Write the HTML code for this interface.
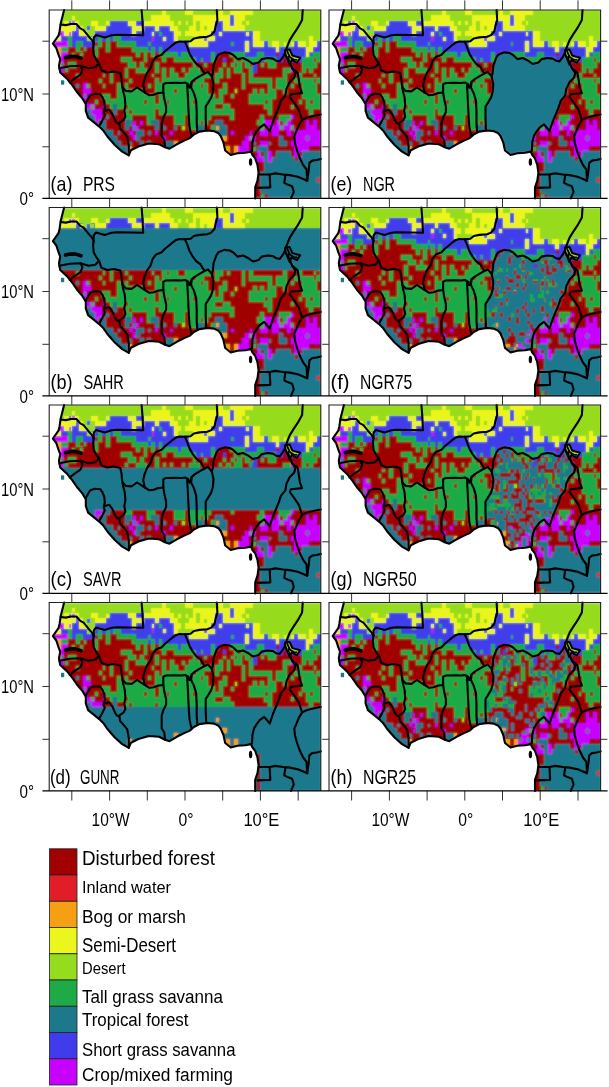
<!DOCTYPE html>
<html><head><meta charset="utf-8"><title>Land cover experiments</title>
<style>html,body{margin:0;padding:0;background:#fff}svg{display:block}text{font-family:"Liberation Sans",sans-serif;fill:#000}</style></head><body>
<svg width="609" height="1087" viewBox="0 0 609 1087">
<rect width="609" height="1087" fill="#fff"/>
<filter id="soft" x="0" y="0" width="100%" height="100%" filterUnits="objectBoundingBox"><feGaussianBlur stdDeviation="0.8" result="b"/><feComposite in="SourceGraphic" in2="b" operator="arithmetic" k1="0" k2="0.5" k3="0.5" k4="0"/></filter>
<g transform="translate(49.2 10)">
<g filter="url(#soft)"><rect width="271.6" height="188.4" fill="#fff"/><g shape-rendering="crispEdges">
<path fill="#96dc1e" d="M7.5 0H113.2V5.2H7.5zM116.9 0H135.8V5.2H116.9zM143.3 0H169.8V5.2H143.3zM173.5 0H181.1V5.2H173.5zM203.7 0H271.6V5.2H203.7zM3.8 5.2H101.9V10.5H3.8zM120.7 5.2H143.3V10.5H120.7zM196.2 5.2H271.6V10.5H196.2zM3.8 10.5H15.1V15.7H3.8zM30.2 10.5H41.5V15.7H30.2zM49 10.5H60.4V15.7H49zM124.5 10.5H143.3V15.7H124.5zM147.1 10.5H150.9V15.7H147.1zM196.2 10.5H271.6V15.7H196.2zM34 15.7H45.3V20.9H34zM128.3 15.7H139.6V20.9H128.3zM147.1 15.7H150.9V20.9H147.1zM196.2 15.7H271.6V20.9H196.2zM37.7 20.9H45.3V26.2H37.7zM132 20.9H135.8V26.2H132zM211.2 20.9H271.6V26.2H211.2zM37.7 26.2H41.5V31.4H37.7zM128.3 26.2H143.3V31.4H128.3zM211.2 26.2H260.3V31.4H211.2zM264.1 26.2H271.6V31.4H264.1zM218.8 31.4H222.6V36.6H218.8zM230.1 31.4H245.2V36.6H230.1zM256.5 31.4H260.3V36.6H256.5z"/>
<path fill="#ebf51e" d="M113.2 0H116.9V5.2H113.2zM135.8 0H143.3V5.2H135.8zM169.8 0H173.5V5.2H169.8zM181.1 0H203.7V5.2H181.1zM101.9 5.2H120.7V10.5H101.9zM143.3 5.2H181.1V10.5H143.3zM184.8 5.2H196.2V10.5H184.8zM15.1 10.5H30.2V15.7H15.1zM41.5 10.5H49V15.7H41.5zM79.2 10.5H86.8V15.7H79.2zM94.3 10.5H124.5V15.7H94.3zM143.3 10.5H147.1V15.7H143.3zM150.9 10.5H166V15.7H150.9zM173.5 10.5H181.1V15.7H173.5zM184.8 10.5H196.2V15.7H184.8zM3.8 15.7H26.4V20.9H3.8zM30.2 15.7H34V20.9H30.2zM45.3 15.7H56.6V20.9H45.3zM83 15.7H94.3V20.9H83zM105.6 15.7H109.4V20.9H105.6zM120.7 15.7H128.3V20.9H120.7zM139.6 15.7H147.1V20.9H139.6zM150.9 15.7H166V20.9H150.9zM173.5 15.7H196.2V20.9H173.5zM15.1 20.9H22.6V26.2H15.1zM30.2 20.9H37.7V26.2H30.2zM83 20.9H86.8V26.2H83zM124.5 20.9H132V26.2H124.5zM135.8 20.9H162.2V26.2H135.8zM203.7 20.9H211.2V26.2H203.7zM0 26.2H11.3V31.4H0zM124.5 26.2H128.3V31.4H124.5zM143.3 26.2H166V31.4H143.3zM203.7 26.2H211.2V31.4H203.7zM260.3 26.2H264.1V31.4H260.3zM139.6 31.4H158.4V36.6H139.6zM196.2 31.4H199.9V36.6H196.2zM203.7 31.4H215V36.6H203.7zM222.6 31.4H230.1V36.6H222.6zM249 31.4H256.5V36.6H249zM260.3 31.4H267.8V36.6H260.3zM196.2 36.6H199.9V41.9H196.2zM226.3 36.6H230.1V41.9H226.3zM256.5 36.6H264.1V41.9H256.5zM256.5 41.9H260.3V47.1H256.5z"/>
<path fill="#413ceb" d="M181.1 5.2H184.8V10.5H181.1zM60.4 10.5H79.2V15.7H60.4zM86.8 10.5H94.3V15.7H86.8zM166 10.5H173.5V15.7H166zM181.1 10.5H184.8V15.7H181.1zM26.4 15.7H30.2V20.9H26.4zM56.6 15.7H83V20.9H56.6zM94.3 15.7H105.6V20.9H94.3zM109.4 15.7H120.7V20.9H109.4zM166 15.7H173.5V20.9H166zM22.6 20.9H30.2V26.2H22.6zM45.3 20.9H83V26.2H45.3zM86.8 20.9H124.5V26.2H86.8zM162.2 20.9H203.7V26.2H162.2zM11.3 26.2H18.9V31.4H11.3zM22.6 26.2H37.7V31.4H22.6zM41.5 26.2H49V31.4H41.5zM52.8 26.2H56.6V31.4H52.8zM60.4 26.2H64.1V31.4H60.4zM71.7 26.2H124.5V31.4H71.7zM166 26.2H203.7V31.4H166zM22.6 31.4H26.4V36.6H22.6zM34 31.4H45.3V36.6H34zM86.8 31.4H139.6V36.6H86.8zM158.4 31.4H196.2V36.6H158.4zM199.9 31.4H203.7V36.6H199.9zM215 31.4H218.8V36.6H215zM245.2 31.4H249V36.6H245.2zM267.8 31.4H271.6V36.6H267.8zM105.6 36.6H109.4V41.9H105.6zM113.2 36.6H196.2V41.9H113.2zM199.9 36.6H226.3V41.9H199.9zM230.1 36.6H256.5V41.9H230.1zM264.1 36.6H271.6V41.9H264.1zM128.3 41.9H132V47.1H128.3zM139.6 41.9H162.2V47.1H139.6zM166 41.9H169.8V47.1H166zM196.2 41.9H207.5V47.1H196.2zM215 41.9H256.5V47.1H215zM147.1 47.1H162.2V52.3H147.1zM226.3 47.1H233.9V52.3H226.3zM237.7 47.1H252.7V52.3H237.7zM203.7 52.3H207.5V57.6H203.7zM203.7 57.6H207.5V62.8H203.7z"/>
<path fill="#c800ff" d="M3.8 20.9H15.1V26.2H3.8zM0 31.4H18.9V36.6H0zM11.3 41.9H18.9V47.1H11.3zM3.8 47.1H15.1V52.3H3.8zM11.3 52.3H15.1V57.6H11.3zM3.8 57.6H15.1V62.8H3.8zM34 73.3H37.7V78.5H34zM34 78.5H41.5V83.7H34zM34 83.7H37.7V89H34zM26.4 89H37.7V94.2H26.4zM30.2 94.2H45.3V99.4H30.2zM41.5 99.4H52.8V104.7H41.5zM45.3 104.7H52.8V109.9H45.3zM45.3 109.9H49V115.1H45.3zM215 109.9H222.6V115.1H215zM226.3 109.9H230.1V115.1H226.3zM237.7 109.9H241.4V115.1H237.7zM256.5 109.9H260.3V115.1H256.5zM264.1 109.9H267.8V115.1H264.1zM83 115.1H86.8V120.4H83zM215 115.1H245.2V120.4H215zM256.5 115.1H267.8V120.4H256.5zM83 120.4H86.8V125.6H83zM211.2 120.4H218.8V125.6H211.2zM222.6 120.4H230.1V125.6H222.6zM237.7 120.4H241.4V125.6H237.7zM245.2 120.4H271.6V125.6H245.2zM196.2 125.6H203.7V130.8H196.2zM245.2 125.6H271.6V130.8H245.2zM192.4 130.8H199.9V136.1H192.4zM211.2 130.8H218.8V136.1H211.2zM241.4 130.8H271.6V136.1H241.4zM188.6 136.1H199.9V141.3H188.6zM245.2 136.1H260.3V141.3H245.2zM188.6 141.3H199.9V146.5H188.6zM207.5 141.3H211.2V146.5H207.5zM218.8 141.3H222.6V146.5H218.8zM245.2 141.3H252.7V146.5H245.2zM188.6 146.5H215V151.8H188.6zM218.8 146.5H222.6V151.8H218.8z"/>
<path fill="#1eaa46" d="M18.9 26.2H22.6V31.4H18.9zM49 26.2H52.8V31.4H49zM56.6 26.2H60.4V31.4H56.6zM64.1 26.2H71.7V31.4H64.1zM18.9 31.4H22.6V36.6H18.9zM26.4 31.4H34V36.6H26.4zM45.3 31.4H52.8V36.6H45.3zM56.6 31.4H60.4V36.6H56.6zM67.9 31.4H86.8V36.6H67.9zM11.3 36.6H18.9V41.9H11.3zM26.4 36.6H34V41.9H26.4zM45.3 36.6H49V41.9H45.3zM56.6 36.6H60.4V41.9H56.6zM83 36.6H105.6V41.9H83zM109.4 36.6H113.2V41.9H109.4zM45.3 41.9H49V47.1H45.3zM86.8 41.9H90.5V47.1H86.8zM94.3 41.9H98.1V47.1H94.3zM101.9 41.9H105.6V47.1H101.9zM109.4 41.9H128.3V47.1H109.4zM132 41.9H139.6V47.1H132zM162.2 41.9H166V47.1H162.2zM181.1 41.9H196.2V47.1H181.1zM207.5 41.9H215V47.1H207.5zM260.3 41.9H271.6V47.1H260.3zM71.7 47.1H83V52.3H71.7zM94.3 47.1H98.1V52.3H94.3zM113.2 47.1H116.9V52.3H113.2zM124.5 47.1H147.1V52.3H124.5zM162.2 47.1H166V52.3H162.2zM184.8 47.1H226.3V52.3H184.8zM252.7 47.1H271.6V52.3H252.7zM18.9 52.3H26.4V57.6H18.9zM79.2 52.3H86.8V57.6H79.2zM90.5 52.3H94.3V57.6H90.5zM105.6 52.3H109.4V57.6H105.6zM143.3 52.3H147.1V57.6H143.3zM184.8 52.3H192.4V57.6H184.8zM196.2 52.3H203.7V57.6H196.2zM218.8 52.3H226.3V57.6H218.8zM252.7 52.3H267.8V57.6H252.7zM75.4 57.6H79.2V62.8H75.4zM86.8 57.6H98.1V62.8H86.8zM105.6 57.6H109.4V62.8H105.6zM113.2 57.6H116.9V62.8H113.2zM120.7 57.6H124.5V62.8H120.7zM139.6 57.6H150.9V62.8H139.6zM169.8 57.6H173.5V62.8H169.8zM177.3 57.6H181.1V62.8H177.3zM184.8 57.6H192.4V62.8H184.8zM199.9 57.6H203.7V62.8H199.9zM233.9 57.6H241.4V62.8H233.9zM252.7 57.6H256.5V62.8H252.7zM260.3 57.6H264.1V62.8H260.3zM60.4 62.8H64.1V68H60.4zM75.4 62.8H79.2V68H75.4zM113.2 62.8H116.9V68H113.2zM120.7 62.8H128.3V68H120.7zM135.8 62.8H162.2V68H135.8zM166 62.8H173.5V68H166zM177.3 62.8H181.1V68H177.3zM192.4 62.8H196.2V68H192.4zM199.9 62.8H203.7V68H199.9zM233.9 62.8H237.7V68H233.9zM249 62.8H252.7V68H249zM60.4 68H64.1V73.3H60.4zM105.6 68H109.4V73.3H105.6zM113.2 68H154.7V73.3H113.2zM166 68H169.8V73.3H166zM192.4 68H196.2V73.3H192.4zM199.9 68H222.6V73.3H199.9zM226.3 68H237.7V73.3H226.3zM245.2 68H271.6V73.3H245.2zM67.9 73.3H71.7V78.5H67.9zM75.4 73.3H79.2V78.5H75.4zM105.6 73.3H158.4V78.5H105.6zM173.5 73.3H177.3V78.5H173.5zM192.4 73.3H196.2V78.5H192.4zM218.8 73.3H222.6V78.5H218.8zM226.3 73.3H237.7V78.5H226.3zM252.7 73.3H267.8V78.5H252.7zM67.9 78.5H94.3V83.7H67.9zM105.6 78.5H158.4V83.7H105.6zM169.8 78.5H177.3V83.7H169.8zM203.7 78.5H207.5V83.7H203.7zM211.2 78.5H215V83.7H211.2zM218.8 78.5H226.3V83.7H218.8zM233.9 78.5H237.7V83.7H233.9zM252.7 78.5H267.8V83.7H252.7zM52.8 83.7H60.4V89H52.8zM67.9 83.7H105.6V89H67.9zM109.4 83.7H166V89H109.4zM169.8 83.7H173.5V89H169.8zM199.9 83.7H226.3V89H199.9zM252.7 83.7H271.6V89H252.7zM56.6 89H105.6V94.2H56.6zM109.4 89H173.5V94.2H109.4zM199.9 89H222.6V94.2H199.9zM256.5 89H271.6V94.2H256.5zM60.4 94.2H64.1V99.4H60.4zM67.9 94.2H166V99.4H67.9zM173.5 94.2H181.1V99.4H173.5zM215 94.2H222.6V99.4H215zM256.5 94.2H271.6V99.4H256.5zM75.4 99.4H105.6V104.7H75.4zM109.4 99.4H184.8V104.7H109.4zM218.8 99.4H222.6V104.7H218.8zM260.3 99.4H264.1V104.7H260.3zM75.4 104.7H83V109.9H75.4zM98.1 104.7H105.6V109.9H98.1zM124.5 104.7H135.8V109.9H124.5zM139.6 104.7H162.2V109.9H139.6zM181.1 104.7H184.8V109.9H181.1zM211.2 104.7H215V109.9H211.2zM230.1 104.7H241.4V109.9H230.1zM98.1 109.9H101.9V115.1H98.1zM124.5 109.9H135.8V115.1H124.5zM139.6 109.9H158.4V115.1H139.6zM207.5 109.9H215V115.1H207.5zM230.1 109.9H237.7V115.1H230.1zM139.6 115.1H147.1V120.4H139.6zM162.2 115.1H166V120.4H162.2zM211.2 115.1H215V120.4H211.2zM162.2 120.4H166V125.6H162.2zM162.2 125.6H166V130.8H162.2z"/>
<path fill="#a00000" d="M52.8 31.4H56.6V36.6H52.8zM60.4 31.4H67.9V36.6H60.4zM18.9 36.6H26.4V41.9H18.9zM34 36.6H45.3V41.9H34zM49 36.6H56.6V41.9H49zM60.4 36.6H83V41.9H60.4zM18.9 41.9H45.3V47.1H18.9zM49 41.9H86.8V47.1H49zM90.5 41.9H94.3V47.1H90.5zM98.1 41.9H101.9V47.1H98.1zM105.6 41.9H109.4V47.1H105.6zM169.8 41.9H181.1V47.1H169.8zM15.1 47.1H71.7V52.3H15.1zM83 47.1H94.3V52.3H83zM98.1 47.1H113.2V52.3H98.1zM116.9 47.1H124.5V52.3H116.9zM166 47.1H184.8V52.3H166zM233.9 47.1H237.7V52.3H233.9zM15.1 52.3H18.9V57.6H15.1zM26.4 52.3H79.2V57.6H26.4zM86.8 52.3H90.5V57.6H86.8zM94.3 52.3H105.6V57.6H94.3zM109.4 52.3H143.3V57.6H109.4zM147.1 52.3H184.8V57.6H147.1zM192.4 52.3H196.2V57.6H192.4zM207.5 52.3H218.8V57.6H207.5zM226.3 52.3H252.7V57.6H226.3zM267.8 52.3H271.6V57.6H267.8zM15.1 57.6H75.4V62.8H15.1zM79.2 57.6H86.8V62.8H79.2zM98.1 57.6H105.6V62.8H98.1zM109.4 57.6H113.2V62.8H109.4zM116.9 57.6H120.7V62.8H116.9zM124.5 57.6H139.6V62.8H124.5zM150.9 57.6H169.8V62.8H150.9zM173.5 57.6H177.3V62.8H173.5zM181.1 57.6H184.8V62.8H181.1zM192.4 57.6H199.9V62.8H192.4zM207.5 57.6H233.9V62.8H207.5zM241.4 57.6H252.7V62.8H241.4zM256.5 57.6H260.3V62.8H256.5zM264.1 57.6H271.6V62.8H264.1zM7.5 62.8H60.4V68H7.5zM64.1 62.8H75.4V68H64.1zM79.2 62.8H113.2V68H79.2zM116.9 62.8H120.7V68H116.9zM128.3 62.8H135.8V68H128.3zM162.2 62.8H166V68H162.2zM173.5 62.8H177.3V68H173.5zM181.1 62.8H192.4V68H181.1zM196.2 62.8H199.9V68H196.2zM203.7 62.8H233.9V68H203.7zM237.7 62.8H249V68H237.7zM252.7 62.8H271.6V68H252.7zM11.3 68H60.4V73.3H11.3zM64.1 68H105.6V73.3H64.1zM109.4 68H113.2V73.3H109.4zM154.7 68H166V73.3H154.7zM169.8 68H192.4V73.3H169.8zM196.2 68H199.9V73.3H196.2zM222.6 68H226.3V73.3H222.6zM237.7 68H245.2V73.3H237.7zM15.1 73.3H34V78.5H15.1zM37.7 73.3H67.9V78.5H37.7zM71.7 73.3H75.4V78.5H71.7zM79.2 73.3H105.6V78.5H79.2zM158.4 73.3H173.5V78.5H158.4zM177.3 73.3H192.4V78.5H177.3zM196.2 73.3H218.8V78.5H196.2zM222.6 73.3H226.3V78.5H222.6zM237.7 73.3H252.7V78.5H237.7zM267.8 73.3H271.6V78.5H267.8zM18.9 78.5H34V83.7H18.9zM41.5 78.5H67.9V83.7H41.5zM94.3 78.5H105.6V83.7H94.3zM158.4 78.5H169.8V83.7H158.4zM177.3 78.5H203.7V83.7H177.3zM207.5 78.5H211.2V83.7H207.5zM215 78.5H218.8V83.7H215zM226.3 78.5H233.9V83.7H226.3zM237.7 78.5H252.7V83.7H237.7zM267.8 78.5H271.6V83.7H267.8zM22.6 83.7H34V89H22.6zM37.7 83.7H52.8V89H37.7zM60.4 83.7H67.9V89H60.4zM105.6 83.7H109.4V89H105.6zM166 83.7H169.8V89H166zM173.5 83.7H199.9V89H173.5zM226.3 83.7H252.7V89H226.3zM37.7 89H56.6V94.2H37.7zM105.6 89H109.4V94.2H105.6zM173.5 89H199.9V94.2H173.5zM222.6 89H256.5V94.2H222.6zM45.3 94.2H60.4V99.4H45.3zM166 94.2H173.5V99.4H166zM181.1 94.2H215V99.4H181.1zM222.6 94.2H256.5V99.4H222.6zM52.8 99.4H64.1V104.7H52.8zM67.9 99.4H75.4V104.7H67.9zM105.6 99.4H109.4V104.7H105.6zM184.8 99.4H218.8V104.7H184.8zM222.6 99.4H260.3V104.7H222.6zM264.1 99.4H271.6V104.7H264.1zM52.8 104.7H75.4V109.9H52.8zM83 104.7H98.1V109.9H83zM105.6 104.7H124.5V109.9H105.6zM135.8 104.7H139.6V109.9H135.8zM162.2 104.7H181.1V109.9H162.2zM184.8 104.7H211.2V109.9H184.8zM215 104.7H230.1V109.9H215zM241.4 104.7H271.6V109.9H241.4zM56.6 109.9H75.4V115.1H56.6zM83 109.9H98.1V115.1H83zM109.4 109.9H124.5V115.1H109.4zM135.8 109.9H139.6V115.1H135.8zM158.4 109.9H166V115.1H158.4zM173.5 109.9H207.5V115.1H173.5zM222.6 109.9H226.3V115.1H222.6zM241.4 109.9H256.5V115.1H241.4zM260.3 109.9H264.1V115.1H260.3zM267.8 109.9H271.6V115.1H267.8zM56.6 115.1H75.4V120.4H56.6zM86.8 115.1H105.6V120.4H86.8zM109.4 115.1H139.6V120.4H109.4zM154.7 115.1H162.2V120.4H154.7zM177.3 115.1H211.2V120.4H177.3zM245.2 115.1H256.5V120.4H245.2zM267.8 115.1H271.6V120.4H267.8zM64.1 120.4H83V125.6H64.1zM94.3 120.4H147.1V125.6H94.3zM154.7 120.4H162.2V125.6H154.7zM177.3 120.4H211.2V125.6H177.3zM218.8 120.4H222.6V125.6H218.8zM230.1 120.4H237.7V125.6H230.1zM241.4 120.4H245.2V125.6H241.4zM67.9 125.6H86.8V130.8H67.9zM90.5 125.6H147.1V130.8H90.5zM154.7 125.6H162.2V130.8H154.7zM177.3 125.6H196.2V130.8H177.3zM203.7 125.6H230.1V130.8H203.7zM233.9 125.6H245.2V130.8H233.9zM71.7 130.8H90.5V136.1H71.7zM94.3 130.8H98.1V136.1H94.3zM101.9 130.8H116.9V136.1H101.9zM128.3 130.8H147.1V136.1H128.3zM166 130.8H192.4V136.1H166zM199.9 130.8H211.2V136.1H199.9zM218.8 130.8H230.1V136.1H218.8zM237.7 130.8H241.4V136.1H237.7zM83 136.1H90.5V141.3H83zM94.3 136.1H98.1V141.3H94.3zM101.9 136.1H113.2V141.3H101.9zM128.3 136.1H139.6V141.3H128.3zM181.1 136.1H184.8V141.3H181.1zM199.9 136.1H207.5V141.3H199.9zM218.8 136.1H245.2V141.3H218.8zM260.3 136.1H271.6V141.3H260.3zM83 141.3H90.5V146.5H83zM94.3 141.3H98.1V146.5H94.3zM101.9 141.3H113.2V146.5H101.9zM181.1 141.3H184.8V146.5H181.1zM199.9 141.3H207.5V146.5H199.9zM222.6 141.3H226.3V146.5H222.6zM241.4 141.3H245.2V146.5H241.4zM181.1 146.5H184.8V151.8H181.1zM199.9 151.8H215V157H199.9zM199.9 157H215V162.2H199.9zM199.9 162.2H211.2V167.5H199.9zM199.9 167.5H211.2V172.7H199.9zM199.9 172.7H211.2V177.9H199.9zM199.9 177.9H211.2V183.2H199.9zM199.9 183.2H215V188.4H199.9z"/>
<path fill="#f5a014" d="M0 36.6H11.3V41.9H0zM0 41.9H11.3V47.1H0zM0 52.3H11.3V57.6H0zM166 125.6H177.3V130.8H166zM124.5 130.8H128.3V136.1H124.5zM79.2 136.1H83V141.3H79.2zM124.5 136.1H128.3V141.3H124.5zM169.8 136.1H181.1V141.3H169.8zM184.8 136.1H188.6V141.3H184.8zM79.2 141.3H83V146.5H79.2zM124.5 141.3H128.3V146.5H124.5zM173.5 141.3H181.1V146.5H173.5zM184.8 141.3H188.6V146.5H184.8zM79.2 146.5H83V151.8H79.2zM177.3 146.5H181.1V151.8H177.3zM184.8 146.5H188.6V151.8H184.8z"/>
<path fill="#1e788c" d="M64.1 94.2H67.9V99.4H64.1zM30.2 99.4H41.5V104.7H30.2zM64.1 99.4H67.9V104.7H64.1zM30.2 104.7H45.3V109.9H30.2zM34 109.9H45.3V115.1H34zM49 109.9H56.6V115.1H49zM75.4 109.9H83V115.1H75.4zM101.9 109.9H109.4V115.1H101.9zM166 109.9H173.5V115.1H166zM37.7 115.1H56.6V120.4H37.7zM75.4 115.1H83V120.4H75.4zM105.6 115.1H109.4V120.4H105.6zM147.1 115.1H154.7V120.4H147.1zM166 115.1H177.3V120.4H166zM41.5 120.4H64.1V125.6H41.5zM86.8 120.4H94.3V125.6H86.8zM147.1 120.4H154.7V125.6H147.1zM166 120.4H177.3V125.6H166zM49 125.6H67.9V130.8H49zM86.8 125.6H90.5V130.8H86.8zM147.1 125.6H154.7V130.8H147.1zM230.1 125.6H233.9V130.8H230.1zM56.6 130.8H71.7V136.1H56.6zM90.5 130.8H94.3V136.1H90.5zM98.1 130.8H101.9V136.1H98.1zM116.9 130.8H124.5V136.1H116.9zM230.1 130.8H237.7V136.1H230.1zM60.4 136.1H79.2V141.3H60.4zM90.5 136.1H94.3V141.3H90.5zM98.1 136.1H101.9V141.3H98.1zM113.2 136.1H124.5V141.3H113.2zM207.5 136.1H218.8V141.3H207.5zM67.9 141.3H79.2V146.5H67.9zM90.5 141.3H94.3V146.5H90.5zM98.1 141.3H101.9V146.5H98.1zM113.2 141.3H124.5V146.5H113.2zM211.2 141.3H218.8V146.5H211.2zM226.3 141.3H241.4V146.5H226.3zM252.7 141.3H271.6V146.5H252.7zM71.7 146.5H79.2V151.8H71.7zM116.9 146.5H120.7V151.8H116.9zM215 146.5H218.8V151.8H215zM222.6 146.5H271.6V151.8H222.6zM75.4 151.8H79.2V157H75.4zM215 151.8H271.6V157H215zM215 157H271.6V162.2H215zM211.2 162.2H271.6V167.5H211.2zM211.2 167.5H271.6V172.7H211.2zM211.2 172.7H271.6V177.9H211.2zM211.2 177.9H271.6V183.2H211.2zM215 183.2H271.6V188.4H215z"/>
<path fill="#ebf51e" d="M23.1 5.9h2.8v3.9h-2.8zM26.9 11.1h2.8v3.9h-2.8zM57.1 11.1h2.8v3.9h-2.8zM128.7 11.1h2.8v3.9h-2.8zM136.3 11.1h2.8v3.9h-2.8zM196.6 11.1h2.8v3.9h-2.8zM102.3 21.6h2.8v3.9h-2.8zM170.2 21.6h2.8v3.9h-2.8zM196.6 21.6h2.8v3.9h-2.8zM42 26.8h2.8v3.9h-2.8zM113.7 26.8h2.8v3.9h-2.8zM234.4 32.1h2.8v3.9h-2.8zM241.9 32.1h2.8v3.9h-2.8z"/>
<path fill="#413ceb" d="M19.3 11.1h2.8v3.9h-2.8zM38.2 16.4h2.8v3.9h-2.8zM155.1 26.8h2.8v3.9h-2.8zM98.6 37.3h2.8v3.9h-2.8zM260.8 42.5h2.8v3.9h-2.8zM174 47.8h2.8v3.9h-2.8zM211.7 47.8h2.8v3.9h-2.8z"/>
<path fill="#c800ff" d="M23.1 11.1h2.8v3.9h-2.8zM19.3 21.6h2.8v3.9h-2.8zM102.3 26.8h2.8v3.9h-2.8zM241.9 58.2h2.8v3.9h-2.8zM53.3 94.9h2.8v3.9h-2.8zM241.9 105.3h2.8v3.9h-2.8zM83.5 110.6h2.8v3.9h-2.8zM91 110.6h2.8v3.9h-2.8zM87.2 115.8h2.8v3.9h-2.8zM79.7 121h2.8v3.9h-2.8zM106.1 121h2.8v3.9h-2.8zM121.2 121h2.8v3.9h-2.8zM181.6 121h2.8v3.9h-2.8zM200.4 121h2.8v3.9h-2.8zM83.5 126.3h2.8v3.9h-2.8zM113.7 126.3h2.8v3.9h-2.8zM204.2 126.3h2.8v3.9h-2.8z"/>
<path fill="#96dc1e" d="M192.9 11.1h2.8v3.9h-2.8zM155.1 16.4h2.8v3.9h-2.8zM185.3 79.2h2.8v3.9h-2.8zM132.5 115.8h2.8v3.9h-2.8z"/>
<path fill="#1eaa46" d="M109.9 21.6h2.8v3.9h-2.8zM98.6 32.1h2.8v3.9h-2.8zM181.6 32.1h2.8v3.9h-2.8zM34.4 37.3h2.8v3.9h-2.8zM23.1 42.5h2.8v3.9h-2.8zM30.7 42.5h2.8v3.9h-2.8zM151.4 47.8h2.8v3.9h-2.8zM155.1 53h2.8v3.9h-2.8zM174 53h2.8v3.9h-2.8zM181.6 53h2.8v3.9h-2.8zM211.7 53h2.8v3.9h-2.8zM15.6 58.2h2.8v3.9h-2.8zM132.5 58.2h2.8v3.9h-2.8zM26.9 63.5h2.8v3.9h-2.8zM53.3 63.5h2.8v3.9h-2.8zM102.3 63.5h2.8v3.9h-2.8zM264.5 63.5h2.8v3.9h-2.8zM49.5 68.7h2.8v3.9h-2.8zM79.7 68.7h2.8v3.9h-2.8zM38.2 73.9h2.8v3.9h-2.8zM53.3 73.9h2.8v3.9h-2.8zM98.6 73.9h2.8v3.9h-2.8zM241.9 73.9h2.8v3.9h-2.8zM181.6 84.4h2.8v3.9h-2.8zM45.8 89.6h2.8v3.9h-2.8zM249.5 89.6h2.8v3.9h-2.8zM42 94.9h2.8v3.9h-2.8zM241.9 94.9h2.8v3.9h-2.8zM230.6 115.8h2.8v3.9h-2.8zM241.9 115.8h2.8v3.9h-2.8zM200.4 126.3h2.8v3.9h-2.8zM204.2 136.7h2.8v3.9h-2.8zM211.7 183.8h2.8v3.9h-2.8z"/>
<path fill="#a00000" d="M45.8 32.1h2.8v3.9h-2.8zM30.7 37.3h2.8v3.9h-2.8zM226.8 42.5h2.8v3.9h-2.8zM189.1 47.8h2.8v3.9h-2.8zM264.5 47.8h2.8v3.9h-2.8zM185.3 53h2.8v3.9h-2.8zM200.4 53h2.8v3.9h-2.8zM143.8 68.7h2.8v3.9h-2.8zM264.5 68.7h2.8v3.9h-2.8zM151.4 73.9h2.8v3.9h-2.8zM125 79.2h2.8v3.9h-2.8zM94.8 89.6h2.8v3.9h-2.8zM117.4 89.6h2.8v3.9h-2.8zM143.8 89.6h2.8v3.9h-2.8zM215.5 89.6h2.8v3.9h-2.8zM260.8 89.6h2.8v3.9h-2.8zM75.9 94.9h2.8v3.9h-2.8zM79.7 100.1h2.8v3.9h-2.8zM49.5 110.6h2.8v3.9h-2.8zM151.4 110.6h2.8v3.9h-2.8zM230.6 110.6h2.8v3.9h-2.8zM79.7 115.8h2.8v3.9h-2.8zM215.5 115.8h2.8v3.9h-2.8zM83.5 121h2.8v3.9h-2.8zM211.7 142h2.8v3.9h-2.8zM249.5 142h2.8v3.9h-2.8zM245.7 147.2h2.8v3.9h-2.8zM215.5 183.8h2.8v3.9h-2.8z"/>
<path fill="#1e788c" d="M11.8 53h2.8v3.9h-2.8zM26.9 73.9h2.8v3.9h-2.8zM34.4 84.4h2.8v3.9h-2.8zM57.1 105.3h2.8v3.9h-2.8zM83.5 115.8h2.8v3.9h-2.8zM113.7 115.8h2.8v3.9h-2.8zM125 115.8h2.8v3.9h-2.8zM68.4 121h2.8v3.9h-2.8zM98.6 121h2.8v3.9h-2.8zM257 126.3h2.8v3.9h-2.8zM79.7 131.5h2.8v3.9h-2.8zM204.2 131.5h2.8v3.9h-2.8zM219.3 131.5h2.8v3.9h-2.8z"/>
<path fill="#f5a014" d="M166.5 115.8h2.8v3.9h-2.8z"/>
<path fill="#e11e28" d="M268.3 168.1h2.8v3.9h-2.8z"/>
</g></g>
<polygon fill="#fff" points="0,0 14.9,0 13.2,6.7 11.5,13.4 10.4,21.2 9.3,25.7 3.7,33.5 7.1,38 9.3,44.7 11,49.1 9.8,55.8 11,62.5 12.1,63.5 17.7,68.6 23.2,75.3 27.7,82 33.3,88.7 36.6,94.3 36.6,101 38.9,107.7 44.5,112.1 50,116.6 54.5,121.1 58.2,126.5 65.6,135 73,141.6 79.6,145.3 81.8,140.2 89.2,136.5 99.6,133.5 109.9,134.3 115.8,137.2 120.3,138.7 127.6,134.3 135,130.6 140.3,128.4 144.7,124.5 150.3,121.6 158.1,120.5 164.8,121.1 169.3,123.3 171.5,126 174.3,132.7 176,140.5 181.6,145 188.3,143.3 196.1,142.7 201.7,141.6 203.3,145 206,148.3 208.3,155 209.4,162.8 208.3,170.7 206,177.4 206,188.4 0,188.4"/>
<rect x="11.8" y="70.3" width="3.2" height="4.4" fill="#1e788c"/>
<g fill="none" stroke="#000" stroke-width="2.1" stroke-linejoin="round" stroke-linecap="round">
<polyline points="14.9,0 13.2,6.7 11.5,13.4 10.4,21.2 9.3,25.7 3.7,33.5 7.1,38 9.3,44.7 11,49.1 9.8,55.8 11,62.5 12.1,63.5 17.7,68.6 23.2,75.3 27.7,82 33.3,88.7 36.6,94.3 36.6,101 38.9,107.7 44.5,112.1 50,116.6 54.5,121.1 58.2,126.5 65.6,135 73,141.6 79.6,145.3 81.8,140.2 89.2,136.5 99.6,133.5 109.9,134.3 115.8,137.2 120.3,138.7 127.6,134.3 135,130.6 140.3,128.4 144.7,124.5 150.3,121.6 158.1,120.5 164.8,121.1 169.3,123.3 171.5,126 174.3,132.7 176,140.5 181.6,145 188.3,143.3 196.1,142.7 201.7,141.6 203.3,145 206,148.3 208.3,155 209.4,162.8 208.3,170.7 206,177.4 206,188.4"/>
<polyline points="11.5,14.5 16.5,15.1 22.1,14 27.2,14 31.1,18.4 34.4,20.1 38.9,25.7 42.8,30.1 44.5,33.5"/>
<polyline points="44.5,33.5 44.5,27.9 46.7,25.1 51.2,26.2 55.6,27.4 62.3,25.3 67.8,24.7 94,25.2 93.3,11.2 92.4,0"/>
<polyline points="44.5,33.5 43.9,38 44.5,44.7 46.7,49.1 50,53.6"/>
<polyline points="10.2,58.2 20.5,56.3 31.3,55.8 39.2,58.2 46.1,57.2 49.6,53.6"/>
<polyline points="31.3,55.8 33.3,59.7 31.3,64.6 25.4,68.6 20.5,72.5"/>
<polyline points="50,53.6 52.3,60.3 57.9,62.5 64.8,61.5 71.1,63 72.3,68.6 72.8,74.2 73.9,80.9 75.6,87.6 76.2,95.4 75.1,101 76.2,106.5 74.5,109.9 70,113.2 71.1,118.8 74.4,122.4 78.1,126.9 79.6,135.7 79.6,145.3"/>
<polyline points="36.6,93.1 38.9,88.7 41.1,85.3 45.6,83.7 51.2,84.2 53.4,87.6 55.1,92 55.6,97.6 54.5,102.1 55.6,105.4 52.3,112.1 50,116"/>
<polyline points="55.6,101 60.1,99.8 63.4,104.3 65.7,109.9 67.8,113.2 70,113.2"/>
<polyline points="73.4,77.5 76.7,80.9 82.3,81.4 87.9,77.5 91.2,79.7 95.7,82.5 100.2,85.3 104.6,84.8 109.1,83.1 114.1,82.5"/>
<polyline points="135.8,31.8 130.3,31.5 127,32.4 122.5,35.7 119.2,38.5 115.8,41.3 112.5,44.7 106.9,46.9 103.5,51.4 101.3,58.1 97.9,62.9 95.2,69.7 94,75.3 95.7,82.5"/>
<polyline points="114.1,82.5 115.3,89.8 116.9,96.5 116.9,102.1 114.1,107.7 112.5,113.2 112.5,125.9 115.1,130 115.8,137.2"/>
<polyline points="114.1,82.5 114.1,74.2 116.9,73 125.9,72.8 132.6,73 135.8,72.5 139.1,74.2 140.3,77.5"/>
<polyline points="138,75.3 138.6,85.3 139.1,96.5 139.7,107.7 140.3,116.6 141.4,122.2 142.5,125.9"/>
<polyline points="155.3,63.5 150.3,66.3 145.8,69.1 142.5,71.9 141.4,75.3 140.3,77.5"/>
<polyline points="142.5,72.5 141.9,77.5 144.7,83.1 147,90.9 147.5,102.1 147.5,113.2 148.1,121.6"/>
<polyline points="162.6,66.3 164.3,74.2 163.7,82 162,87.6 158.7,93.1 156.5,96.5 156.5,107.7 157,120.8"/>
<polyline points="135.8,31.8 138,36.8 140.3,43.5 143.6,49.1 147,53.6 151.4,56.9 153.7,60.9 155.3,63.5 158.8,62 162.6,66.3"/>
<polyline points="162.6,66.3 163.7,62.9 164.3,55.8 167.1,48 169.3,44.7 174.9,42.4 180.5,43 183.8,44.7 188.3,49.1 193.9,48 198.3,50.2 203.8,54 209.4,52.5 212.7,49.1 218.3,48 223.9,48.6 227.2,50.8 230.6,51.4 233.9,46.9 236.2,42.4"/>
<polyline points="167.6,0 168.2,10 166.5,15.6 165.4,21.2 162,25.1 158.1,26.8 150.3,27.4 144.7,28.5 141.4,31.3 135.8,31.8"/>
<polyline points="253.5,0 252.9,10 248.5,17.9 244,24.6 240.6,30.1 238.4,35.7 236.2,41.3"/>
<polyline points="236.2,41.3 237.3,46.9 240.6,52.5 242.9,58.1 246.2,63 245.1,67.5 240.6,71.9 237.3,78.6 236.2,85.3 231.7,90.9 229.5,97.6 226.7,104.3 223.9,111 220.5,121.1 217.8,117.7 215,114.4 210.5,117.7 207.1,122.2 204.9,125.9 203.3,132 202.8,141"/>
<polyline points="242.9,58.1 248.5,62.9 249.6,69.7 250.7,77.5 252.9,83.1 241.8,84.2 240.6,87 245.1,93.1 249.6,99.8 251.8,106.5 252.9,109.9 249.6,115.5 247.3,121.1 245.1,126 245.7,132.7 247.9,140.5 250.7,148.3 254,155 257.4,159.5 258,170.7"/>
<polyline points="252.9,109.9 257.4,107.7 261.9,106.5 267.4,105.2 271.6,104.5"/>
<polyline points="258,170.7 259.6,159.5 260.2,152.8 263,150.6 267.4,150 271.6,148.9"/>
<polyline points="209.4,164.5 220.5,164.5 226.1,163.4 233.9,164.5 240.6,165.1 248.5,166.8 254,169 258,170.7"/>
<polyline points="220.5,164.5 221.1,177.4 208.3,177.9"/>
<polyline points="236.2,165 235.1,172.9 238.4,174.6 242.9,176.2 244.6,181.8 241.8,188.4"/>
<polygon fill="#a5d632" stroke-width="2" points="236,40.2 240.4,39.4 243.2,45.6 251,47.7 247.8,52.6 245.3,51.5 242.4,49.9 240.4,54.6 238.5,49.7 236.1,43.5"/>
<polyline stroke-width="1.8" points="238.1,41.5 240.8,47.2 244.6,49.6 247.3,49.8"/>
<polyline stroke-width="1.6" points="239.1,46.5 240.1,51.5"/>
<polyline stroke-width="3.6" points="16.3,47.6 20.8,46.6 25.8,46.4 31.8,48.3"/>
</g>
<ellipse cx="201.4" cy="152" rx="1.7" ry="3.8" fill="#000"/>
<path fill="none" stroke="#222" stroke-width="1.1" d="M0 188.4V0H271.6V188.4"/>
<path fill="none" stroke="#333" stroke-width="1" d="M22.6 0v-9.6M60.4 0v-9.6M98.1 0v-9.6M135.8 0v-9.6M173.5 0v-9.6M211.2 0v-9.6M249 0v-9.6M0 31.2h-6.8M0 84h-6.8M0 136.8h-6.8"/>
<text y="181.2" font-size="20.4"><tspan x="1.4" textLength="21.7" lengthAdjust="spacingAndGlyphs">(a)</tspan> <tspan x="33.7" textLength="32" lengthAdjust="spacingAndGlyphs">PRS</tspan></text>
</g>
<g transform="translate(49.2 207.5)">
<g filter="url(#soft)"><rect width="271.6" height="188.4" fill="#fff"/><g shape-rendering="crispEdges">
<path fill="#96dc1e" d="M7.5 0H113.2V5.2H7.5zM116.9 0H135.8V5.2H116.9zM143.3 0H169.8V5.2H143.3zM173.5 0H181.1V5.2H173.5zM203.7 0H271.6V5.2H203.7zM3.8 5.2H101.9V10.5H3.8zM120.7 5.2H143.3V10.5H120.7zM196.2 5.2H271.6V10.5H196.2zM3.8 10.5H15.1V15.7H3.8zM30.2 10.5H41.5V15.7H30.2zM49 10.5H60.4V15.7H49zM124.5 10.5H143.3V15.7H124.5zM147.1 10.5H150.9V15.7H147.1zM196.2 10.5H271.6V15.7H196.2zM34 15.7H41.5V20.9H34zM128.3 15.7H139.6V20.9H128.3zM147.1 15.7H150.9V20.9H147.1zM196.2 15.7H271.6V20.9H196.2z"/>
<path fill="#ebf51e" d="M113.2 0H116.9V5.2H113.2zM135.8 0H143.3V5.2H135.8zM169.8 0H173.5V5.2H169.8zM181.1 0H203.7V5.2H181.1zM101.9 5.2H120.7V10.5H101.9zM143.3 5.2H181.1V10.5H143.3zM184.8 5.2H196.2V10.5H184.8zM15.1 10.5H30.2V15.7H15.1zM41.5 10.5H49V15.7H41.5zM79.2 10.5H86.8V15.7H79.2zM94.3 10.5H124.5V15.7H94.3zM143.3 10.5H147.1V15.7H143.3zM150.9 10.5H166V15.7H150.9zM173.5 10.5H181.1V15.7H173.5zM184.8 10.5H196.2V15.7H184.8zM3.8 15.7H30.2V20.9H3.8zM45.3 15.7H56.6V20.9H45.3zM83 15.7H94.3V20.9H83zM105.6 15.7H109.4V20.9H105.6zM120.7 15.7H128.3V20.9H120.7zM139.6 15.7H147.1V20.9H139.6zM150.9 15.7H166V20.9H150.9zM173.5 15.7H196.2V20.9H173.5z"/>
<path fill="#413ceb" d="M181.1 5.2H184.8V10.5H181.1zM60.4 10.5H79.2V15.7H60.4zM86.8 10.5H94.3V15.7H86.8zM166 10.5H173.5V15.7H166zM181.1 10.5H184.8V15.7H181.1zM56.6 15.7H83V20.9H56.6zM94.3 15.7H105.6V20.9H94.3zM109.4 15.7H120.7V20.9H109.4zM166 15.7H173.5V20.9H166z"/>
<path fill="#1e788c" d="M30.2 15.7H34V20.9H30.2zM41.5 15.7H45.3V20.9H41.5zM3.8 20.9H271.6V26.2H3.8zM0 26.2H271.6V31.4H0zM0 31.4H271.6V36.6H0zM0 36.6H271.6V41.9H0zM0 41.9H271.6V47.1H0zM3.8 47.1H271.6V52.3H3.8zM0 52.3H271.6V57.6H0zM3.8 57.6H271.6V62.8H3.8zM64.1 94.2H67.9V99.4H64.1zM30.2 99.4H41.5V104.7H30.2zM64.1 99.4H67.9V104.7H64.1zM30.2 104.7H45.3V109.9H30.2zM34 109.9H45.3V115.1H34zM49 109.9H56.6V115.1H49zM75.4 109.9H83V115.1H75.4zM101.9 109.9H109.4V115.1H101.9zM166 109.9H173.5V115.1H166zM37.7 115.1H56.6V120.4H37.7zM75.4 115.1H83V120.4H75.4zM105.6 115.1H109.4V120.4H105.6zM147.1 115.1H154.7V120.4H147.1zM166 115.1H177.3V120.4H166zM41.5 120.4H64.1V125.6H41.5zM86.8 120.4H94.3V125.6H86.8zM147.1 120.4H154.7V125.6H147.1zM166 120.4H177.3V125.6H166zM49 125.6H67.9V130.8H49zM86.8 125.6H90.5V130.8H86.8zM147.1 125.6H154.7V130.8H147.1zM230.1 125.6H233.9V130.8H230.1zM56.6 130.8H71.7V136.1H56.6zM90.5 130.8H94.3V136.1H90.5zM98.1 130.8H101.9V136.1H98.1zM116.9 130.8H124.5V136.1H116.9zM230.1 130.8H237.7V136.1H230.1zM60.4 136.1H79.2V141.3H60.4zM90.5 136.1H94.3V141.3H90.5zM98.1 136.1H101.9V141.3H98.1zM113.2 136.1H124.5V141.3H113.2zM207.5 136.1H218.8V141.3H207.5zM67.9 141.3H79.2V146.5H67.9zM90.5 141.3H94.3V146.5H90.5zM98.1 141.3H101.9V146.5H98.1zM113.2 141.3H124.5V146.5H113.2zM211.2 141.3H218.8V146.5H211.2zM226.3 141.3H241.4V146.5H226.3zM252.7 141.3H271.6V146.5H252.7zM71.7 146.5H79.2V151.8H71.7zM116.9 146.5H120.7V151.8H116.9zM215 146.5H218.8V151.8H215zM222.6 146.5H271.6V151.8H222.6zM75.4 151.8H79.2V157H75.4zM215 151.8H271.6V157H215zM215 157H271.6V162.2H215zM211.2 162.2H271.6V167.5H211.2zM211.2 167.5H271.6V172.7H211.2zM211.2 172.7H271.6V177.9H211.2zM211.2 177.9H271.6V183.2H211.2zM215 183.2H271.6V188.4H215z"/>
<path fill="#a00000" d="M7.5 62.8H60.4V68H7.5zM64.1 62.8H113.2V68H64.1zM128.3 62.8H135.8V68H128.3zM162.2 62.8H166V68H162.2zM173.5 62.8H192.4V68H173.5zM196.2 62.8H199.9V68H196.2zM203.7 62.8H233.9V68H203.7zM237.7 62.8H249V68H237.7zM252.7 62.8H267.8V68H252.7zM11.3 68H60.4V73.3H11.3zM64.1 68H105.6V73.3H64.1zM109.4 68H113.2V73.3H109.4zM154.7 68H166V73.3H154.7zM169.8 68H192.4V73.3H169.8zM196.2 68H199.9V73.3H196.2zM222.6 68H226.3V73.3H222.6zM237.7 68H245.2V73.3H237.7zM15.1 73.3H34V78.5H15.1zM37.7 73.3H67.9V78.5H37.7zM71.7 73.3H75.4V78.5H71.7zM79.2 73.3H105.6V78.5H79.2zM158.4 73.3H173.5V78.5H158.4zM177.3 73.3H192.4V78.5H177.3zM196.2 73.3H218.8V78.5H196.2zM222.6 73.3H226.3V78.5H222.6zM237.7 73.3H252.7V78.5H237.7zM267.8 73.3H271.6V78.5H267.8zM18.9 78.5H34V83.7H18.9zM41.5 78.5H67.9V83.7H41.5zM94.3 78.5H105.6V83.7H94.3zM158.4 78.5H169.8V83.7H158.4zM177.3 78.5H203.7V83.7H177.3zM207.5 78.5H211.2V83.7H207.5zM215 78.5H218.8V83.7H215zM226.3 78.5H233.9V83.7H226.3zM237.7 78.5H252.7V83.7H237.7zM267.8 78.5H271.6V83.7H267.8zM22.6 83.7H34V89H22.6zM37.7 83.7H52.8V89H37.7zM60.4 83.7H67.9V89H60.4zM105.6 83.7H109.4V89H105.6zM166 83.7H169.8V89H166zM173.5 83.7H199.9V89H173.5zM226.3 83.7H252.7V89H226.3zM37.7 89H56.6V94.2H37.7zM105.6 89H109.4V94.2H105.6zM173.5 89H199.9V94.2H173.5zM222.6 89H256.5V94.2H222.6zM45.3 94.2H60.4V99.4H45.3zM166 94.2H173.5V99.4H166zM181.1 94.2H215V99.4H181.1zM222.6 94.2H256.5V99.4H222.6zM52.8 99.4H64.1V104.7H52.8zM67.9 99.4H75.4V104.7H67.9zM105.6 99.4H109.4V104.7H105.6zM184.8 99.4H218.8V104.7H184.8zM222.6 99.4H260.3V104.7H222.6zM264.1 99.4H271.6V104.7H264.1zM52.8 104.7H75.4V109.9H52.8zM83 104.7H98.1V109.9H83zM105.6 104.7H124.5V109.9H105.6zM135.8 104.7H139.6V109.9H135.8zM162.2 104.7H181.1V109.9H162.2zM184.8 104.7H211.2V109.9H184.8zM215 104.7H230.1V109.9H215zM241.4 104.7H271.6V109.9H241.4zM56.6 109.9H75.4V115.1H56.6zM83 109.9H98.1V115.1H83zM109.4 109.9H124.5V115.1H109.4zM135.8 109.9H139.6V115.1H135.8zM158.4 109.9H166V115.1H158.4zM173.5 109.9H207.5V115.1H173.5zM222.6 109.9H226.3V115.1H222.6zM241.4 109.9H256.5V115.1H241.4zM260.3 109.9H264.1V115.1H260.3zM267.8 109.9H271.6V115.1H267.8zM56.6 115.1H75.4V120.4H56.6zM86.8 115.1H105.6V120.4H86.8zM109.4 115.1H139.6V120.4H109.4zM154.7 115.1H162.2V120.4H154.7zM177.3 115.1H211.2V120.4H177.3zM245.2 115.1H256.5V120.4H245.2zM267.8 115.1H271.6V120.4H267.8zM64.1 120.4H83V125.6H64.1zM94.3 120.4H147.1V125.6H94.3zM154.7 120.4H162.2V125.6H154.7zM177.3 120.4H211.2V125.6H177.3zM218.8 120.4H222.6V125.6H218.8zM230.1 120.4H237.7V125.6H230.1zM241.4 120.4H245.2V125.6H241.4zM67.9 125.6H86.8V130.8H67.9zM90.5 125.6H147.1V130.8H90.5zM154.7 125.6H162.2V130.8H154.7zM177.3 125.6H196.2V130.8H177.3zM203.7 125.6H230.1V130.8H203.7zM233.9 125.6H245.2V130.8H233.9zM71.7 130.8H90.5V136.1H71.7zM94.3 130.8H98.1V136.1H94.3zM101.9 130.8H116.9V136.1H101.9zM128.3 130.8H147.1V136.1H128.3zM166 130.8H192.4V136.1H166zM199.9 130.8H211.2V136.1H199.9zM218.8 130.8H230.1V136.1H218.8zM237.7 130.8H241.4V136.1H237.7zM83 136.1H90.5V141.3H83zM94.3 136.1H98.1V141.3H94.3zM101.9 136.1H113.2V141.3H101.9zM128.3 136.1H139.6V141.3H128.3zM181.1 136.1H184.8V141.3H181.1zM199.9 136.1H207.5V141.3H199.9zM218.8 136.1H245.2V141.3H218.8zM260.3 136.1H271.6V141.3H260.3zM83 141.3H90.5V146.5H83zM94.3 141.3H98.1V146.5H94.3zM101.9 141.3H113.2V146.5H101.9zM181.1 141.3H184.8V146.5H181.1zM199.9 141.3H207.5V146.5H199.9zM222.6 141.3H226.3V146.5H222.6zM241.4 141.3H245.2V146.5H241.4zM181.1 146.5H184.8V151.8H181.1zM199.9 151.8H215V157H199.9zM199.9 157H215V162.2H199.9zM199.9 162.2H211.2V167.5H199.9zM199.9 167.5H211.2V172.7H199.9zM199.9 172.7H211.2V177.9H199.9zM199.9 177.9H211.2V183.2H199.9zM199.9 183.2H215V188.4H199.9z"/>
<path fill="#1eaa46" d="M60.4 62.8H64.1V68H60.4zM113.2 62.8H128.3V68H113.2zM135.8 62.8H162.2V68H135.8zM166 62.8H173.5V68H166zM192.4 62.8H196.2V68H192.4zM199.9 62.8H203.7V68H199.9zM233.9 62.8H237.7V68H233.9zM249 62.8H252.7V68H249zM267.8 62.8H271.6V68H267.8zM60.4 68H64.1V73.3H60.4zM105.6 68H109.4V73.3H105.6zM113.2 68H154.7V73.3H113.2zM166 68H169.8V73.3H166zM192.4 68H196.2V73.3H192.4zM199.9 68H222.6V73.3H199.9zM226.3 68H237.7V73.3H226.3zM245.2 68H271.6V73.3H245.2zM67.9 73.3H71.7V78.5H67.9zM75.4 73.3H79.2V78.5H75.4zM105.6 73.3H158.4V78.5H105.6zM173.5 73.3H177.3V78.5H173.5zM192.4 73.3H196.2V78.5H192.4zM218.8 73.3H222.6V78.5H218.8zM226.3 73.3H237.7V78.5H226.3zM252.7 73.3H267.8V78.5H252.7zM67.9 78.5H94.3V83.7H67.9zM105.6 78.5H158.4V83.7H105.6zM169.8 78.5H177.3V83.7H169.8zM203.7 78.5H207.5V83.7H203.7zM211.2 78.5H215V83.7H211.2zM218.8 78.5H226.3V83.7H218.8zM233.9 78.5H237.7V83.7H233.9zM252.7 78.5H267.8V83.7H252.7zM52.8 83.7H60.4V89H52.8zM67.9 83.7H105.6V89H67.9zM109.4 83.7H166V89H109.4zM169.8 83.7H173.5V89H169.8zM199.9 83.7H226.3V89H199.9zM252.7 83.7H271.6V89H252.7zM56.6 89H105.6V94.2H56.6zM109.4 89H173.5V94.2H109.4zM199.9 89H222.6V94.2H199.9zM256.5 89H271.6V94.2H256.5zM60.4 94.2H64.1V99.4H60.4zM67.9 94.2H166V99.4H67.9zM173.5 94.2H181.1V99.4H173.5zM215 94.2H222.6V99.4H215zM256.5 94.2H271.6V99.4H256.5zM75.4 99.4H105.6V104.7H75.4zM109.4 99.4H184.8V104.7H109.4zM218.8 99.4H222.6V104.7H218.8zM260.3 99.4H264.1V104.7H260.3zM75.4 104.7H83V109.9H75.4zM98.1 104.7H105.6V109.9H98.1zM124.5 104.7H135.8V109.9H124.5zM139.6 104.7H162.2V109.9H139.6zM181.1 104.7H184.8V109.9H181.1zM211.2 104.7H215V109.9H211.2zM230.1 104.7H241.4V109.9H230.1zM98.1 109.9H101.9V115.1H98.1zM124.5 109.9H135.8V115.1H124.5zM139.6 109.9H158.4V115.1H139.6zM207.5 109.9H215V115.1H207.5zM230.1 109.9H237.7V115.1H230.1zM139.6 115.1H147.1V120.4H139.6zM162.2 115.1H166V120.4H162.2zM211.2 115.1H215V120.4H211.2zM162.2 120.4H166V125.6H162.2zM162.2 125.6H166V130.8H162.2z"/>
<path fill="#c800ff" d="M34 73.3H37.7V78.5H34zM34 78.5H41.5V83.7H34zM34 83.7H37.7V89H34zM26.4 89H37.7V94.2H26.4zM30.2 94.2H45.3V99.4H30.2zM41.5 99.4H52.8V104.7H41.5zM45.3 104.7H52.8V109.9H45.3zM45.3 109.9H49V115.1H45.3zM215 109.9H222.6V115.1H215zM226.3 109.9H230.1V115.1H226.3zM237.7 109.9H241.4V115.1H237.7zM256.5 109.9H260.3V115.1H256.5zM264.1 109.9H267.8V115.1H264.1zM83 115.1H86.8V120.4H83zM215 115.1H245.2V120.4H215zM256.5 115.1H267.8V120.4H256.5zM83 120.4H86.8V125.6H83zM211.2 120.4H218.8V125.6H211.2zM222.6 120.4H230.1V125.6H222.6zM237.7 120.4H241.4V125.6H237.7zM245.2 120.4H271.6V125.6H245.2zM196.2 125.6H203.7V130.8H196.2zM245.2 125.6H271.6V130.8H245.2zM192.4 130.8H199.9V136.1H192.4zM211.2 130.8H218.8V136.1H211.2zM241.4 130.8H271.6V136.1H241.4zM188.6 136.1H199.9V141.3H188.6zM245.2 136.1H260.3V141.3H245.2zM188.6 141.3H199.9V146.5H188.6zM207.5 141.3H211.2V146.5H207.5zM218.8 141.3H222.6V146.5H218.8zM245.2 141.3H252.7V146.5H245.2zM188.6 146.5H215V151.8H188.6zM218.8 146.5H222.6V151.8H218.8z"/>
<path fill="#f5a014" d="M166 125.6H177.3V130.8H166zM124.5 130.8H128.3V136.1H124.5zM79.2 136.1H83V141.3H79.2zM124.5 136.1H128.3V141.3H124.5zM169.8 136.1H181.1V141.3H169.8zM184.8 136.1H188.6V141.3H184.8zM79.2 141.3H83V146.5H79.2zM124.5 141.3H128.3V146.5H124.5zM173.5 141.3H181.1V146.5H173.5zM184.8 141.3H188.6V146.5H184.8zM79.2 146.5H83V151.8H79.2zM177.3 146.5H181.1V151.8H177.3zM184.8 146.5H188.6V151.8H184.8z"/>
<path fill="#ebf51e" d="M23.1 5.9h2.8v3.9h-2.8zM26.9 11.1h2.8v3.9h-2.8zM57.1 11.1h2.8v3.9h-2.8zM128.7 11.1h2.8v3.9h-2.8zM136.3 11.1h2.8v3.9h-2.8zM196.6 11.1h2.8v3.9h-2.8zM30.7 16.4h2.8v3.9h-2.8z"/>
<path fill="#413ceb" d="M19.3 11.1h2.8v3.9h-2.8zM26.9 16.4h2.8v3.9h-2.8zM38.2 16.4h2.8v3.9h-2.8z"/>
<path fill="#c800ff" d="M23.1 11.1h2.8v3.9h-2.8zM53.3 94.9h2.8v3.9h-2.8zM241.9 105.3h2.8v3.9h-2.8zM83.5 110.6h2.8v3.9h-2.8zM91 110.6h2.8v3.9h-2.8zM87.2 115.8h2.8v3.9h-2.8zM79.7 121h2.8v3.9h-2.8zM106.1 121h2.8v3.9h-2.8zM121.2 121h2.8v3.9h-2.8zM181.6 121h2.8v3.9h-2.8zM200.4 121h2.8v3.9h-2.8zM83.5 126.3h2.8v3.9h-2.8zM113.7 126.3h2.8v3.9h-2.8zM204.2 126.3h2.8v3.9h-2.8z"/>
<path fill="#96dc1e" d="M192.9 11.1h2.8v3.9h-2.8zM42 16.4h2.8v3.9h-2.8zM155.1 16.4h2.8v3.9h-2.8zM185.3 79.2h2.8v3.9h-2.8zM132.5 115.8h2.8v3.9h-2.8z"/>
<path fill="#1eaa46" d="M26.9 63.5h2.8v3.9h-2.8zM53.3 63.5h2.8v3.9h-2.8zM75.9 63.5h2.8v3.9h-2.8zM102.3 63.5h2.8v3.9h-2.8zM177.8 63.5h2.8v3.9h-2.8zM264.5 63.5h2.8v3.9h-2.8zM49.5 68.7h2.8v3.9h-2.8zM79.7 68.7h2.8v3.9h-2.8zM38.2 73.9h2.8v3.9h-2.8zM53.3 73.9h2.8v3.9h-2.8zM98.6 73.9h2.8v3.9h-2.8zM241.9 73.9h2.8v3.9h-2.8zM181.6 84.4h2.8v3.9h-2.8zM45.8 89.6h2.8v3.9h-2.8zM249.5 89.6h2.8v3.9h-2.8zM42 94.9h2.8v3.9h-2.8zM241.9 94.9h2.8v3.9h-2.8zM230.6 115.8h2.8v3.9h-2.8zM241.9 115.8h2.8v3.9h-2.8zM200.4 126.3h2.8v3.9h-2.8zM204.2 136.7h2.8v3.9h-2.8zM211.7 183.8h2.8v3.9h-2.8z"/>
<path fill="#a00000" d="M117.4 63.5h2.8v3.9h-2.8zM268.3 63.5h2.8v3.9h-2.8zM143.8 68.7h2.8v3.9h-2.8zM264.5 68.7h2.8v3.9h-2.8zM151.4 73.9h2.8v3.9h-2.8zM125 79.2h2.8v3.9h-2.8zM94.8 89.6h2.8v3.9h-2.8zM117.4 89.6h2.8v3.9h-2.8zM143.8 89.6h2.8v3.9h-2.8zM215.5 89.6h2.8v3.9h-2.8zM260.8 89.6h2.8v3.9h-2.8zM75.9 94.9h2.8v3.9h-2.8zM79.7 100.1h2.8v3.9h-2.8zM49.5 110.6h2.8v3.9h-2.8zM151.4 110.6h2.8v3.9h-2.8zM230.6 110.6h2.8v3.9h-2.8zM79.7 115.8h2.8v3.9h-2.8zM215.5 115.8h2.8v3.9h-2.8zM83.5 121h2.8v3.9h-2.8zM211.7 142h2.8v3.9h-2.8zM249.5 142h2.8v3.9h-2.8zM245.7 147.2h2.8v3.9h-2.8zM215.5 183.8h2.8v3.9h-2.8z"/>
<path fill="#1e788c" d="M26.9 73.9h2.8v3.9h-2.8zM34.4 84.4h2.8v3.9h-2.8zM57.1 105.3h2.8v3.9h-2.8zM83.5 115.8h2.8v3.9h-2.8zM113.7 115.8h2.8v3.9h-2.8zM125 115.8h2.8v3.9h-2.8zM68.4 121h2.8v3.9h-2.8zM98.6 121h2.8v3.9h-2.8zM257 126.3h2.8v3.9h-2.8zM79.7 131.5h2.8v3.9h-2.8zM204.2 131.5h2.8v3.9h-2.8zM219.3 131.5h2.8v3.9h-2.8z"/>
<path fill="#f5a014" d="M166.5 115.8h2.8v3.9h-2.8z"/>
<path fill="#e11e28" d="M268.3 168.1h2.8v3.9h-2.8z"/>
</g></g>
<polygon fill="#fff" points="0,0 14.9,0 13.2,6.7 11.5,13.4 10.4,21.2 9.3,25.7 3.7,33.5 7.1,38 9.3,44.7 11,49.1 9.8,55.8 11,62.5 12.1,63.5 17.7,68.6 23.2,75.3 27.7,82 33.3,88.7 36.6,94.3 36.6,101 38.9,107.7 44.5,112.1 50,116.6 54.5,121.1 58.2,126.5 65.6,135 73,141.6 79.6,145.3 81.8,140.2 89.2,136.5 99.6,133.5 109.9,134.3 115.8,137.2 120.3,138.7 127.6,134.3 135,130.6 140.3,128.4 144.7,124.5 150.3,121.6 158.1,120.5 164.8,121.1 169.3,123.3 171.5,126 174.3,132.7 176,140.5 181.6,145 188.3,143.3 196.1,142.7 201.7,141.6 203.3,145 206,148.3 208.3,155 209.4,162.8 208.3,170.7 206,177.4 206,188.4 0,188.4"/>
<rect x="11.8" y="70.3" width="3.2" height="4.4" fill="#1e788c"/>
<g fill="none" stroke="#000" stroke-width="2.1" stroke-linejoin="round" stroke-linecap="round">
<polyline points="14.9,0 13.2,6.7 11.5,13.4 10.4,21.2 9.3,25.7 3.7,33.5 7.1,38 9.3,44.7 11,49.1 9.8,55.8 11,62.5 12.1,63.5 17.7,68.6 23.2,75.3 27.7,82 33.3,88.7 36.6,94.3 36.6,101 38.9,107.7 44.5,112.1 50,116.6 54.5,121.1 58.2,126.5 65.6,135 73,141.6 79.6,145.3 81.8,140.2 89.2,136.5 99.6,133.5 109.9,134.3 115.8,137.2 120.3,138.7 127.6,134.3 135,130.6 140.3,128.4 144.7,124.5 150.3,121.6 158.1,120.5 164.8,121.1 169.3,123.3 171.5,126 174.3,132.7 176,140.5 181.6,145 188.3,143.3 196.1,142.7 201.7,141.6 203.3,145 206,148.3 208.3,155 209.4,162.8 208.3,170.7 206,177.4 206,188.4"/>
<polyline points="11.5,14.5 16.5,15.1 22.1,14 27.2,14 31.1,18.4 34.4,20.1 38.9,25.7 42.8,30.1 44.5,33.5"/>
<polyline points="44.5,33.5 44.5,27.9 46.7,25.1 51.2,26.2 55.6,27.4 62.3,25.3 67.8,24.7 94,25.2 93.3,11.2 92.4,0"/>
<polyline points="44.5,33.5 43.9,38 44.5,44.7 46.7,49.1 50,53.6"/>
<polyline points="10.2,58.2 20.5,56.3 31.3,55.8 39.2,58.2 46.1,57.2 49.6,53.6"/>
<polyline points="31.3,55.8 33.3,59.7 31.3,64.6 25.4,68.6 20.5,72.5"/>
<polyline points="50,53.6 52.3,60.3 57.9,62.5 64.8,61.5 71.1,63 72.3,68.6 72.8,74.2 73.9,80.9 75.6,87.6 76.2,95.4 75.1,101 76.2,106.5 74.5,109.9 70,113.2 71.1,118.8 74.4,122.4 78.1,126.9 79.6,135.7 79.6,145.3"/>
<polyline points="36.6,93.1 38.9,88.7 41.1,85.3 45.6,83.7 51.2,84.2 53.4,87.6 55.1,92 55.6,97.6 54.5,102.1 55.6,105.4 52.3,112.1 50,116"/>
<polyline points="55.6,101 60.1,99.8 63.4,104.3 65.7,109.9 67.8,113.2 70,113.2"/>
<polyline points="73.4,77.5 76.7,80.9 82.3,81.4 87.9,77.5 91.2,79.7 95.7,82.5 100.2,85.3 104.6,84.8 109.1,83.1 114.1,82.5"/>
<polyline points="135.8,31.8 130.3,31.5 127,32.4 122.5,35.7 119.2,38.5 115.8,41.3 112.5,44.7 106.9,46.9 103.5,51.4 101.3,58.1 97.9,62.9 95.2,69.7 94,75.3 95.7,82.5"/>
<polyline points="114.1,82.5 115.3,89.8 116.9,96.5 116.9,102.1 114.1,107.7 112.5,113.2 112.5,125.9 115.1,130 115.8,137.2"/>
<polyline points="114.1,82.5 114.1,74.2 116.9,73 125.9,72.8 132.6,73 135.8,72.5 139.1,74.2 140.3,77.5"/>
<polyline points="138,75.3 138.6,85.3 139.1,96.5 139.7,107.7 140.3,116.6 141.4,122.2 142.5,125.9"/>
<polyline points="155.3,63.5 150.3,66.3 145.8,69.1 142.5,71.9 141.4,75.3 140.3,77.5"/>
<polyline points="142.5,72.5 141.9,77.5 144.7,83.1 147,90.9 147.5,102.1 147.5,113.2 148.1,121.6"/>
<polyline points="162.6,66.3 164.3,74.2 163.7,82 162,87.6 158.7,93.1 156.5,96.5 156.5,107.7 157,120.8"/>
<polyline points="135.8,31.8 138,36.8 140.3,43.5 143.6,49.1 147,53.6 151.4,56.9 153.7,60.9 155.3,63.5 158.8,62 162.6,66.3"/>
<polyline points="162.6,66.3 163.7,62.9 164.3,55.8 167.1,48 169.3,44.7 174.9,42.4 180.5,43 183.8,44.7 188.3,49.1 193.9,48 198.3,50.2 203.8,54 209.4,52.5 212.7,49.1 218.3,48 223.9,48.6 227.2,50.8 230.6,51.4 233.9,46.9 236.2,42.4"/>
<polyline points="167.6,0 168.2,10 166.5,15.6 165.4,21.2 162,25.1 158.1,26.8 150.3,27.4 144.7,28.5 141.4,31.3 135.8,31.8"/>
<polyline points="253.5,0 252.9,10 248.5,17.9 244,24.6 240.6,30.1 238.4,35.7 236.2,41.3"/>
<polyline points="236.2,41.3 237.3,46.9 240.6,52.5 242.9,58.1 246.2,63 245.1,67.5 240.6,71.9 237.3,78.6 236.2,85.3 231.7,90.9 229.5,97.6 226.7,104.3 223.9,111 220.5,121.1 217.8,117.7 215,114.4 210.5,117.7 207.1,122.2 204.9,125.9 203.3,132 202.8,141"/>
<polyline points="242.9,58.1 248.5,62.9 249.6,69.7 250.7,77.5 252.9,83.1 241.8,84.2 240.6,87 245.1,93.1 249.6,99.8 251.8,106.5 252.9,109.9 249.6,115.5 247.3,121.1 245.1,126 245.7,132.7 247.9,140.5 250.7,148.3 254,155 257.4,159.5 258,170.7"/>
<polyline points="252.9,109.9 257.4,107.7 261.9,106.5 267.4,105.2 271.6,104.5"/>
<polyline points="258,170.7 259.6,159.5 260.2,152.8 263,150.6 267.4,150 271.6,148.9"/>
<polyline points="209.4,164.5 220.5,164.5 226.1,163.4 233.9,164.5 240.6,165.1 248.5,166.8 254,169 258,170.7"/>
<polyline points="220.5,164.5 221.1,177.4 208.3,177.9"/>
<polyline points="236.2,165 235.1,172.9 238.4,174.6 242.9,176.2 244.6,181.8 241.8,188.4"/>
<polygon fill="#1e788c" stroke-width="2" points="236,40.2 240.4,39.4 243.2,45.6 251,47.7 247.8,52.6 245.3,51.5 242.4,49.9 240.4,54.6 238.5,49.7 236.1,43.5"/>
<polyline stroke-width="1.8" points="238.1,41.5 240.8,47.2 244.6,49.6 247.3,49.8"/>
<polyline stroke-width="1.6" points="239.1,46.5 240.1,51.5"/>
<polyline stroke-width="3.6" points="16.3,47.6 20.8,46.6 25.8,46.4 31.8,48.3"/>
</g>
<ellipse cx="201.4" cy="152" rx="1.7" ry="3.8" fill="#000"/>
<path fill="none" stroke="#222" stroke-width="1.1" d="M0 188.4V0H271.6V188.4"/>
<path fill="none" stroke="#333" stroke-width="1" d="M22.6 0v-9.6M60.4 0v-9.6M98.1 0v-9.6M135.8 0v-9.6M173.5 0v-9.6M211.2 0v-9.6M249 0v-9.6M0 31.2h-6.8M0 84h-6.8M0 136.8h-6.8"/>
<text y="181.2" font-size="20.4"><tspan x="1.3" textLength="22.1" lengthAdjust="spacingAndGlyphs">(b)</tspan> <tspan x="34.2" textLength="40.4" lengthAdjust="spacingAndGlyphs">SAHR</tspan></text>
</g>
<g transform="translate(49.2 405)">
<g filter="url(#soft)"><rect width="271.6" height="188.4" fill="#fff"/><g shape-rendering="crispEdges">
<path fill="#96dc1e" d="M7.5 0H113.2V5.2H7.5zM116.9 0H135.8V5.2H116.9zM143.3 0H169.8V5.2H143.3zM173.5 0H181.1V5.2H173.5zM203.7 0H271.6V5.2H203.7zM3.8 5.2H101.9V10.5H3.8zM120.7 5.2H143.3V10.5H120.7zM196.2 5.2H271.6V10.5H196.2zM3.8 10.5H15.1V15.7H3.8zM30.2 10.5H41.5V15.7H30.2zM49 10.5H60.4V15.7H49zM124.5 10.5H143.3V15.7H124.5zM147.1 10.5H150.9V15.7H147.1zM196.2 10.5H271.6V15.7H196.2zM34 15.7H45.3V20.9H34zM128.3 15.7H139.6V20.9H128.3zM147.1 15.7H150.9V20.9H147.1zM196.2 15.7H271.6V20.9H196.2zM37.7 20.9H45.3V26.2H37.7zM132 20.9H135.8V26.2H132zM211.2 20.9H271.6V26.2H211.2zM37.7 26.2H41.5V31.4H37.7zM128.3 26.2H143.3V31.4H128.3zM211.2 26.2H260.3V31.4H211.2zM264.1 26.2H271.6V31.4H264.1zM218.8 31.4H222.6V36.6H218.8zM230.1 31.4H245.2V36.6H230.1zM256.5 31.4H260.3V36.6H256.5z"/>
<path fill="#ebf51e" d="M113.2 0H116.9V5.2H113.2zM135.8 0H143.3V5.2H135.8zM169.8 0H173.5V5.2H169.8zM181.1 0H203.7V5.2H181.1zM101.9 5.2H120.7V10.5H101.9zM143.3 5.2H181.1V10.5H143.3zM184.8 5.2H196.2V10.5H184.8zM15.1 10.5H30.2V15.7H15.1zM41.5 10.5H49V15.7H41.5zM79.2 10.5H86.8V15.7H79.2zM94.3 10.5H124.5V15.7H94.3zM143.3 10.5H147.1V15.7H143.3zM150.9 10.5H166V15.7H150.9zM173.5 10.5H181.1V15.7H173.5zM184.8 10.5H196.2V15.7H184.8zM3.8 15.7H26.4V20.9H3.8zM30.2 15.7H34V20.9H30.2zM45.3 15.7H56.6V20.9H45.3zM83 15.7H94.3V20.9H83zM105.6 15.7H109.4V20.9H105.6zM120.7 15.7H128.3V20.9H120.7zM139.6 15.7H147.1V20.9H139.6zM150.9 15.7H166V20.9H150.9zM173.5 15.7H196.2V20.9H173.5zM15.1 20.9H22.6V26.2H15.1zM30.2 20.9H37.7V26.2H30.2zM83 20.9H86.8V26.2H83zM124.5 20.9H132V26.2H124.5zM135.8 20.9H162.2V26.2H135.8zM203.7 20.9H211.2V26.2H203.7zM0 26.2H11.3V31.4H0zM124.5 26.2H128.3V31.4H124.5zM143.3 26.2H166V31.4H143.3zM203.7 26.2H211.2V31.4H203.7zM260.3 26.2H264.1V31.4H260.3zM139.6 31.4H158.4V36.6H139.6zM196.2 31.4H199.9V36.6H196.2zM203.7 31.4H215V36.6H203.7zM222.6 31.4H230.1V36.6H222.6zM249 31.4H256.5V36.6H249zM260.3 31.4H267.8V36.6H260.3zM196.2 36.6H199.9V41.9H196.2zM226.3 36.6H230.1V41.9H226.3zM256.5 36.6H264.1V41.9H256.5zM256.5 41.9H260.3V47.1H256.5z"/>
<path fill="#413ceb" d="M181.1 5.2H184.8V10.5H181.1zM60.4 10.5H79.2V15.7H60.4zM86.8 10.5H94.3V15.7H86.8zM166 10.5H173.5V15.7H166zM181.1 10.5H184.8V15.7H181.1zM26.4 15.7H30.2V20.9H26.4zM56.6 15.7H83V20.9H56.6zM94.3 15.7H105.6V20.9H94.3zM109.4 15.7H120.7V20.9H109.4zM166 15.7H173.5V20.9H166zM22.6 20.9H30.2V26.2H22.6zM45.3 20.9H83V26.2H45.3zM86.8 20.9H124.5V26.2H86.8zM162.2 20.9H203.7V26.2H162.2zM11.3 26.2H18.9V31.4H11.3zM22.6 26.2H37.7V31.4H22.6zM41.5 26.2H49V31.4H41.5zM52.8 26.2H56.6V31.4H52.8zM60.4 26.2H64.1V31.4H60.4zM71.7 26.2H124.5V31.4H71.7zM166 26.2H203.7V31.4H166zM22.6 31.4H26.4V36.6H22.6zM34 31.4H45.3V36.6H34zM86.8 31.4H139.6V36.6H86.8zM158.4 31.4H196.2V36.6H158.4zM199.9 31.4H203.7V36.6H199.9zM215 31.4H218.8V36.6H215zM245.2 31.4H249V36.6H245.2zM267.8 31.4H271.6V36.6H267.8zM105.6 36.6H109.4V41.9H105.6zM113.2 36.6H196.2V41.9H113.2zM199.9 36.6H226.3V41.9H199.9zM230.1 36.6H256.5V41.9H230.1zM264.1 36.6H271.6V41.9H264.1zM128.3 41.9H132V47.1H128.3zM139.6 41.9H162.2V47.1H139.6zM166 41.9H169.8V47.1H166zM196.2 41.9H207.5V47.1H196.2zM215 41.9H256.5V47.1H215zM147.1 47.1H162.2V52.3H147.1zM226.3 47.1H233.9V52.3H226.3zM237.7 47.1H252.7V52.3H237.7zM203.7 52.3H207.5V57.6H203.7zM203.7 57.6H207.5V62.8H203.7z"/>
<path fill="#c800ff" d="M3.8 20.9H15.1V26.2H3.8zM0 31.4H18.9V36.6H0zM11.3 41.9H18.9V47.1H11.3zM3.8 47.1H15.1V52.3H3.8zM11.3 52.3H15.1V57.6H11.3zM3.8 57.6H15.1V62.8H3.8zM45.3 104.7H52.8V109.9H45.3zM45.3 109.9H49V115.1H45.3zM215 109.9H222.6V115.1H215zM226.3 109.9H230.1V115.1H226.3zM237.7 109.9H241.4V115.1H237.7zM256.5 109.9H260.3V115.1H256.5zM264.1 109.9H267.8V115.1H264.1zM83 115.1H86.8V120.4H83zM215 115.1H245.2V120.4H215zM256.5 115.1H267.8V120.4H256.5zM83 120.4H86.8V125.6H83zM211.2 120.4H218.8V125.6H211.2zM222.6 120.4H230.1V125.6H222.6zM237.7 120.4H241.4V125.6H237.7zM245.2 120.4H271.6V125.6H245.2zM196.2 125.6H203.7V130.8H196.2zM245.2 125.6H271.6V130.8H245.2zM192.4 130.8H199.9V136.1H192.4zM211.2 130.8H218.8V136.1H211.2zM241.4 130.8H271.6V136.1H241.4zM188.6 136.1H199.9V141.3H188.6zM245.2 136.1H260.3V141.3H245.2zM188.6 141.3H199.9V146.5H188.6zM207.5 141.3H211.2V146.5H207.5zM218.8 141.3H222.6V146.5H218.8zM245.2 141.3H252.7V146.5H245.2zM188.6 146.5H215V151.8H188.6zM218.8 146.5H222.6V151.8H218.8z"/>
<path fill="#1eaa46" d="M18.9 26.2H22.6V31.4H18.9zM49 26.2H52.8V31.4H49zM56.6 26.2H60.4V31.4H56.6zM64.1 26.2H71.7V31.4H64.1zM18.9 31.4H22.6V36.6H18.9zM26.4 31.4H34V36.6H26.4zM45.3 31.4H52.8V36.6H45.3zM56.6 31.4H60.4V36.6H56.6zM67.9 31.4H86.8V36.6H67.9zM11.3 36.6H18.9V41.9H11.3zM26.4 36.6H34V41.9H26.4zM45.3 36.6H49V41.9H45.3zM56.6 36.6H60.4V41.9H56.6zM83 36.6H105.6V41.9H83zM109.4 36.6H113.2V41.9H109.4zM45.3 41.9H49V47.1H45.3zM86.8 41.9H90.5V47.1H86.8zM94.3 41.9H98.1V47.1H94.3zM101.9 41.9H105.6V47.1H101.9zM109.4 41.9H128.3V47.1H109.4zM132 41.9H139.6V47.1H132zM162.2 41.9H166V47.1H162.2zM181.1 41.9H196.2V47.1H181.1zM207.5 41.9H215V47.1H207.5zM260.3 41.9H271.6V47.1H260.3zM71.7 47.1H83V52.3H71.7zM94.3 47.1H98.1V52.3H94.3zM113.2 47.1H116.9V52.3H113.2zM124.5 47.1H147.1V52.3H124.5zM162.2 47.1H166V52.3H162.2zM184.8 47.1H226.3V52.3H184.8zM252.7 47.1H271.6V52.3H252.7zM18.9 52.3H26.4V57.6H18.9zM79.2 52.3H86.8V57.6H79.2zM90.5 52.3H94.3V57.6H90.5zM105.6 52.3H109.4V57.6H105.6zM143.3 52.3H147.1V57.6H143.3zM184.8 52.3H192.4V57.6H184.8zM196.2 52.3H203.7V57.6H196.2zM218.8 52.3H226.3V57.6H218.8zM252.7 52.3H267.8V57.6H252.7zM86.8 57.6H98.1V62.8H86.8zM105.6 57.6H109.4V62.8H105.6zM139.6 57.6H150.9V62.8H139.6zM173.5 57.6H177.3V62.8H173.5zM181.1 57.6H192.4V62.8H181.1zM233.9 57.6H241.4V62.8H233.9zM252.7 57.6H264.1V62.8H252.7zM75.4 104.7H83V109.9H75.4zM98.1 104.7H105.6V109.9H98.1zM124.5 104.7H135.8V109.9H124.5zM139.6 104.7H162.2V109.9H139.6zM211.2 104.7H215V109.9H211.2zM230.1 104.7H241.4V109.9H230.1zM98.1 109.9H101.9V115.1H98.1zM124.5 109.9H135.8V115.1H124.5zM139.6 109.9H158.4V115.1H139.6zM207.5 109.9H215V115.1H207.5zM230.1 109.9H237.7V115.1H230.1zM139.6 115.1H147.1V120.4H139.6zM162.2 115.1H166V120.4H162.2zM211.2 115.1H215V120.4H211.2zM162.2 120.4H166V125.6H162.2zM162.2 125.6H166V130.8H162.2z"/>
<path fill="#a00000" d="M52.8 31.4H56.6V36.6H52.8zM60.4 31.4H67.9V36.6H60.4zM18.9 36.6H26.4V41.9H18.9zM34 36.6H45.3V41.9H34zM49 36.6H56.6V41.9H49zM60.4 36.6H83V41.9H60.4zM18.9 41.9H45.3V47.1H18.9zM49 41.9H86.8V47.1H49zM90.5 41.9H94.3V47.1H90.5zM98.1 41.9H101.9V47.1H98.1zM105.6 41.9H109.4V47.1H105.6zM169.8 41.9H181.1V47.1H169.8zM15.1 47.1H71.7V52.3H15.1zM83 47.1H94.3V52.3H83zM98.1 47.1H113.2V52.3H98.1zM116.9 47.1H124.5V52.3H116.9zM166 47.1H184.8V52.3H166zM233.9 47.1H237.7V52.3H233.9zM15.1 52.3H18.9V57.6H15.1zM26.4 52.3H79.2V57.6H26.4zM86.8 52.3H90.5V57.6H86.8zM94.3 52.3H105.6V57.6H94.3zM109.4 52.3H143.3V57.6H109.4zM147.1 52.3H184.8V57.6H147.1zM192.4 52.3H196.2V57.6H192.4zM207.5 52.3H218.8V57.6H207.5zM226.3 52.3H252.7V57.6H226.3zM267.8 52.3H271.6V57.6H267.8zM18.9 57.6H86.8V62.8H18.9zM98.1 57.6H105.6V62.8H98.1zM109.4 57.6H139.6V62.8H109.4zM150.9 57.6H173.5V62.8H150.9zM177.3 57.6H181.1V62.8H177.3zM192.4 57.6H199.9V62.8H192.4zM207.5 57.6H233.9V62.8H207.5zM241.4 57.6H252.7V62.8H241.4zM264.1 57.6H271.6V62.8H264.1zM60.4 104.7H75.4V109.9H60.4zM83 104.7H98.1V109.9H83zM105.6 104.7H124.5V109.9H105.6zM135.8 104.7H139.6V109.9H135.8zM162.2 104.7H211.2V109.9H162.2zM215 104.7H230.1V109.9H215zM241.4 104.7H271.6V109.9H241.4zM56.6 109.9H75.4V115.1H56.6zM83 109.9H98.1V115.1H83zM109.4 109.9H124.5V115.1H109.4zM135.8 109.9H139.6V115.1H135.8zM158.4 109.9H166V115.1H158.4zM173.5 109.9H207.5V115.1H173.5zM222.6 109.9H226.3V115.1H222.6zM241.4 109.9H256.5V115.1H241.4zM260.3 109.9H264.1V115.1H260.3zM267.8 109.9H271.6V115.1H267.8zM56.6 115.1H75.4V120.4H56.6zM86.8 115.1H105.6V120.4H86.8zM109.4 115.1H139.6V120.4H109.4zM154.7 115.1H162.2V120.4H154.7zM177.3 115.1H211.2V120.4H177.3zM245.2 115.1H256.5V120.4H245.2zM267.8 115.1H271.6V120.4H267.8zM64.1 120.4H83V125.6H64.1zM94.3 120.4H147.1V125.6H94.3zM154.7 120.4H162.2V125.6H154.7zM177.3 120.4H211.2V125.6H177.3zM218.8 120.4H222.6V125.6H218.8zM230.1 120.4H237.7V125.6H230.1zM241.4 120.4H245.2V125.6H241.4zM67.9 125.6H86.8V130.8H67.9zM90.5 125.6H147.1V130.8H90.5zM154.7 125.6H162.2V130.8H154.7zM177.3 125.6H196.2V130.8H177.3zM203.7 125.6H230.1V130.8H203.7zM233.9 125.6H245.2V130.8H233.9zM71.7 130.8H90.5V136.1H71.7zM94.3 130.8H98.1V136.1H94.3zM101.9 130.8H116.9V136.1H101.9zM128.3 130.8H147.1V136.1H128.3zM166 130.8H192.4V136.1H166zM199.9 130.8H211.2V136.1H199.9zM218.8 130.8H230.1V136.1H218.8zM237.7 130.8H241.4V136.1H237.7zM83 136.1H90.5V141.3H83zM94.3 136.1H98.1V141.3H94.3zM101.9 136.1H113.2V141.3H101.9zM128.3 136.1H139.6V141.3H128.3zM181.1 136.1H184.8V141.3H181.1zM199.9 136.1H207.5V141.3H199.9zM218.8 136.1H245.2V141.3H218.8zM260.3 136.1H271.6V141.3H260.3zM83 141.3H90.5V146.5H83zM94.3 141.3H98.1V146.5H94.3zM101.9 141.3H113.2V146.5H101.9zM181.1 141.3H184.8V146.5H181.1zM199.9 141.3H207.5V146.5H199.9zM222.6 141.3H226.3V146.5H222.6zM241.4 141.3H245.2V146.5H241.4zM181.1 146.5H184.8V151.8H181.1zM199.9 151.8H215V157H199.9zM199.9 157H215V162.2H199.9zM199.9 162.2H211.2V167.5H199.9zM199.9 167.5H211.2V172.7H199.9zM199.9 172.7H211.2V177.9H199.9zM199.9 177.9H211.2V183.2H199.9zM199.9 183.2H215V188.4H199.9z"/>
<path fill="#f5a014" d="M0 36.6H11.3V41.9H0zM0 41.9H11.3V47.1H0zM0 52.3H11.3V57.6H0zM166 125.6H177.3V130.8H166zM124.5 130.8H128.3V136.1H124.5zM79.2 136.1H83V141.3H79.2zM124.5 136.1H128.3V141.3H124.5zM169.8 136.1H181.1V141.3H169.8zM184.8 136.1H188.6V141.3H184.8zM79.2 141.3H83V146.5H79.2zM124.5 141.3H128.3V146.5H124.5zM173.5 141.3H181.1V146.5H173.5zM184.8 141.3H188.6V146.5H184.8zM79.2 146.5H83V151.8H79.2zM177.3 146.5H181.1V151.8H177.3zM184.8 146.5H188.6V151.8H184.8z"/>
<path fill="#1e788c" d="M15.1 57.6H18.9V62.8H15.1zM199.9 57.6H203.7V62.8H199.9zM7.5 62.8H271.6V68H7.5zM11.3 68H271.6V73.3H11.3zM15.1 73.3H271.6V78.5H15.1zM18.9 78.5H271.6V83.7H18.9zM22.6 83.7H271.6V89H22.6zM26.4 89H271.6V94.2H26.4zM30.2 94.2H271.6V99.4H30.2zM30.2 99.4H271.6V104.7H30.2zM30.2 104.7H45.3V109.9H30.2zM52.8 104.7H60.4V109.9H52.8zM34 109.9H45.3V115.1H34zM49 109.9H56.6V115.1H49zM75.4 109.9H83V115.1H75.4zM101.9 109.9H109.4V115.1H101.9zM166 109.9H173.5V115.1H166zM37.7 115.1H56.6V120.4H37.7zM75.4 115.1H83V120.4H75.4zM105.6 115.1H109.4V120.4H105.6zM147.1 115.1H154.7V120.4H147.1zM166 115.1H177.3V120.4H166zM41.5 120.4H64.1V125.6H41.5zM86.8 120.4H94.3V125.6H86.8zM147.1 120.4H154.7V125.6H147.1zM166 120.4H177.3V125.6H166zM49 125.6H67.9V130.8H49zM86.8 125.6H90.5V130.8H86.8zM147.1 125.6H154.7V130.8H147.1zM230.1 125.6H233.9V130.8H230.1zM56.6 130.8H71.7V136.1H56.6zM90.5 130.8H94.3V136.1H90.5zM98.1 130.8H101.9V136.1H98.1zM116.9 130.8H124.5V136.1H116.9zM230.1 130.8H237.7V136.1H230.1zM60.4 136.1H79.2V141.3H60.4zM90.5 136.1H94.3V141.3H90.5zM98.1 136.1H101.9V141.3H98.1zM113.2 136.1H124.5V141.3H113.2zM207.5 136.1H218.8V141.3H207.5zM67.9 141.3H79.2V146.5H67.9zM90.5 141.3H94.3V146.5H90.5zM98.1 141.3H101.9V146.5H98.1zM113.2 141.3H124.5V146.5H113.2zM211.2 141.3H218.8V146.5H211.2zM226.3 141.3H241.4V146.5H226.3zM252.7 141.3H271.6V146.5H252.7zM71.7 146.5H79.2V151.8H71.7zM116.9 146.5H120.7V151.8H116.9zM215 146.5H218.8V151.8H215zM222.6 146.5H271.6V151.8H222.6zM75.4 151.8H79.2V157H75.4zM215 151.8H271.6V157H215zM215 157H271.6V162.2H215zM211.2 162.2H271.6V167.5H211.2zM211.2 167.5H271.6V172.7H211.2zM211.2 172.7H271.6V177.9H211.2zM211.2 177.9H271.6V183.2H211.2zM215 183.2H271.6V188.4H215z"/>
<path fill="#ebf51e" d="M23.1 5.9h2.8v3.9h-2.8zM26.9 11.1h2.8v3.9h-2.8zM57.1 11.1h2.8v3.9h-2.8zM128.7 11.1h2.8v3.9h-2.8zM136.3 11.1h2.8v3.9h-2.8zM196.6 11.1h2.8v3.9h-2.8zM102.3 21.6h2.8v3.9h-2.8zM170.2 21.6h2.8v3.9h-2.8zM196.6 21.6h2.8v3.9h-2.8zM42 26.8h2.8v3.9h-2.8zM113.7 26.8h2.8v3.9h-2.8zM234.4 32.1h2.8v3.9h-2.8zM241.9 32.1h2.8v3.9h-2.8z"/>
<path fill="#413ceb" d="M19.3 11.1h2.8v3.9h-2.8zM38.2 16.4h2.8v3.9h-2.8zM155.1 26.8h2.8v3.9h-2.8zM98.6 37.3h2.8v3.9h-2.8zM260.8 42.5h2.8v3.9h-2.8zM174 47.8h2.8v3.9h-2.8zM211.7 47.8h2.8v3.9h-2.8z"/>
<path fill="#c800ff" d="M23.1 11.1h2.8v3.9h-2.8zM19.3 21.6h2.8v3.9h-2.8zM102.3 26.8h2.8v3.9h-2.8zM241.9 58.2h2.8v3.9h-2.8zM241.9 105.3h2.8v3.9h-2.8zM83.5 110.6h2.8v3.9h-2.8zM91 110.6h2.8v3.9h-2.8zM87.2 115.8h2.8v3.9h-2.8zM79.7 121h2.8v3.9h-2.8zM106.1 121h2.8v3.9h-2.8zM121.2 121h2.8v3.9h-2.8zM181.6 121h2.8v3.9h-2.8zM200.4 121h2.8v3.9h-2.8zM83.5 126.3h2.8v3.9h-2.8zM113.7 126.3h2.8v3.9h-2.8zM204.2 126.3h2.8v3.9h-2.8z"/>
<path fill="#96dc1e" d="M192.9 11.1h2.8v3.9h-2.8zM155.1 16.4h2.8v3.9h-2.8zM132.5 115.8h2.8v3.9h-2.8z"/>
<path fill="#1eaa46" d="M109.9 21.6h2.8v3.9h-2.8zM98.6 32.1h2.8v3.9h-2.8zM181.6 32.1h2.8v3.9h-2.8zM34.4 37.3h2.8v3.9h-2.8zM23.1 42.5h2.8v3.9h-2.8zM30.7 42.5h2.8v3.9h-2.8zM151.4 47.8h2.8v3.9h-2.8zM155.1 53h2.8v3.9h-2.8zM174 53h2.8v3.9h-2.8zM181.6 53h2.8v3.9h-2.8zM211.7 53h2.8v3.9h-2.8zM15.6 58.2h2.8v3.9h-2.8zM75.9 58.2h2.8v3.9h-2.8zM113.7 58.2h2.8v3.9h-2.8zM121.2 58.2h2.8v3.9h-2.8zM132.5 58.2h2.8v3.9h-2.8zM170.2 58.2h2.8v3.9h-2.8zM177.8 58.2h2.8v3.9h-2.8zM200.4 58.2h2.8v3.9h-2.8zM181.6 105.3h2.8v3.9h-2.8zM230.6 115.8h2.8v3.9h-2.8zM241.9 115.8h2.8v3.9h-2.8zM200.4 126.3h2.8v3.9h-2.8zM204.2 136.7h2.8v3.9h-2.8zM211.7 183.8h2.8v3.9h-2.8z"/>
<path fill="#a00000" d="M45.8 32.1h2.8v3.9h-2.8zM30.7 37.3h2.8v3.9h-2.8zM226.8 42.5h2.8v3.9h-2.8zM189.1 47.8h2.8v3.9h-2.8zM264.5 47.8h2.8v3.9h-2.8zM185.3 53h2.8v3.9h-2.8zM200.4 53h2.8v3.9h-2.8zM174 58.2h2.8v3.9h-2.8zM181.6 58.2h2.8v3.9h-2.8zM257 58.2h2.8v3.9h-2.8zM53.3 105.3h2.8v3.9h-2.8zM49.5 110.6h2.8v3.9h-2.8zM151.4 110.6h2.8v3.9h-2.8zM230.6 110.6h2.8v3.9h-2.8zM79.7 115.8h2.8v3.9h-2.8zM215.5 115.8h2.8v3.9h-2.8zM83.5 121h2.8v3.9h-2.8zM211.7 142h2.8v3.9h-2.8zM249.5 142h2.8v3.9h-2.8zM245.7 147.2h2.8v3.9h-2.8zM215.5 183.8h2.8v3.9h-2.8z"/>
<path fill="#1e788c" d="M11.8 53h2.8v3.9h-2.8zM83.5 115.8h2.8v3.9h-2.8zM113.7 115.8h2.8v3.9h-2.8zM125 115.8h2.8v3.9h-2.8zM68.4 121h2.8v3.9h-2.8zM98.6 121h2.8v3.9h-2.8zM257 126.3h2.8v3.9h-2.8zM79.7 131.5h2.8v3.9h-2.8zM204.2 131.5h2.8v3.9h-2.8zM219.3 131.5h2.8v3.9h-2.8z"/>
<path fill="#f5a014" d="M166.5 115.8h2.8v3.9h-2.8z"/>
<path fill="#e11e28" d="M268.3 168.1h2.8v3.9h-2.8z"/>
</g></g>
<polygon fill="#fff" points="0,0 14.9,0 13.2,6.7 11.5,13.4 10.4,21.2 9.3,25.7 3.7,33.5 7.1,38 9.3,44.7 11,49.1 9.8,55.8 11,62.5 12.1,63.5 17.7,68.6 23.2,75.3 27.7,82 33.3,88.7 36.6,94.3 36.6,101 38.9,107.7 44.5,112.1 50,116.6 54.5,121.1 58.2,126.5 65.6,135 73,141.6 79.6,145.3 81.8,140.2 89.2,136.5 99.6,133.5 109.9,134.3 115.8,137.2 120.3,138.7 127.6,134.3 135,130.6 140.3,128.4 144.7,124.5 150.3,121.6 158.1,120.5 164.8,121.1 169.3,123.3 171.5,126 174.3,132.7 176,140.5 181.6,145 188.3,143.3 196.1,142.7 201.7,141.6 203.3,145 206,148.3 208.3,155 209.4,162.8 208.3,170.7 206,177.4 206,188.4 0,188.4"/>
<rect x="11.8" y="70.3" width="3.2" height="4.4" fill="#1e788c"/>
<g fill="none" stroke="#000" stroke-width="2.1" stroke-linejoin="round" stroke-linecap="round">
<polyline points="14.9,0 13.2,6.7 11.5,13.4 10.4,21.2 9.3,25.7 3.7,33.5 7.1,38 9.3,44.7 11,49.1 9.8,55.8 11,62.5 12.1,63.5 17.7,68.6 23.2,75.3 27.7,82 33.3,88.7 36.6,94.3 36.6,101 38.9,107.7 44.5,112.1 50,116.6 54.5,121.1 58.2,126.5 65.6,135 73,141.6 79.6,145.3 81.8,140.2 89.2,136.5 99.6,133.5 109.9,134.3 115.8,137.2 120.3,138.7 127.6,134.3 135,130.6 140.3,128.4 144.7,124.5 150.3,121.6 158.1,120.5 164.8,121.1 169.3,123.3 171.5,126 174.3,132.7 176,140.5 181.6,145 188.3,143.3 196.1,142.7 201.7,141.6 203.3,145 206,148.3 208.3,155 209.4,162.8 208.3,170.7 206,177.4 206,188.4"/>
<polyline points="11.5,14.5 16.5,15.1 22.1,14 27.2,14 31.1,18.4 34.4,20.1 38.9,25.7 42.8,30.1 44.5,33.5"/>
<polyline points="44.5,33.5 44.5,27.9 46.7,25.1 51.2,26.2 55.6,27.4 62.3,25.3 67.8,24.7 94,25.2 93.3,11.2 92.4,0"/>
<polyline points="44.5,33.5 43.9,38 44.5,44.7 46.7,49.1 50,53.6"/>
<polyline points="10.2,58.2 20.5,56.3 31.3,55.8 39.2,58.2 46.1,57.2 49.6,53.6"/>
<polyline points="31.3,55.8 33.3,59.7 31.3,64.6 25.4,68.6 20.5,72.5"/>
<polyline points="50,53.6 52.3,60.3 57.9,62.5 64.8,61.5 71.1,63 72.3,68.6 72.8,74.2 73.9,80.9 75.6,87.6 76.2,95.4 75.1,101 76.2,106.5 74.5,109.9 70,113.2 71.1,118.8 74.4,122.4 78.1,126.9 79.6,135.7 79.6,145.3"/>
<polyline points="36.6,93.1 38.9,88.7 41.1,85.3 45.6,83.7 51.2,84.2 53.4,87.6 55.1,92 55.6,97.6 54.5,102.1 55.6,105.4 52.3,112.1 50,116"/>
<polyline points="55.6,101 60.1,99.8 63.4,104.3 65.7,109.9 67.8,113.2 70,113.2"/>
<polyline points="73.4,77.5 76.7,80.9 82.3,81.4 87.9,77.5 91.2,79.7 95.7,82.5 100.2,85.3 104.6,84.8 109.1,83.1 114.1,82.5"/>
<polyline points="135.8,31.8 130.3,31.5 127,32.4 122.5,35.7 119.2,38.5 115.8,41.3 112.5,44.7 106.9,46.9 103.5,51.4 101.3,58.1 97.9,62.9 95.2,69.7 94,75.3 95.7,82.5"/>
<polyline points="114.1,82.5 115.3,89.8 116.9,96.5 116.9,102.1 114.1,107.7 112.5,113.2 112.5,125.9 115.1,130 115.8,137.2"/>
<polyline points="114.1,82.5 114.1,74.2 116.9,73 125.9,72.8 132.6,73 135.8,72.5 139.1,74.2 140.3,77.5"/>
<polyline points="138,75.3 138.6,85.3 139.1,96.5 139.7,107.7 140.3,116.6 141.4,122.2 142.5,125.9"/>
<polyline points="155.3,63.5 150.3,66.3 145.8,69.1 142.5,71.9 141.4,75.3 140.3,77.5"/>
<polyline points="142.5,72.5 141.9,77.5 144.7,83.1 147,90.9 147.5,102.1 147.5,113.2 148.1,121.6"/>
<polyline points="162.6,66.3 164.3,74.2 163.7,82 162,87.6 158.7,93.1 156.5,96.5 156.5,107.7 157,120.8"/>
<polyline points="135.8,31.8 138,36.8 140.3,43.5 143.6,49.1 147,53.6 151.4,56.9 153.7,60.9 155.3,63.5 158.8,62 162.6,66.3"/>
<polyline points="162.6,66.3 163.7,62.9 164.3,55.8 167.1,48 169.3,44.7 174.9,42.4 180.5,43 183.8,44.7 188.3,49.1 193.9,48 198.3,50.2 203.8,54 209.4,52.5 212.7,49.1 218.3,48 223.9,48.6 227.2,50.8 230.6,51.4 233.9,46.9 236.2,42.4"/>
<polyline points="167.6,0 168.2,10 166.5,15.6 165.4,21.2 162,25.1 158.1,26.8 150.3,27.4 144.7,28.5 141.4,31.3 135.8,31.8"/>
<polyline points="253.5,0 252.9,10 248.5,17.9 244,24.6 240.6,30.1 238.4,35.7 236.2,41.3"/>
<polyline points="236.2,41.3 237.3,46.9 240.6,52.5 242.9,58.1 246.2,63 245.1,67.5 240.6,71.9 237.3,78.6 236.2,85.3 231.7,90.9 229.5,97.6 226.7,104.3 223.9,111 220.5,121.1 217.8,117.7 215,114.4 210.5,117.7 207.1,122.2 204.9,125.9 203.3,132 202.8,141"/>
<polyline points="242.9,58.1 248.5,62.9 249.6,69.7 250.7,77.5 252.9,83.1 241.8,84.2 240.6,87 245.1,93.1 249.6,99.8 251.8,106.5 252.9,109.9 249.6,115.5 247.3,121.1 245.1,126 245.7,132.7 247.9,140.5 250.7,148.3 254,155 257.4,159.5 258,170.7"/>
<polyline points="252.9,109.9 257.4,107.7 261.9,106.5 267.4,105.2 271.6,104.5"/>
<polyline points="258,170.7 259.6,159.5 260.2,152.8 263,150.6 267.4,150 271.6,148.9"/>
<polyline points="209.4,164.5 220.5,164.5 226.1,163.4 233.9,164.5 240.6,165.1 248.5,166.8 254,169 258,170.7"/>
<polyline points="220.5,164.5 221.1,177.4 208.3,177.9"/>
<polyline points="236.2,165 235.1,172.9 238.4,174.6 242.9,176.2 244.6,181.8 241.8,188.4"/>
<polygon fill="#a5d632" stroke-width="2" points="236,40.2 240.4,39.4 243.2,45.6 251,47.7 247.8,52.6 245.3,51.5 242.4,49.9 240.4,54.6 238.5,49.7 236.1,43.5"/>
<polyline stroke-width="1.8" points="238.1,41.5 240.8,47.2 244.6,49.6 247.3,49.8"/>
<polyline stroke-width="1.6" points="239.1,46.5 240.1,51.5"/>
<polyline stroke-width="3.6" points="16.3,47.6 20.8,46.6 25.8,46.4 31.8,48.3"/>
</g>
<ellipse cx="201.4" cy="152" rx="1.7" ry="3.8" fill="#000"/>
<path fill="none" stroke="#222" stroke-width="1.1" d="M0 188.4V0H271.6V188.4"/>
<path fill="none" stroke="#333" stroke-width="1" d="M22.6 0v-9.6M60.4 0v-9.6M98.1 0v-9.6M135.8 0v-9.6M173.5 0v-9.6M211.2 0v-9.6M249 0v-9.6M0 31.2h-6.8M0 84h-6.8M0 136.8h-6.8"/>
<text y="181.2" font-size="20.4"><tspan x="1.3" textLength="21.7" lengthAdjust="spacingAndGlyphs">(c)</tspan> <tspan x="33.8" textLength="38.5" lengthAdjust="spacingAndGlyphs">SAVR</tspan></text>
</g>
<g transform="translate(49.2 602.5)">
<g filter="url(#soft)"><rect width="271.6" height="188.4" fill="#fff"/><g shape-rendering="crispEdges">
<path fill="#96dc1e" d="M7.5 0H113.2V5.2H7.5zM116.9 0H135.8V5.2H116.9zM143.3 0H169.8V5.2H143.3zM173.5 0H181.1V5.2H173.5zM203.7 0H271.6V5.2H203.7zM3.8 5.2H101.9V10.5H3.8zM120.7 5.2H143.3V10.5H120.7zM196.2 5.2H271.6V10.5H196.2zM3.8 10.5H15.1V15.7H3.8zM30.2 10.5H41.5V15.7H30.2zM49 10.5H60.4V15.7H49zM124.5 10.5H143.3V15.7H124.5zM147.1 10.5H150.9V15.7H147.1zM196.2 10.5H271.6V15.7H196.2zM34 15.7H45.3V20.9H34zM128.3 15.7H139.6V20.9H128.3zM147.1 15.7H150.9V20.9H147.1zM196.2 15.7H271.6V20.9H196.2zM37.7 20.9H45.3V26.2H37.7zM132 20.9H135.8V26.2H132zM211.2 20.9H271.6V26.2H211.2zM37.7 26.2H41.5V31.4H37.7zM128.3 26.2H143.3V31.4H128.3zM211.2 26.2H260.3V31.4H211.2zM264.1 26.2H271.6V31.4H264.1zM218.8 31.4H222.6V36.6H218.8zM230.1 31.4H245.2V36.6H230.1zM256.5 31.4H260.3V36.6H256.5z"/>
<path fill="#ebf51e" d="M113.2 0H116.9V5.2H113.2zM135.8 0H143.3V5.2H135.8zM169.8 0H173.5V5.2H169.8zM181.1 0H203.7V5.2H181.1zM101.9 5.2H120.7V10.5H101.9zM143.3 5.2H181.1V10.5H143.3zM184.8 5.2H196.2V10.5H184.8zM15.1 10.5H30.2V15.7H15.1zM41.5 10.5H49V15.7H41.5zM79.2 10.5H86.8V15.7H79.2zM94.3 10.5H124.5V15.7H94.3zM143.3 10.5H147.1V15.7H143.3zM150.9 10.5H166V15.7H150.9zM173.5 10.5H181.1V15.7H173.5zM184.8 10.5H196.2V15.7H184.8zM3.8 15.7H26.4V20.9H3.8zM30.2 15.7H34V20.9H30.2zM45.3 15.7H56.6V20.9H45.3zM83 15.7H94.3V20.9H83zM105.6 15.7H109.4V20.9H105.6zM120.7 15.7H128.3V20.9H120.7zM139.6 15.7H147.1V20.9H139.6zM150.9 15.7H166V20.9H150.9zM173.5 15.7H196.2V20.9H173.5zM15.1 20.9H22.6V26.2H15.1zM30.2 20.9H37.7V26.2H30.2zM83 20.9H86.8V26.2H83zM124.5 20.9H132V26.2H124.5zM135.8 20.9H162.2V26.2H135.8zM203.7 20.9H211.2V26.2H203.7zM0 26.2H11.3V31.4H0zM124.5 26.2H128.3V31.4H124.5zM143.3 26.2H166V31.4H143.3zM203.7 26.2H211.2V31.4H203.7zM260.3 26.2H264.1V31.4H260.3zM139.6 31.4H158.4V36.6H139.6zM196.2 31.4H199.9V36.6H196.2zM203.7 31.4H215V36.6H203.7zM222.6 31.4H230.1V36.6H222.6zM249 31.4H256.5V36.6H249zM260.3 31.4H267.8V36.6H260.3zM196.2 36.6H199.9V41.9H196.2zM226.3 36.6H230.1V41.9H226.3zM256.5 36.6H264.1V41.9H256.5zM256.5 41.9H260.3V47.1H256.5z"/>
<path fill="#413ceb" d="M181.1 5.2H184.8V10.5H181.1zM60.4 10.5H79.2V15.7H60.4zM86.8 10.5H94.3V15.7H86.8zM166 10.5H173.5V15.7H166zM181.1 10.5H184.8V15.7H181.1zM26.4 15.7H30.2V20.9H26.4zM56.6 15.7H83V20.9H56.6zM94.3 15.7H105.6V20.9H94.3zM109.4 15.7H120.7V20.9H109.4zM166 15.7H173.5V20.9H166zM22.6 20.9H30.2V26.2H22.6zM45.3 20.9H83V26.2H45.3zM86.8 20.9H124.5V26.2H86.8zM162.2 20.9H203.7V26.2H162.2zM11.3 26.2H18.9V31.4H11.3zM22.6 26.2H37.7V31.4H22.6zM41.5 26.2H49V31.4H41.5zM52.8 26.2H56.6V31.4H52.8zM60.4 26.2H64.1V31.4H60.4zM71.7 26.2H124.5V31.4H71.7zM166 26.2H203.7V31.4H166zM22.6 31.4H26.4V36.6H22.6zM34 31.4H45.3V36.6H34zM86.8 31.4H139.6V36.6H86.8zM158.4 31.4H196.2V36.6H158.4zM199.9 31.4H203.7V36.6H199.9zM215 31.4H218.8V36.6H215zM245.2 31.4H249V36.6H245.2zM267.8 31.4H271.6V36.6H267.8zM105.6 36.6H109.4V41.9H105.6zM113.2 36.6H196.2V41.9H113.2zM199.9 36.6H226.3V41.9H199.9zM230.1 36.6H256.5V41.9H230.1zM264.1 36.6H271.6V41.9H264.1zM128.3 41.9H132V47.1H128.3zM139.6 41.9H162.2V47.1H139.6zM166 41.9H169.8V47.1H166zM196.2 41.9H207.5V47.1H196.2zM215 41.9H256.5V47.1H215zM147.1 47.1H162.2V52.3H147.1zM226.3 47.1H233.9V52.3H226.3zM237.7 47.1H252.7V52.3H237.7zM203.7 52.3H207.5V57.6H203.7zM203.7 57.6H207.5V62.8H203.7z"/>
<path fill="#c800ff" d="M3.8 20.9H15.1V26.2H3.8zM0 31.4H18.9V36.6H0zM11.3 41.9H18.9V47.1H11.3zM3.8 47.1H15.1V52.3H3.8zM11.3 52.3H15.1V57.6H11.3zM3.8 57.6H15.1V62.8H3.8zM34 73.3H37.7V78.5H34zM34 78.5H41.5V83.7H34zM34 83.7H37.7V89H34zM26.4 89H37.7V94.2H26.4zM30.2 94.2H45.3V99.4H30.2zM41.5 99.4H52.8V104.7H41.5z"/>
<path fill="#1eaa46" d="M18.9 26.2H22.6V31.4H18.9zM49 26.2H52.8V31.4H49zM56.6 26.2H60.4V31.4H56.6zM64.1 26.2H71.7V31.4H64.1zM18.9 31.4H22.6V36.6H18.9zM26.4 31.4H34V36.6H26.4zM45.3 31.4H52.8V36.6H45.3zM56.6 31.4H60.4V36.6H56.6zM67.9 31.4H86.8V36.6H67.9zM11.3 36.6H18.9V41.9H11.3zM26.4 36.6H34V41.9H26.4zM45.3 36.6H49V41.9H45.3zM56.6 36.6H60.4V41.9H56.6zM83 36.6H105.6V41.9H83zM109.4 36.6H113.2V41.9H109.4zM45.3 41.9H49V47.1H45.3zM86.8 41.9H90.5V47.1H86.8zM94.3 41.9H98.1V47.1H94.3zM101.9 41.9H105.6V47.1H101.9zM109.4 41.9H128.3V47.1H109.4zM132 41.9H139.6V47.1H132zM162.2 41.9H166V47.1H162.2zM181.1 41.9H196.2V47.1H181.1zM207.5 41.9H215V47.1H207.5zM260.3 41.9H271.6V47.1H260.3zM71.7 47.1H83V52.3H71.7zM94.3 47.1H98.1V52.3H94.3zM113.2 47.1H116.9V52.3H113.2zM124.5 47.1H147.1V52.3H124.5zM162.2 47.1H166V52.3H162.2zM184.8 47.1H226.3V52.3H184.8zM252.7 47.1H271.6V52.3H252.7zM18.9 52.3H26.4V57.6H18.9zM79.2 52.3H86.8V57.6H79.2zM90.5 52.3H94.3V57.6H90.5zM105.6 52.3H109.4V57.6H105.6zM143.3 52.3H147.1V57.6H143.3zM184.8 52.3H192.4V57.6H184.8zM196.2 52.3H203.7V57.6H196.2zM218.8 52.3H226.3V57.6H218.8zM252.7 52.3H267.8V57.6H252.7zM75.4 57.6H79.2V62.8H75.4zM86.8 57.6H98.1V62.8H86.8zM105.6 57.6H109.4V62.8H105.6zM113.2 57.6H116.9V62.8H113.2zM120.7 57.6H124.5V62.8H120.7zM139.6 57.6H150.9V62.8H139.6zM169.8 57.6H173.5V62.8H169.8zM177.3 57.6H181.1V62.8H177.3zM184.8 57.6H192.4V62.8H184.8zM199.9 57.6H203.7V62.8H199.9zM233.9 57.6H241.4V62.8H233.9zM252.7 57.6H256.5V62.8H252.7zM260.3 57.6H264.1V62.8H260.3zM60.4 62.8H64.1V68H60.4zM75.4 62.8H79.2V68H75.4zM113.2 62.8H116.9V68H113.2zM120.7 62.8H128.3V68H120.7zM135.8 62.8H162.2V68H135.8zM166 62.8H173.5V68H166zM177.3 62.8H181.1V68H177.3zM192.4 62.8H196.2V68H192.4zM199.9 62.8H203.7V68H199.9zM233.9 62.8H237.7V68H233.9zM249 62.8H252.7V68H249zM60.4 68H64.1V73.3H60.4zM105.6 68H109.4V73.3H105.6zM113.2 68H154.7V73.3H113.2zM166 68H169.8V73.3H166zM192.4 68H196.2V73.3H192.4zM199.9 68H222.6V73.3H199.9zM226.3 68H237.7V73.3H226.3zM245.2 68H271.6V73.3H245.2zM67.9 73.3H71.7V78.5H67.9zM75.4 73.3H79.2V78.5H75.4zM105.6 73.3H158.4V78.5H105.6zM173.5 73.3H177.3V78.5H173.5zM192.4 73.3H196.2V78.5H192.4zM218.8 73.3H222.6V78.5H218.8zM226.3 73.3H237.7V78.5H226.3zM252.7 73.3H267.8V78.5H252.7zM67.9 78.5H94.3V83.7H67.9zM105.6 78.5H158.4V83.7H105.6zM169.8 78.5H177.3V83.7H169.8zM203.7 78.5H207.5V83.7H203.7zM211.2 78.5H215V83.7H211.2zM218.8 78.5H226.3V83.7H218.8zM233.9 78.5H237.7V83.7H233.9zM252.7 78.5H267.8V83.7H252.7zM52.8 83.7H60.4V89H52.8zM67.9 83.7H105.6V89H67.9zM109.4 83.7H166V89H109.4zM169.8 83.7H173.5V89H169.8zM199.9 83.7H226.3V89H199.9zM252.7 83.7H271.6V89H252.7zM56.6 89H105.6V94.2H56.6zM109.4 89H173.5V94.2H109.4zM199.9 89H222.6V94.2H199.9zM256.5 89H271.6V94.2H256.5zM60.4 94.2H64.1V99.4H60.4zM67.9 94.2H166V99.4H67.9zM173.5 94.2H181.1V99.4H173.5zM215 94.2H222.6V99.4H215zM256.5 94.2H271.6V99.4H256.5zM79.2 99.4H184.8V104.7H79.2zM218.8 99.4H222.6V104.7H218.8zM260.3 99.4H264.1V104.7H260.3z"/>
<path fill="#a00000" d="M52.8 31.4H56.6V36.6H52.8zM60.4 31.4H67.9V36.6H60.4zM18.9 36.6H26.4V41.9H18.9zM34 36.6H45.3V41.9H34zM49 36.6H56.6V41.9H49zM60.4 36.6H83V41.9H60.4zM18.9 41.9H45.3V47.1H18.9zM49 41.9H86.8V47.1H49zM90.5 41.9H94.3V47.1H90.5zM98.1 41.9H101.9V47.1H98.1zM105.6 41.9H109.4V47.1H105.6zM169.8 41.9H181.1V47.1H169.8zM15.1 47.1H71.7V52.3H15.1zM83 47.1H94.3V52.3H83zM98.1 47.1H113.2V52.3H98.1zM116.9 47.1H124.5V52.3H116.9zM166 47.1H184.8V52.3H166zM233.9 47.1H237.7V52.3H233.9zM15.1 52.3H18.9V57.6H15.1zM26.4 52.3H79.2V57.6H26.4zM86.8 52.3H90.5V57.6H86.8zM94.3 52.3H105.6V57.6H94.3zM109.4 52.3H143.3V57.6H109.4zM147.1 52.3H184.8V57.6H147.1zM192.4 52.3H196.2V57.6H192.4zM207.5 52.3H218.8V57.6H207.5zM226.3 52.3H252.7V57.6H226.3zM267.8 52.3H271.6V57.6H267.8zM15.1 57.6H75.4V62.8H15.1zM79.2 57.6H86.8V62.8H79.2zM98.1 57.6H105.6V62.8H98.1zM109.4 57.6H113.2V62.8H109.4zM116.9 57.6H120.7V62.8H116.9zM124.5 57.6H139.6V62.8H124.5zM150.9 57.6H169.8V62.8H150.9zM173.5 57.6H177.3V62.8H173.5zM181.1 57.6H184.8V62.8H181.1zM192.4 57.6H199.9V62.8H192.4zM207.5 57.6H233.9V62.8H207.5zM241.4 57.6H252.7V62.8H241.4zM256.5 57.6H260.3V62.8H256.5zM264.1 57.6H271.6V62.8H264.1zM7.5 62.8H60.4V68H7.5zM64.1 62.8H75.4V68H64.1zM79.2 62.8H113.2V68H79.2zM116.9 62.8H120.7V68H116.9zM128.3 62.8H135.8V68H128.3zM162.2 62.8H166V68H162.2zM173.5 62.8H177.3V68H173.5zM181.1 62.8H192.4V68H181.1zM196.2 62.8H199.9V68H196.2zM203.7 62.8H233.9V68H203.7zM237.7 62.8H249V68H237.7zM252.7 62.8H271.6V68H252.7zM11.3 68H60.4V73.3H11.3zM64.1 68H105.6V73.3H64.1zM109.4 68H113.2V73.3H109.4zM154.7 68H166V73.3H154.7zM169.8 68H192.4V73.3H169.8zM196.2 68H199.9V73.3H196.2zM222.6 68H226.3V73.3H222.6zM237.7 68H245.2V73.3H237.7zM15.1 73.3H34V78.5H15.1zM37.7 73.3H67.9V78.5H37.7zM71.7 73.3H75.4V78.5H71.7zM79.2 73.3H105.6V78.5H79.2zM158.4 73.3H173.5V78.5H158.4zM177.3 73.3H192.4V78.5H177.3zM196.2 73.3H218.8V78.5H196.2zM222.6 73.3H226.3V78.5H222.6zM237.7 73.3H252.7V78.5H237.7zM267.8 73.3H271.6V78.5H267.8zM18.9 78.5H34V83.7H18.9zM41.5 78.5H67.9V83.7H41.5zM94.3 78.5H105.6V83.7H94.3zM158.4 78.5H169.8V83.7H158.4zM177.3 78.5H203.7V83.7H177.3zM207.5 78.5H211.2V83.7H207.5zM215 78.5H218.8V83.7H215zM226.3 78.5H233.9V83.7H226.3zM237.7 78.5H252.7V83.7H237.7zM267.8 78.5H271.6V83.7H267.8zM22.6 83.7H34V89H22.6zM37.7 83.7H52.8V89H37.7zM60.4 83.7H67.9V89H60.4zM105.6 83.7H109.4V89H105.6zM166 83.7H169.8V89H166zM173.5 83.7H199.9V89H173.5zM226.3 83.7H252.7V89H226.3zM37.7 89H56.6V94.2H37.7zM105.6 89H109.4V94.2H105.6zM173.5 89H199.9V94.2H173.5zM222.6 89H256.5V94.2H222.6zM45.3 94.2H60.4V99.4H45.3zM166 94.2H173.5V99.4H166zM181.1 94.2H215V99.4H181.1zM222.6 94.2H256.5V99.4H222.6zM52.8 99.4H64.1V104.7H52.8zM67.9 99.4H79.2V104.7H67.9zM184.8 99.4H218.8V104.7H184.8zM222.6 99.4H260.3V104.7H222.6zM264.1 99.4H271.6V104.7H264.1zM207.5 151.8H211.2V157H207.5zM207.5 157H211.2V162.2H207.5zM207.5 162.2H211.2V167.5H207.5zM207.5 167.5H211.2V172.7H207.5zM207.5 172.7H211.2V177.9H207.5zM207.5 177.9H211.2V183.2H207.5zM207.5 183.2H211.2V188.4H207.5z"/>
<path fill="#f5a014" d="M0 36.6H11.3V41.9H0zM0 41.9H11.3V47.1H0zM0 52.3H11.3V57.6H0zM166 125.6H177.3V130.8H166zM124.5 130.8H128.3V136.1H124.5zM79.2 136.1H83V141.3H79.2zM124.5 136.1H128.3V141.3H124.5zM169.8 136.1H181.1V141.3H169.8zM184.8 136.1H188.6V141.3H184.8zM79.2 141.3H83V146.5H79.2zM124.5 141.3H128.3V146.5H124.5zM173.5 141.3H181.1V146.5H173.5zM184.8 141.3H188.6V146.5H184.8zM79.2 146.5H83V151.8H79.2zM177.3 146.5H181.1V151.8H177.3zM184.8 146.5H188.6V151.8H184.8z"/>
<path fill="#1e788c" d="M64.1 94.2H67.9V99.4H64.1zM30.2 99.4H41.5V104.7H30.2zM64.1 99.4H67.9V104.7H64.1zM30.2 104.7H271.6V109.9H30.2zM34 109.9H271.6V115.1H34zM37.7 115.1H271.6V120.4H37.7zM41.5 120.4H271.6V125.6H41.5zM49 125.6H166V130.8H49zM177.3 125.6H271.6V130.8H177.3zM56.6 130.8H124.5V136.1H56.6zM128.3 130.8H147.1V136.1H128.3zM166 130.8H271.6V136.1H166zM60.4 136.1H79.2V141.3H60.4zM83 136.1H124.5V141.3H83zM128.3 136.1H139.6V141.3H128.3zM181.1 136.1H184.8V141.3H181.1zM188.6 136.1H271.6V141.3H188.6zM67.9 141.3H79.2V146.5H67.9zM83 141.3H124.5V146.5H83zM181.1 141.3H184.8V146.5H181.1zM188.6 141.3H271.6V146.5H188.6zM71.7 146.5H79.2V151.8H71.7zM116.9 146.5H120.7V151.8H116.9zM181.1 146.5H184.8V151.8H181.1zM188.6 146.5H271.6V151.8H188.6zM75.4 151.8H79.2V157H75.4zM199.9 151.8H207.5V157H199.9zM211.2 151.8H271.6V157H211.2zM199.9 157H207.5V162.2H199.9zM211.2 157H271.6V162.2H211.2zM199.9 162.2H207.5V167.5H199.9zM211.2 162.2H271.6V167.5H211.2zM199.9 167.5H207.5V172.7H199.9zM211.2 167.5H271.6V172.7H211.2zM199.9 172.7H207.5V177.9H199.9zM211.2 172.7H271.6V177.9H211.2zM199.9 177.9H207.5V183.2H199.9zM211.2 177.9H271.6V183.2H211.2zM199.9 183.2H207.5V188.4H199.9zM211.2 183.2H271.6V188.4H211.2z"/>
<path fill="#ebf51e" d="M23.1 5.9h2.8v3.9h-2.8zM26.9 11.1h2.8v3.9h-2.8zM57.1 11.1h2.8v3.9h-2.8zM128.7 11.1h2.8v3.9h-2.8zM136.3 11.1h2.8v3.9h-2.8zM196.6 11.1h2.8v3.9h-2.8zM102.3 21.6h2.8v3.9h-2.8zM170.2 21.6h2.8v3.9h-2.8zM196.6 21.6h2.8v3.9h-2.8zM42 26.8h2.8v3.9h-2.8zM113.7 26.8h2.8v3.9h-2.8zM234.4 32.1h2.8v3.9h-2.8zM241.9 32.1h2.8v3.9h-2.8z"/>
<path fill="#413ceb" d="M19.3 11.1h2.8v3.9h-2.8zM38.2 16.4h2.8v3.9h-2.8zM155.1 26.8h2.8v3.9h-2.8zM98.6 37.3h2.8v3.9h-2.8zM260.8 42.5h2.8v3.9h-2.8zM174 47.8h2.8v3.9h-2.8zM211.7 47.8h2.8v3.9h-2.8z"/>
<path fill="#c800ff" d="M23.1 11.1h2.8v3.9h-2.8zM19.3 21.6h2.8v3.9h-2.8zM102.3 26.8h2.8v3.9h-2.8zM241.9 58.2h2.8v3.9h-2.8zM53.3 94.9h2.8v3.9h-2.8z"/>
<path fill="#96dc1e" d="M192.9 11.1h2.8v3.9h-2.8zM155.1 16.4h2.8v3.9h-2.8zM185.3 79.2h2.8v3.9h-2.8z"/>
<path fill="#1eaa46" d="M109.9 21.6h2.8v3.9h-2.8zM98.6 32.1h2.8v3.9h-2.8zM181.6 32.1h2.8v3.9h-2.8zM34.4 37.3h2.8v3.9h-2.8zM23.1 42.5h2.8v3.9h-2.8zM30.7 42.5h2.8v3.9h-2.8zM151.4 47.8h2.8v3.9h-2.8zM155.1 53h2.8v3.9h-2.8zM174 53h2.8v3.9h-2.8zM181.6 53h2.8v3.9h-2.8zM211.7 53h2.8v3.9h-2.8zM15.6 58.2h2.8v3.9h-2.8zM132.5 58.2h2.8v3.9h-2.8zM26.9 63.5h2.8v3.9h-2.8zM53.3 63.5h2.8v3.9h-2.8zM102.3 63.5h2.8v3.9h-2.8zM264.5 63.5h2.8v3.9h-2.8zM49.5 68.7h2.8v3.9h-2.8zM79.7 68.7h2.8v3.9h-2.8zM38.2 73.9h2.8v3.9h-2.8zM53.3 73.9h2.8v3.9h-2.8zM98.6 73.9h2.8v3.9h-2.8zM241.9 73.9h2.8v3.9h-2.8zM181.6 84.4h2.8v3.9h-2.8zM45.8 89.6h2.8v3.9h-2.8zM249.5 89.6h2.8v3.9h-2.8zM42 94.9h2.8v3.9h-2.8zM241.9 94.9h2.8v3.9h-2.8zM75.9 100.1h2.8v3.9h-2.8z"/>
<path fill="#a00000" d="M45.8 32.1h2.8v3.9h-2.8zM30.7 37.3h2.8v3.9h-2.8zM226.8 42.5h2.8v3.9h-2.8zM189.1 47.8h2.8v3.9h-2.8zM264.5 47.8h2.8v3.9h-2.8zM185.3 53h2.8v3.9h-2.8zM200.4 53h2.8v3.9h-2.8zM143.8 68.7h2.8v3.9h-2.8zM264.5 68.7h2.8v3.9h-2.8zM151.4 73.9h2.8v3.9h-2.8zM125 79.2h2.8v3.9h-2.8zM94.8 89.6h2.8v3.9h-2.8zM117.4 89.6h2.8v3.9h-2.8zM143.8 89.6h2.8v3.9h-2.8zM215.5 89.6h2.8v3.9h-2.8zM260.8 89.6h2.8v3.9h-2.8zM75.9 94.9h2.8v3.9h-2.8zM79.7 100.1h2.8v3.9h-2.8zM106.1 100.1h2.8v3.9h-2.8z"/>
<path fill="#1e788c" d="M11.8 53h2.8v3.9h-2.8zM26.9 73.9h2.8v3.9h-2.8zM34.4 84.4h2.8v3.9h-2.8z"/>
<path fill="#f5a014" d="M166.5 115.8h2.8v3.9h-2.8z"/>
</g></g>
<polygon fill="#fff" points="0,0 14.9,0 13.2,6.7 11.5,13.4 10.4,21.2 9.3,25.7 3.7,33.5 7.1,38 9.3,44.7 11,49.1 9.8,55.8 11,62.5 12.1,63.5 17.7,68.6 23.2,75.3 27.7,82 33.3,88.7 36.6,94.3 36.6,101 38.9,107.7 44.5,112.1 50,116.6 54.5,121.1 58.2,126.5 65.6,135 73,141.6 79.6,145.3 81.8,140.2 89.2,136.5 99.6,133.5 109.9,134.3 115.8,137.2 120.3,138.7 127.6,134.3 135,130.6 140.3,128.4 144.7,124.5 150.3,121.6 158.1,120.5 164.8,121.1 169.3,123.3 171.5,126 174.3,132.7 176,140.5 181.6,145 188.3,143.3 196.1,142.7 201.7,141.6 203.3,145 206,148.3 208.3,155 209.4,162.8 208.3,170.7 206,177.4 206,188.4 0,188.4"/>
<rect x="11.8" y="70.3" width="3.2" height="4.4" fill="#1e788c"/>
<g fill="none" stroke="#000" stroke-width="2.1" stroke-linejoin="round" stroke-linecap="round">
<polyline points="14.9,0 13.2,6.7 11.5,13.4 10.4,21.2 9.3,25.7 3.7,33.5 7.1,38 9.3,44.7 11,49.1 9.8,55.8 11,62.5 12.1,63.5 17.7,68.6 23.2,75.3 27.7,82 33.3,88.7 36.6,94.3 36.6,101 38.9,107.7 44.5,112.1 50,116.6 54.5,121.1 58.2,126.5 65.6,135 73,141.6 79.6,145.3 81.8,140.2 89.2,136.5 99.6,133.5 109.9,134.3 115.8,137.2 120.3,138.7 127.6,134.3 135,130.6 140.3,128.4 144.7,124.5 150.3,121.6 158.1,120.5 164.8,121.1 169.3,123.3 171.5,126 174.3,132.7 176,140.5 181.6,145 188.3,143.3 196.1,142.7 201.7,141.6 203.3,145 206,148.3 208.3,155 209.4,162.8 208.3,170.7 206,177.4 206,188.4"/>
<polyline points="11.5,14.5 16.5,15.1 22.1,14 27.2,14 31.1,18.4 34.4,20.1 38.9,25.7 42.8,30.1 44.5,33.5"/>
<polyline points="44.5,33.5 44.5,27.9 46.7,25.1 51.2,26.2 55.6,27.4 62.3,25.3 67.8,24.7 94,25.2 93.3,11.2 92.4,0"/>
<polyline points="44.5,33.5 43.9,38 44.5,44.7 46.7,49.1 50,53.6"/>
<polyline points="10.2,58.2 20.5,56.3 31.3,55.8 39.2,58.2 46.1,57.2 49.6,53.6"/>
<polyline points="31.3,55.8 33.3,59.7 31.3,64.6 25.4,68.6 20.5,72.5"/>
<polyline points="50,53.6 52.3,60.3 57.9,62.5 64.8,61.5 71.1,63 72.3,68.6 72.8,74.2 73.9,80.9 75.6,87.6 76.2,95.4 75.1,101 76.2,106.5 74.5,109.9 70,113.2 71.1,118.8 74.4,122.4 78.1,126.9 79.6,135.7 79.6,145.3"/>
<polyline points="36.6,93.1 38.9,88.7 41.1,85.3 45.6,83.7 51.2,84.2 53.4,87.6 55.1,92 55.6,97.6 54.5,102.1 55.6,105.4 52.3,112.1 50,116"/>
<polyline points="55.6,101 60.1,99.8 63.4,104.3 65.7,109.9 67.8,113.2 70,113.2"/>
<polyline points="73.4,77.5 76.7,80.9 82.3,81.4 87.9,77.5 91.2,79.7 95.7,82.5 100.2,85.3 104.6,84.8 109.1,83.1 114.1,82.5"/>
<polyline points="135.8,31.8 130.3,31.5 127,32.4 122.5,35.7 119.2,38.5 115.8,41.3 112.5,44.7 106.9,46.9 103.5,51.4 101.3,58.1 97.9,62.9 95.2,69.7 94,75.3 95.7,82.5"/>
<polyline points="114.1,82.5 115.3,89.8 116.9,96.5 116.9,102.1 114.1,107.7 112.5,113.2 112.5,125.9 115.1,130 115.8,137.2"/>
<polyline points="114.1,82.5 114.1,74.2 116.9,73 125.9,72.8 132.6,73 135.8,72.5 139.1,74.2 140.3,77.5"/>
<polyline points="138,75.3 138.6,85.3 139.1,96.5 139.7,107.7 140.3,116.6 141.4,122.2 142.5,125.9"/>
<polyline points="155.3,63.5 150.3,66.3 145.8,69.1 142.5,71.9 141.4,75.3 140.3,77.5"/>
<polyline points="142.5,72.5 141.9,77.5 144.7,83.1 147,90.9 147.5,102.1 147.5,113.2 148.1,121.6"/>
<polyline points="162.6,66.3 164.3,74.2 163.7,82 162,87.6 158.7,93.1 156.5,96.5 156.5,107.7 157,120.8"/>
<polyline points="135.8,31.8 138,36.8 140.3,43.5 143.6,49.1 147,53.6 151.4,56.9 153.7,60.9 155.3,63.5 158.8,62 162.6,66.3"/>
<polyline points="162.6,66.3 163.7,62.9 164.3,55.8 167.1,48 169.3,44.7 174.9,42.4 180.5,43 183.8,44.7 188.3,49.1 193.9,48 198.3,50.2 203.8,54 209.4,52.5 212.7,49.1 218.3,48 223.9,48.6 227.2,50.8 230.6,51.4 233.9,46.9 236.2,42.4"/>
<polyline points="167.6,0 168.2,10 166.5,15.6 165.4,21.2 162,25.1 158.1,26.8 150.3,27.4 144.7,28.5 141.4,31.3 135.8,31.8"/>
<polyline points="253.5,0 252.9,10 248.5,17.9 244,24.6 240.6,30.1 238.4,35.7 236.2,41.3"/>
<polyline points="236.2,41.3 237.3,46.9 240.6,52.5 242.9,58.1 246.2,63 245.1,67.5 240.6,71.9 237.3,78.6 236.2,85.3 231.7,90.9 229.5,97.6 226.7,104.3 223.9,111 220.5,121.1 217.8,117.7 215,114.4 210.5,117.7 207.1,122.2 204.9,125.9 203.3,132 202.8,141"/>
<polyline points="242.9,58.1 248.5,62.9 249.6,69.7 250.7,77.5 252.9,83.1 241.8,84.2 240.6,87 245.1,93.1 249.6,99.8 251.8,106.5 252.9,109.9 249.6,115.5 247.3,121.1 245.1,126 245.7,132.7 247.9,140.5 250.7,148.3 254,155 257.4,159.5 258,170.7"/>
<polyline points="252.9,109.9 257.4,107.7 261.9,106.5 267.4,105.2 271.6,104.5"/>
<polyline points="258,170.7 259.6,159.5 260.2,152.8 263,150.6 267.4,150 271.6,148.9"/>
<polyline points="209.4,164.5 220.5,164.5 226.1,163.4 233.9,164.5 240.6,165.1 248.5,166.8 254,169 258,170.7"/>
<polyline points="220.5,164.5 221.1,177.4 208.3,177.9"/>
<polyline points="236.2,165 235.1,172.9 238.4,174.6 242.9,176.2 244.6,181.8 241.8,188.4"/>
<polygon fill="#a5d632" stroke-width="2" points="236,40.2 240.4,39.4 243.2,45.6 251,47.7 247.8,52.6 245.3,51.5 242.4,49.9 240.4,54.6 238.5,49.7 236.1,43.5"/>
<polyline stroke-width="1.8" points="238.1,41.5 240.8,47.2 244.6,49.6 247.3,49.8"/>
<polyline stroke-width="1.6" points="239.1,46.5 240.1,51.5"/>
<polyline stroke-width="3.6" points="16.3,47.6 20.8,46.6 25.8,46.4 31.8,48.3"/>
</g>
<ellipse cx="201.4" cy="152" rx="1.7" ry="3.8" fill="#000"/>
<path fill="none" stroke="#222" stroke-width="1.1" d="M0 188.4V0H271.6V188.4"/>
<path fill="none" stroke="#333" stroke-width="1" d="M22.6 0v-9.6M22.6 188.4v9.6M60.4 0v-9.6M60.4 188.4v9.6M98.1 0v-9.6M98.1 188.4v9.6M135.8 0v-9.6M135.8 188.4v9.6M173.5 0v-9.6M173.5 188.4v9.6M211.2 0v-9.6M211.2 188.4v9.6M249 0v-9.6M249 188.4v9.6M0 31.2h-6.8M0 84h-6.8M0 136.8h-6.8"/>
<text y="181.2" font-size="20.4"><tspan x="0.7" textLength="20.7" lengthAdjust="spacingAndGlyphs">(d)</tspan> <tspan x="30.8" textLength="39.5" lengthAdjust="spacingAndGlyphs">GUNR</tspan></text>
</g>
<g transform="translate(329 10)">
<g filter="url(#soft)"><rect width="271.6" height="188.4" fill="#fff"/><g shape-rendering="crispEdges">
<path fill="#96dc1e" d="M7.5 0H113.2V5.2H7.5zM116.9 0H135.8V5.2H116.9zM143.3 0H169.8V5.2H143.3zM173.5 0H181.1V5.2H173.5zM203.7 0H271.6V5.2H203.7zM3.8 5.2H101.9V10.5H3.8zM120.7 5.2H143.3V10.5H120.7zM196.2 5.2H271.6V10.5H196.2zM3.8 10.5H15.1V15.7H3.8zM30.2 10.5H41.5V15.7H30.2zM49 10.5H60.4V15.7H49zM124.5 10.5H143.3V15.7H124.5zM147.1 10.5H150.9V15.7H147.1zM196.2 10.5H271.6V15.7H196.2zM34 15.7H45.3V20.9H34zM128.3 15.7H139.6V20.9H128.3zM147.1 15.7H150.9V20.9H147.1zM196.2 15.7H271.6V20.9H196.2zM37.7 20.9H45.3V26.2H37.7zM132 20.9H135.8V26.2H132zM211.2 20.9H271.6V26.2H211.2zM37.7 26.2H41.5V31.4H37.7zM128.3 26.2H143.3V31.4H128.3zM211.2 26.2H260.3V31.4H211.2zM264.1 26.2H271.6V31.4H264.1zM218.8 31.4H222.6V36.6H218.8zM230.1 31.4H245.2V36.6H230.1zM256.5 31.4H260.3V36.6H256.5z"/>
<path fill="#ebf51e" d="M113.2 0H116.9V5.2H113.2zM135.8 0H143.3V5.2H135.8zM169.8 0H173.5V5.2H169.8zM181.1 0H203.7V5.2H181.1zM101.9 5.2H120.7V10.5H101.9zM143.3 5.2H181.1V10.5H143.3zM184.8 5.2H196.2V10.5H184.8zM15.1 10.5H30.2V15.7H15.1zM41.5 10.5H49V15.7H41.5zM79.2 10.5H86.8V15.7H79.2zM94.3 10.5H124.5V15.7H94.3zM143.3 10.5H147.1V15.7H143.3zM150.9 10.5H166V15.7H150.9zM173.5 10.5H181.1V15.7H173.5zM184.8 10.5H196.2V15.7H184.8zM3.8 15.7H26.4V20.9H3.8zM30.2 15.7H34V20.9H30.2zM45.3 15.7H56.6V20.9H45.3zM83 15.7H94.3V20.9H83zM105.6 15.7H109.4V20.9H105.6zM120.7 15.7H128.3V20.9H120.7zM139.6 15.7H147.1V20.9H139.6zM150.9 15.7H166V20.9H150.9zM173.5 15.7H196.2V20.9H173.5zM15.1 20.9H22.6V26.2H15.1zM30.2 20.9H37.7V26.2H30.2zM83 20.9H86.8V26.2H83zM124.5 20.9H132V26.2H124.5zM135.8 20.9H162.2V26.2H135.8zM203.7 20.9H211.2V26.2H203.7zM0 26.2H11.3V31.4H0zM124.5 26.2H128.3V31.4H124.5zM143.3 26.2H166V31.4H143.3zM203.7 26.2H211.2V31.4H203.7zM260.3 26.2H264.1V31.4H260.3zM139.6 31.4H158.4V36.6H139.6zM196.2 31.4H199.9V36.6H196.2zM203.7 31.4H215V36.6H203.7zM222.6 31.4H230.1V36.6H222.6zM249 31.4H256.5V36.6H249zM260.3 31.4H267.8V36.6H260.3zM196.2 36.6H199.9V41.9H196.2zM226.3 36.6H230.1V41.9H226.3zM256.5 36.6H264.1V41.9H256.5zM256.5 41.9H260.3V47.1H256.5z"/>
<path fill="#413ceb" d="M181.1 5.2H184.8V10.5H181.1zM60.4 10.5H79.2V15.7H60.4zM86.8 10.5H94.3V15.7H86.8zM166 10.5H173.5V15.7H166zM181.1 10.5H184.8V15.7H181.1zM26.4 15.7H30.2V20.9H26.4zM56.6 15.7H83V20.9H56.6zM94.3 15.7H105.6V20.9H94.3zM109.4 15.7H120.7V20.9H109.4zM166 15.7H173.5V20.9H166zM22.6 20.9H30.2V26.2H22.6zM45.3 20.9H83V26.2H45.3zM86.8 20.9H124.5V26.2H86.8zM162.2 20.9H203.7V26.2H162.2zM11.3 26.2H18.9V31.4H11.3zM22.6 26.2H37.7V31.4H22.6zM41.5 26.2H49V31.4H41.5zM52.8 26.2H56.6V31.4H52.8zM60.4 26.2H64.1V31.4H60.4zM71.7 26.2H124.5V31.4H71.7zM166 26.2H203.7V31.4H166zM22.6 31.4H26.4V36.6H22.6zM34 31.4H45.3V36.6H34zM86.8 31.4H139.6V36.6H86.8zM158.4 31.4H196.2V36.6H158.4zM199.9 31.4H203.7V36.6H199.9zM215 31.4H218.8V36.6H215zM245.2 31.4H249V36.6H245.2zM267.8 31.4H271.6V36.6H267.8zM105.6 36.6H109.4V41.9H105.6zM113.2 36.6H196.2V41.9H113.2zM199.9 36.6H226.3V41.9H199.9zM230.1 36.6H256.5V41.9H230.1zM264.1 36.6H271.6V41.9H264.1zM128.3 41.9H132V47.1H128.3zM139.6 41.9H162.2V47.1H139.6zM166 41.9H169.8V47.1H166zM196.2 41.9H207.5V47.1H196.2zM215 41.9H256.5V47.1H215zM147.1 47.1H162.2V52.3H147.1zM226.3 47.1H233.9V52.3H226.3zM237.7 47.1H252.7V52.3H237.7zM203.7 52.3H207.5V57.6H203.7zM203.7 57.6H207.5V62.8H203.7z"/>
<path fill="#c800ff" d="M3.8 20.9H15.1V26.2H3.8zM0 31.4H18.9V36.6H0zM11.3 41.9H18.9V47.1H11.3zM3.8 47.1H15.1V52.3H3.8zM11.3 52.3H15.1V57.6H11.3zM3.8 57.6H15.1V62.8H3.8zM34 73.3H37.7V78.5H34zM34 78.5H41.5V83.7H34zM34 83.7H37.7V89H34zM26.4 89H37.7V94.2H26.4zM30.2 94.2H45.3V99.4H30.2zM41.5 99.4H52.8V104.7H41.5zM45.3 104.7H52.8V109.9H45.3zM45.3 109.9H49V115.1H45.3zM215 109.9H222.6V115.1H215zM226.3 109.9H230.1V115.1H226.3zM237.7 109.9H241.4V115.1H237.7zM256.5 109.9H260.3V115.1H256.5zM264.1 109.9H267.8V115.1H264.1zM83 115.1H86.8V120.4H83zM215 115.1H245.2V120.4H215zM256.5 115.1H267.8V120.4H256.5zM83 120.4H86.8V125.6H83zM211.2 120.4H218.8V125.6H211.2zM222.6 120.4H230.1V125.6H222.6zM237.7 120.4H241.4V125.6H237.7zM245.2 120.4H271.6V125.6H245.2zM196.2 125.6H203.7V130.8H196.2zM245.2 125.6H271.6V130.8H245.2zM192.4 130.8H199.9V136.1H192.4zM211.2 130.8H218.8V136.1H211.2zM241.4 130.8H271.6V136.1H241.4zM188.6 136.1H199.9V141.3H188.6zM245.2 136.1H260.3V141.3H245.2zM188.6 141.3H199.9V146.5H188.6zM207.5 141.3H211.2V146.5H207.5zM218.8 141.3H222.6V146.5H218.8zM245.2 141.3H252.7V146.5H245.2zM188.6 146.5H215V151.8H188.6zM218.8 146.5H222.6V151.8H218.8z"/>
<path fill="#1eaa46" d="M18.9 26.2H22.6V31.4H18.9zM49 26.2H52.8V31.4H49zM56.6 26.2H60.4V31.4H56.6zM64.1 26.2H71.7V31.4H64.1zM18.9 31.4H22.6V36.6H18.9zM26.4 31.4H34V36.6H26.4zM45.3 31.4H52.8V36.6H45.3zM56.6 31.4H60.4V36.6H56.6zM67.9 31.4H86.8V36.6H67.9zM11.3 36.6H18.9V41.9H11.3zM26.4 36.6H34V41.9H26.4zM45.3 36.6H49V41.9H45.3zM56.6 36.6H60.4V41.9H56.6zM83 36.6H105.6V41.9H83zM109.4 36.6H113.2V41.9H109.4zM45.3 41.9H49V47.1H45.3zM86.8 41.9H90.5V47.1H86.8zM94.3 41.9H98.1V47.1H94.3zM101.9 41.9H105.6V47.1H101.9zM109.4 41.9H128.3V47.1H109.4zM132 41.9H139.6V47.1H132zM162.2 41.9H166V47.1H162.2zM181.1 41.9H196.2V47.1H181.1zM207.5 41.9H215V47.1H207.5zM260.3 41.9H271.6V47.1H260.3zM71.7 47.1H83V52.3H71.7zM94.3 47.1H98.1V52.3H94.3zM113.2 47.1H116.9V52.3H113.2zM124.5 47.1H147.1V52.3H124.5zM162.2 47.1H166V52.3H162.2zM184.8 47.1H226.3V52.3H184.8zM252.7 47.1H271.6V52.3H252.7zM18.9 52.3H26.4V57.6H18.9zM79.2 52.3H86.8V57.6H79.2zM90.5 52.3H94.3V57.6H90.5zM105.6 52.3H109.4V57.6H105.6zM143.3 52.3H147.1V57.6H143.3zM184.8 52.3H192.4V57.6H184.8zM196.2 52.3H203.7V57.6H196.2zM218.8 52.3H226.3V57.6H218.8zM252.7 52.3H267.8V57.6H252.7zM75.4 57.6H79.2V62.8H75.4zM86.8 57.6H98.1V62.8H86.8zM105.6 57.6H109.4V62.8H105.6zM113.2 57.6H116.9V62.8H113.2zM120.7 57.6H124.5V62.8H120.7zM139.6 57.6H150.9V62.8H139.6zM169.8 57.6H173.5V62.8H169.8zM177.3 57.6H181.1V62.8H177.3zM184.8 57.6H192.4V62.8H184.8zM199.9 57.6H203.7V62.8H199.9zM233.9 57.6H241.4V62.8H233.9zM252.7 57.6H256.5V62.8H252.7zM260.3 57.6H264.1V62.8H260.3zM60.4 62.8H64.1V68H60.4zM75.4 62.8H79.2V68H75.4zM113.2 62.8H116.9V68H113.2zM120.7 62.8H128.3V68H120.7zM135.8 62.8H162.2V68H135.8zM166 62.8H173.5V68H166zM177.3 62.8H181.1V68H177.3zM192.4 62.8H196.2V68H192.4zM199.9 62.8H203.7V68H199.9zM233.9 62.8H237.7V68H233.9zM249 62.8H252.7V68H249zM60.4 68H64.1V73.3H60.4zM105.6 68H109.4V73.3H105.6zM113.2 68H154.7V73.3H113.2zM166 68H169.8V73.3H166zM192.4 68H196.2V73.3H192.4zM199.9 68H222.6V73.3H199.9zM226.3 68H237.7V73.3H226.3zM245.2 68H271.6V73.3H245.2zM67.9 73.3H71.7V78.5H67.9zM75.4 73.3H79.2V78.5H75.4zM105.6 73.3H158.4V78.5H105.6zM173.5 73.3H177.3V78.5H173.5zM192.4 73.3H196.2V78.5H192.4zM218.8 73.3H222.6V78.5H218.8zM226.3 73.3H237.7V78.5H226.3zM252.7 73.3H267.8V78.5H252.7zM67.9 78.5H94.3V83.7H67.9zM105.6 78.5H158.4V83.7H105.6zM169.8 78.5H177.3V83.7H169.8zM203.7 78.5H207.5V83.7H203.7zM211.2 78.5H215V83.7H211.2zM218.8 78.5H226.3V83.7H218.8zM233.9 78.5H237.7V83.7H233.9zM252.7 78.5H267.8V83.7H252.7zM52.8 83.7H60.4V89H52.8zM67.9 83.7H105.6V89H67.9zM109.4 83.7H166V89H109.4zM169.8 83.7H173.5V89H169.8zM199.9 83.7H226.3V89H199.9zM252.7 83.7H271.6V89H252.7zM56.6 89H105.6V94.2H56.6zM109.4 89H173.5V94.2H109.4zM199.9 89H222.6V94.2H199.9zM256.5 89H271.6V94.2H256.5zM60.4 94.2H64.1V99.4H60.4zM67.9 94.2H166V99.4H67.9zM173.5 94.2H181.1V99.4H173.5zM215 94.2H222.6V99.4H215zM256.5 94.2H271.6V99.4H256.5zM75.4 99.4H105.6V104.7H75.4zM109.4 99.4H184.8V104.7H109.4zM218.8 99.4H222.6V104.7H218.8zM260.3 99.4H264.1V104.7H260.3zM75.4 104.7H83V109.9H75.4zM98.1 104.7H105.6V109.9H98.1zM124.5 104.7H135.8V109.9H124.5zM139.6 104.7H162.2V109.9H139.6zM181.1 104.7H184.8V109.9H181.1zM211.2 104.7H215V109.9H211.2zM230.1 104.7H241.4V109.9H230.1zM98.1 109.9H101.9V115.1H98.1zM124.5 109.9H135.8V115.1H124.5zM139.6 109.9H158.4V115.1H139.6zM207.5 109.9H215V115.1H207.5zM230.1 109.9H237.7V115.1H230.1zM139.6 115.1H147.1V120.4H139.6zM162.2 115.1H166V120.4H162.2zM211.2 115.1H215V120.4H211.2zM162.2 120.4H166V125.6H162.2zM162.2 125.6H166V130.8H162.2z"/>
<path fill="#a00000" d="M52.8 31.4H56.6V36.6H52.8zM60.4 31.4H67.9V36.6H60.4zM18.9 36.6H26.4V41.9H18.9zM34 36.6H45.3V41.9H34zM49 36.6H56.6V41.9H49zM60.4 36.6H83V41.9H60.4zM18.9 41.9H45.3V47.1H18.9zM49 41.9H86.8V47.1H49zM90.5 41.9H94.3V47.1H90.5zM98.1 41.9H101.9V47.1H98.1zM105.6 41.9H109.4V47.1H105.6zM169.8 41.9H181.1V47.1H169.8zM15.1 47.1H71.7V52.3H15.1zM83 47.1H94.3V52.3H83zM98.1 47.1H113.2V52.3H98.1zM116.9 47.1H124.5V52.3H116.9zM166 47.1H184.8V52.3H166zM233.9 47.1H237.7V52.3H233.9zM15.1 52.3H18.9V57.6H15.1zM26.4 52.3H79.2V57.6H26.4zM86.8 52.3H90.5V57.6H86.8zM94.3 52.3H105.6V57.6H94.3zM109.4 52.3H143.3V57.6H109.4zM147.1 52.3H184.8V57.6H147.1zM192.4 52.3H196.2V57.6H192.4zM207.5 52.3H218.8V57.6H207.5zM226.3 52.3H252.7V57.6H226.3zM267.8 52.3H271.6V57.6H267.8zM15.1 57.6H75.4V62.8H15.1zM79.2 57.6H86.8V62.8H79.2zM98.1 57.6H105.6V62.8H98.1zM109.4 57.6H113.2V62.8H109.4zM116.9 57.6H120.7V62.8H116.9zM124.5 57.6H139.6V62.8H124.5zM150.9 57.6H169.8V62.8H150.9zM173.5 57.6H177.3V62.8H173.5zM181.1 57.6H184.8V62.8H181.1zM192.4 57.6H199.9V62.8H192.4zM207.5 57.6H233.9V62.8H207.5zM241.4 57.6H252.7V62.8H241.4zM256.5 57.6H260.3V62.8H256.5zM264.1 57.6H271.6V62.8H264.1zM7.5 62.8H60.4V68H7.5zM64.1 62.8H75.4V68H64.1zM79.2 62.8H113.2V68H79.2zM116.9 62.8H120.7V68H116.9zM128.3 62.8H135.8V68H128.3zM162.2 62.8H166V68H162.2zM173.5 62.8H177.3V68H173.5zM181.1 62.8H192.4V68H181.1zM196.2 62.8H199.9V68H196.2zM203.7 62.8H233.9V68H203.7zM237.7 62.8H249V68H237.7zM252.7 62.8H271.6V68H252.7zM11.3 68H60.4V73.3H11.3zM64.1 68H105.6V73.3H64.1zM109.4 68H113.2V73.3H109.4zM154.7 68H166V73.3H154.7zM169.8 68H192.4V73.3H169.8zM196.2 68H199.9V73.3H196.2zM222.6 68H226.3V73.3H222.6zM237.7 68H245.2V73.3H237.7zM15.1 73.3H34V78.5H15.1zM37.7 73.3H67.9V78.5H37.7zM71.7 73.3H75.4V78.5H71.7zM79.2 73.3H105.6V78.5H79.2zM158.4 73.3H173.5V78.5H158.4zM177.3 73.3H192.4V78.5H177.3zM196.2 73.3H218.8V78.5H196.2zM222.6 73.3H226.3V78.5H222.6zM237.7 73.3H252.7V78.5H237.7zM267.8 73.3H271.6V78.5H267.8zM18.9 78.5H34V83.7H18.9zM41.5 78.5H67.9V83.7H41.5zM94.3 78.5H105.6V83.7H94.3zM158.4 78.5H169.8V83.7H158.4zM177.3 78.5H203.7V83.7H177.3zM207.5 78.5H211.2V83.7H207.5zM215 78.5H218.8V83.7H215zM226.3 78.5H233.9V83.7H226.3zM237.7 78.5H252.7V83.7H237.7zM267.8 78.5H271.6V83.7H267.8zM22.6 83.7H34V89H22.6zM37.7 83.7H52.8V89H37.7zM60.4 83.7H67.9V89H60.4zM105.6 83.7H109.4V89H105.6zM166 83.7H169.8V89H166zM173.5 83.7H199.9V89H173.5zM226.3 83.7H252.7V89H226.3zM37.7 89H56.6V94.2H37.7zM105.6 89H109.4V94.2H105.6zM173.5 89H199.9V94.2H173.5zM222.6 89H256.5V94.2H222.6zM45.3 94.2H60.4V99.4H45.3zM166 94.2H173.5V99.4H166zM181.1 94.2H215V99.4H181.1zM222.6 94.2H256.5V99.4H222.6zM52.8 99.4H64.1V104.7H52.8zM67.9 99.4H75.4V104.7H67.9zM105.6 99.4H109.4V104.7H105.6zM184.8 99.4H218.8V104.7H184.8zM222.6 99.4H260.3V104.7H222.6zM264.1 99.4H271.6V104.7H264.1zM52.8 104.7H75.4V109.9H52.8zM83 104.7H98.1V109.9H83zM105.6 104.7H124.5V109.9H105.6zM135.8 104.7H139.6V109.9H135.8zM162.2 104.7H181.1V109.9H162.2zM184.8 104.7H211.2V109.9H184.8zM215 104.7H230.1V109.9H215zM241.4 104.7H271.6V109.9H241.4zM56.6 109.9H75.4V115.1H56.6zM83 109.9H98.1V115.1H83zM109.4 109.9H124.5V115.1H109.4zM135.8 109.9H139.6V115.1H135.8zM158.4 109.9H166V115.1H158.4zM173.5 109.9H207.5V115.1H173.5zM222.6 109.9H226.3V115.1H222.6zM241.4 109.9H256.5V115.1H241.4zM260.3 109.9H264.1V115.1H260.3zM267.8 109.9H271.6V115.1H267.8zM56.6 115.1H75.4V120.4H56.6zM86.8 115.1H105.6V120.4H86.8zM109.4 115.1H139.6V120.4H109.4zM154.7 115.1H162.2V120.4H154.7zM177.3 115.1H211.2V120.4H177.3zM245.2 115.1H256.5V120.4H245.2zM267.8 115.1H271.6V120.4H267.8zM64.1 120.4H83V125.6H64.1zM94.3 120.4H147.1V125.6H94.3zM154.7 120.4H162.2V125.6H154.7zM177.3 120.4H211.2V125.6H177.3zM218.8 120.4H222.6V125.6H218.8zM230.1 120.4H237.7V125.6H230.1zM241.4 120.4H245.2V125.6H241.4zM67.9 125.6H86.8V130.8H67.9zM90.5 125.6H147.1V130.8H90.5zM154.7 125.6H162.2V130.8H154.7zM177.3 125.6H196.2V130.8H177.3zM203.7 125.6H230.1V130.8H203.7zM233.9 125.6H245.2V130.8H233.9zM71.7 130.8H90.5V136.1H71.7zM94.3 130.8H98.1V136.1H94.3zM101.9 130.8H116.9V136.1H101.9zM128.3 130.8H147.1V136.1H128.3zM166 130.8H192.4V136.1H166zM199.9 130.8H211.2V136.1H199.9zM218.8 130.8H230.1V136.1H218.8zM237.7 130.8H241.4V136.1H237.7zM83 136.1H90.5V141.3H83zM94.3 136.1H98.1V141.3H94.3zM101.9 136.1H113.2V141.3H101.9zM128.3 136.1H139.6V141.3H128.3zM181.1 136.1H184.8V141.3H181.1zM199.9 136.1H207.5V141.3H199.9zM218.8 136.1H245.2V141.3H218.8zM260.3 136.1H271.6V141.3H260.3zM83 141.3H90.5V146.5H83zM94.3 141.3H98.1V146.5H94.3zM101.9 141.3H113.2V146.5H101.9zM181.1 141.3H184.8V146.5H181.1zM199.9 141.3H207.5V146.5H199.9zM222.6 141.3H226.3V146.5H222.6zM241.4 141.3H245.2V146.5H241.4zM181.1 146.5H184.8V151.8H181.1zM199.9 151.8H215V157H199.9zM199.9 157H215V162.2H199.9zM199.9 162.2H211.2V167.5H199.9zM199.9 167.5H211.2V172.7H199.9zM199.9 172.7H211.2V177.9H199.9zM199.9 177.9H211.2V183.2H199.9zM199.9 183.2H215V188.4H199.9z"/>
<path fill="#f5a014" d="M0 36.6H11.3V41.9H0zM0 41.9H11.3V47.1H0zM0 52.3H11.3V57.6H0zM166 125.6H177.3V130.8H166zM124.5 130.8H128.3V136.1H124.5zM79.2 136.1H83V141.3H79.2zM124.5 136.1H128.3V141.3H124.5zM169.8 136.1H181.1V141.3H169.8zM184.8 136.1H188.6V141.3H184.8zM79.2 141.3H83V146.5H79.2zM124.5 141.3H128.3V146.5H124.5zM173.5 141.3H181.1V146.5H173.5zM184.8 141.3H188.6V146.5H184.8zM79.2 146.5H83V151.8H79.2zM177.3 146.5H181.1V151.8H177.3zM184.8 146.5H188.6V151.8H184.8z"/>
<path fill="#1e788c" d="M64.1 94.2H67.9V99.4H64.1zM30.2 99.4H41.5V104.7H30.2zM64.1 99.4H67.9V104.7H64.1zM30.2 104.7H45.3V109.9H30.2zM34 109.9H45.3V115.1H34zM49 109.9H56.6V115.1H49zM75.4 109.9H83V115.1H75.4zM101.9 109.9H109.4V115.1H101.9zM166 109.9H173.5V115.1H166zM37.7 115.1H56.6V120.4H37.7zM75.4 115.1H83V120.4H75.4zM105.6 115.1H109.4V120.4H105.6zM147.1 115.1H154.7V120.4H147.1zM166 115.1H177.3V120.4H166zM41.5 120.4H64.1V125.6H41.5zM86.8 120.4H94.3V125.6H86.8zM147.1 120.4H154.7V125.6H147.1zM166 120.4H177.3V125.6H166zM49 125.6H67.9V130.8H49zM86.8 125.6H90.5V130.8H86.8zM147.1 125.6H154.7V130.8H147.1zM230.1 125.6H233.9V130.8H230.1zM56.6 130.8H71.7V136.1H56.6zM90.5 130.8H94.3V136.1H90.5zM98.1 130.8H101.9V136.1H98.1zM116.9 130.8H124.5V136.1H116.9zM230.1 130.8H237.7V136.1H230.1zM60.4 136.1H79.2V141.3H60.4zM90.5 136.1H94.3V141.3H90.5zM98.1 136.1H101.9V141.3H98.1zM113.2 136.1H124.5V141.3H113.2zM207.5 136.1H218.8V141.3H207.5zM67.9 141.3H79.2V146.5H67.9zM90.5 141.3H94.3V146.5H90.5zM98.1 141.3H101.9V146.5H98.1zM113.2 141.3H124.5V146.5H113.2zM211.2 141.3H218.8V146.5H211.2zM226.3 141.3H241.4V146.5H226.3zM252.7 141.3H271.6V146.5H252.7zM71.7 146.5H79.2V151.8H71.7zM116.9 146.5H120.7V151.8H116.9zM215 146.5H218.8V151.8H215zM222.6 146.5H271.6V151.8H222.6zM75.4 151.8H79.2V157H75.4zM215 151.8H271.6V157H215zM215 157H271.6V162.2H215zM211.2 162.2H271.6V167.5H211.2zM211.2 167.5H271.6V172.7H211.2zM211.2 172.7H271.6V177.9H211.2zM211.2 177.9H271.6V183.2H211.2zM215 183.2H271.6V188.4H215z"/>
<path fill="#ebf51e" d="M23.1 5.9h2.8v3.9h-2.8zM26.9 11.1h2.8v3.9h-2.8zM57.1 11.1h2.8v3.9h-2.8zM128.7 11.1h2.8v3.9h-2.8zM136.3 11.1h2.8v3.9h-2.8zM196.6 11.1h2.8v3.9h-2.8zM102.3 21.6h2.8v3.9h-2.8zM170.2 21.6h2.8v3.9h-2.8zM196.6 21.6h2.8v3.9h-2.8zM42 26.8h2.8v3.9h-2.8zM113.7 26.8h2.8v3.9h-2.8zM234.4 32.1h2.8v3.9h-2.8zM241.9 32.1h2.8v3.9h-2.8z"/>
<path fill="#413ceb" d="M19.3 11.1h2.8v3.9h-2.8zM38.2 16.4h2.8v3.9h-2.8zM155.1 26.8h2.8v3.9h-2.8zM98.6 37.3h2.8v3.9h-2.8zM260.8 42.5h2.8v3.9h-2.8zM174 47.8h2.8v3.9h-2.8zM211.7 47.8h2.8v3.9h-2.8z"/>
<path fill="#c800ff" d="M23.1 11.1h2.8v3.9h-2.8zM19.3 21.6h2.8v3.9h-2.8zM102.3 26.8h2.8v3.9h-2.8zM241.9 58.2h2.8v3.9h-2.8zM53.3 94.9h2.8v3.9h-2.8zM241.9 105.3h2.8v3.9h-2.8zM83.5 110.6h2.8v3.9h-2.8zM91 110.6h2.8v3.9h-2.8zM87.2 115.8h2.8v3.9h-2.8zM79.7 121h2.8v3.9h-2.8zM106.1 121h2.8v3.9h-2.8zM121.2 121h2.8v3.9h-2.8zM181.6 121h2.8v3.9h-2.8zM200.4 121h2.8v3.9h-2.8zM83.5 126.3h2.8v3.9h-2.8zM113.7 126.3h2.8v3.9h-2.8zM204.2 126.3h2.8v3.9h-2.8z"/>
<path fill="#96dc1e" d="M192.9 11.1h2.8v3.9h-2.8zM155.1 16.4h2.8v3.9h-2.8zM185.3 79.2h2.8v3.9h-2.8zM132.5 115.8h2.8v3.9h-2.8z"/>
<path fill="#1eaa46" d="M109.9 21.6h2.8v3.9h-2.8zM98.6 32.1h2.8v3.9h-2.8zM181.6 32.1h2.8v3.9h-2.8zM34.4 37.3h2.8v3.9h-2.8zM23.1 42.5h2.8v3.9h-2.8zM30.7 42.5h2.8v3.9h-2.8zM151.4 47.8h2.8v3.9h-2.8zM155.1 53h2.8v3.9h-2.8zM174 53h2.8v3.9h-2.8zM181.6 53h2.8v3.9h-2.8zM211.7 53h2.8v3.9h-2.8zM15.6 58.2h2.8v3.9h-2.8zM132.5 58.2h2.8v3.9h-2.8zM26.9 63.5h2.8v3.9h-2.8zM53.3 63.5h2.8v3.9h-2.8zM102.3 63.5h2.8v3.9h-2.8zM264.5 63.5h2.8v3.9h-2.8zM49.5 68.7h2.8v3.9h-2.8zM79.7 68.7h2.8v3.9h-2.8zM38.2 73.9h2.8v3.9h-2.8zM53.3 73.9h2.8v3.9h-2.8zM98.6 73.9h2.8v3.9h-2.8zM241.9 73.9h2.8v3.9h-2.8zM181.6 84.4h2.8v3.9h-2.8zM45.8 89.6h2.8v3.9h-2.8zM249.5 89.6h2.8v3.9h-2.8zM42 94.9h2.8v3.9h-2.8zM241.9 94.9h2.8v3.9h-2.8zM230.6 115.8h2.8v3.9h-2.8zM241.9 115.8h2.8v3.9h-2.8zM200.4 126.3h2.8v3.9h-2.8zM204.2 136.7h2.8v3.9h-2.8zM211.7 183.8h2.8v3.9h-2.8z"/>
<path fill="#a00000" d="M45.8 32.1h2.8v3.9h-2.8zM30.7 37.3h2.8v3.9h-2.8zM226.8 42.5h2.8v3.9h-2.8zM189.1 47.8h2.8v3.9h-2.8zM264.5 47.8h2.8v3.9h-2.8zM185.3 53h2.8v3.9h-2.8zM200.4 53h2.8v3.9h-2.8zM143.8 68.7h2.8v3.9h-2.8zM264.5 68.7h2.8v3.9h-2.8zM151.4 73.9h2.8v3.9h-2.8zM125 79.2h2.8v3.9h-2.8zM94.8 89.6h2.8v3.9h-2.8zM117.4 89.6h2.8v3.9h-2.8zM143.8 89.6h2.8v3.9h-2.8zM215.5 89.6h2.8v3.9h-2.8zM260.8 89.6h2.8v3.9h-2.8zM75.9 94.9h2.8v3.9h-2.8zM79.7 100.1h2.8v3.9h-2.8zM49.5 110.6h2.8v3.9h-2.8zM151.4 110.6h2.8v3.9h-2.8zM230.6 110.6h2.8v3.9h-2.8zM79.7 115.8h2.8v3.9h-2.8zM215.5 115.8h2.8v3.9h-2.8zM83.5 121h2.8v3.9h-2.8zM211.7 142h2.8v3.9h-2.8zM249.5 142h2.8v3.9h-2.8zM245.7 147.2h2.8v3.9h-2.8zM215.5 183.8h2.8v3.9h-2.8z"/>
<path fill="#1e788c" d="M11.8 53h2.8v3.9h-2.8zM26.9 73.9h2.8v3.9h-2.8zM34.4 84.4h2.8v3.9h-2.8zM57.1 105.3h2.8v3.9h-2.8zM83.5 115.8h2.8v3.9h-2.8zM113.7 115.8h2.8v3.9h-2.8zM125 115.8h2.8v3.9h-2.8zM68.4 121h2.8v3.9h-2.8zM98.6 121h2.8v3.9h-2.8zM257 126.3h2.8v3.9h-2.8zM79.7 131.5h2.8v3.9h-2.8zM204.2 131.5h2.8v3.9h-2.8zM219.3 131.5h2.8v3.9h-2.8z"/>
<path fill="#f5a014" d="M166.5 115.8h2.8v3.9h-2.8z"/>
<path fill="#e11e28" d="M268.3 168.1h2.8v3.9h-2.8z"/>
<polygon fill="#1e788c" points="162.6,66.3 163.7,62.9 164.3,55.8 167.1,48 169.3,44.7 174.9,42.4 180.5,43 183.8,44.7 188.3,49.1 193.9,48 198.3,50.2 203.8,54 209.4,52.5 212.7,49.1 218.3,48 223.9,48.6 227.2,50.8 230.6,51.4 233.9,46.9 236.2,42.4 237.3,46.9 240.6,52.5 242.9,58.1 246.2,63 245.1,67.5 240.6,71.9 237.3,78.6 236.2,85.3 231.7,90.9 229.5,97.6 226.7,104.3 223.9,111 220.5,121.1 217.8,117.7 215,114.4 210.5,117.7 207.1,122.2 204.9,125.9 203.3,132 202.8,141 201.7,141.6 196.1,142.7 188.3,143.3 181.6,145 176,140.5 174.3,132.7 171.5,126 169.3,123.3 164.8,121.1 158.1,120.5 157,120.8 156.5,107.7 156.5,96.5 158.7,93.1 162,87.6 163.7,82 164.3,74.2"/>
</g></g>
<polygon fill="#fff" points="0,0 14.9,0 13.2,6.7 11.5,13.4 10.4,21.2 9.3,25.7 3.7,33.5 7.1,38 9.3,44.7 11,49.1 9.8,55.8 11,62.5 12.1,63.5 17.7,68.6 23.2,75.3 27.7,82 33.3,88.7 36.6,94.3 36.6,101 38.9,107.7 44.5,112.1 50,116.6 54.5,121.1 58.2,126.5 65.6,135 73,141.6 79.6,145.3 81.8,140.2 89.2,136.5 99.6,133.5 109.9,134.3 115.8,137.2 120.3,138.7 127.6,134.3 135,130.6 140.3,128.4 144.7,124.5 150.3,121.6 158.1,120.5 164.8,121.1 169.3,123.3 171.5,126 174.3,132.7 176,140.5 181.6,145 188.3,143.3 196.1,142.7 201.7,141.6 203.3,145 206,148.3 208.3,155 209.4,162.8 208.3,170.7 206,177.4 206,188.4 0,188.4"/>
<rect x="11.8" y="70.3" width="3.2" height="4.4" fill="#1e788c"/>
<g fill="none" stroke="#000" stroke-width="2.1" stroke-linejoin="round" stroke-linecap="round">
<polyline points="14.9,0 13.2,6.7 11.5,13.4 10.4,21.2 9.3,25.7 3.7,33.5 7.1,38 9.3,44.7 11,49.1 9.8,55.8 11,62.5 12.1,63.5 17.7,68.6 23.2,75.3 27.7,82 33.3,88.7 36.6,94.3 36.6,101 38.9,107.7 44.5,112.1 50,116.6 54.5,121.1 58.2,126.5 65.6,135 73,141.6 79.6,145.3 81.8,140.2 89.2,136.5 99.6,133.5 109.9,134.3 115.8,137.2 120.3,138.7 127.6,134.3 135,130.6 140.3,128.4 144.7,124.5 150.3,121.6 158.1,120.5 164.8,121.1 169.3,123.3 171.5,126 174.3,132.7 176,140.5 181.6,145 188.3,143.3 196.1,142.7 201.7,141.6 203.3,145 206,148.3 208.3,155 209.4,162.8 208.3,170.7 206,177.4 206,188.4"/>
<polyline points="11.5,14.5 16.5,15.1 22.1,14 27.2,14 31.1,18.4 34.4,20.1 38.9,25.7 42.8,30.1 44.5,33.5"/>
<polyline points="44.5,33.5 44.5,27.9 46.7,25.1 51.2,26.2 55.6,27.4 62.3,25.3 67.8,24.7 94,25.2 93.3,11.2 92.4,0"/>
<polyline points="44.5,33.5 43.9,38 44.5,44.7 46.7,49.1 50,53.6"/>
<polyline points="10.2,58.2 20.5,56.3 31.3,55.8 39.2,58.2 46.1,57.2 49.6,53.6"/>
<polyline points="31.3,55.8 33.3,59.7 31.3,64.6 25.4,68.6 20.5,72.5"/>
<polyline points="50,53.6 52.3,60.3 57.9,62.5 64.8,61.5 71.1,63 72.3,68.6 72.8,74.2 73.9,80.9 75.6,87.6 76.2,95.4 75.1,101 76.2,106.5 74.5,109.9 70,113.2 71.1,118.8 74.4,122.4 78.1,126.9 79.6,135.7 79.6,145.3"/>
<polyline points="36.6,93.1 38.9,88.7 41.1,85.3 45.6,83.7 51.2,84.2 53.4,87.6 55.1,92 55.6,97.6 54.5,102.1 55.6,105.4 52.3,112.1 50,116"/>
<polyline points="55.6,101 60.1,99.8 63.4,104.3 65.7,109.9 67.8,113.2 70,113.2"/>
<polyline points="73.4,77.5 76.7,80.9 82.3,81.4 87.9,77.5 91.2,79.7 95.7,82.5 100.2,85.3 104.6,84.8 109.1,83.1 114.1,82.5"/>
<polyline points="135.8,31.8 130.3,31.5 127,32.4 122.5,35.7 119.2,38.5 115.8,41.3 112.5,44.7 106.9,46.9 103.5,51.4 101.3,58.1 97.9,62.9 95.2,69.7 94,75.3 95.7,82.5"/>
<polyline points="114.1,82.5 115.3,89.8 116.9,96.5 116.9,102.1 114.1,107.7 112.5,113.2 112.5,125.9 115.1,130 115.8,137.2"/>
<polyline points="114.1,82.5 114.1,74.2 116.9,73 125.9,72.8 132.6,73 135.8,72.5 139.1,74.2 140.3,77.5"/>
<polyline points="138,75.3 138.6,85.3 139.1,96.5 139.7,107.7 140.3,116.6 141.4,122.2 142.5,125.9"/>
<polyline points="155.3,63.5 150.3,66.3 145.8,69.1 142.5,71.9 141.4,75.3 140.3,77.5"/>
<polyline points="142.5,72.5 141.9,77.5 144.7,83.1 147,90.9 147.5,102.1 147.5,113.2 148.1,121.6"/>
<polyline points="162.6,66.3 164.3,74.2 163.7,82 162,87.6 158.7,93.1 156.5,96.5 156.5,107.7 157,120.8"/>
<polyline points="135.8,31.8 138,36.8 140.3,43.5 143.6,49.1 147,53.6 151.4,56.9 153.7,60.9 155.3,63.5 158.8,62 162.6,66.3"/>
<polyline points="162.6,66.3 163.7,62.9 164.3,55.8 167.1,48 169.3,44.7 174.9,42.4 180.5,43 183.8,44.7 188.3,49.1 193.9,48 198.3,50.2 203.8,54 209.4,52.5 212.7,49.1 218.3,48 223.9,48.6 227.2,50.8 230.6,51.4 233.9,46.9 236.2,42.4"/>
<polyline points="167.6,0 168.2,10 166.5,15.6 165.4,21.2 162,25.1 158.1,26.8 150.3,27.4 144.7,28.5 141.4,31.3 135.8,31.8"/>
<polyline points="253.5,0 252.9,10 248.5,17.9 244,24.6 240.6,30.1 238.4,35.7 236.2,41.3"/>
<polyline points="236.2,41.3 237.3,46.9 240.6,52.5 242.9,58.1 246.2,63 245.1,67.5 240.6,71.9 237.3,78.6 236.2,85.3 231.7,90.9 229.5,97.6 226.7,104.3 223.9,111 220.5,121.1 217.8,117.7 215,114.4 210.5,117.7 207.1,122.2 204.9,125.9 203.3,132 202.8,141"/>
<polyline points="242.9,58.1 248.5,62.9 249.6,69.7 250.7,77.5 252.9,83.1 241.8,84.2 240.6,87 245.1,93.1 249.6,99.8 251.8,106.5 252.9,109.9 249.6,115.5 247.3,121.1 245.1,126 245.7,132.7 247.9,140.5 250.7,148.3 254,155 257.4,159.5 258,170.7"/>
<polyline points="252.9,109.9 257.4,107.7 261.9,106.5 267.4,105.2 271.6,104.5"/>
<polyline points="258,170.7 259.6,159.5 260.2,152.8 263,150.6 267.4,150 271.6,148.9"/>
<polyline points="209.4,164.5 220.5,164.5 226.1,163.4 233.9,164.5 240.6,165.1 248.5,166.8 254,169 258,170.7"/>
<polyline points="220.5,164.5 221.1,177.4 208.3,177.9"/>
<polyline points="236.2,165 235.1,172.9 238.4,174.6 242.9,176.2 244.6,181.8 241.8,188.4"/>
<polygon fill="#a5d632" stroke-width="2" points="236,40.2 240.4,39.4 243.2,45.6 251,47.7 247.8,52.6 245.3,51.5 242.4,49.9 240.4,54.6 238.5,49.7 236.1,43.5"/>
<polyline stroke-width="1.8" points="238.1,41.5 240.8,47.2 244.6,49.6 247.3,49.8"/>
<polyline stroke-width="1.6" points="239.1,46.5 240.1,51.5"/>
<polyline stroke-width="3.6" points="16.3,47.6 20.8,46.6 25.8,46.4 31.8,48.3"/>
</g>
<ellipse cx="201.4" cy="152" rx="1.7" ry="3.8" fill="#000"/>
<path fill="none" stroke="#222" stroke-width="1.1" d="M0 188.4V0H271.6V188.4"/>
<path fill="none" stroke="#333" stroke-width="1" d="M22.6 0v-9.6M60.4 0v-9.6M98.1 0v-9.6M135.8 0v-9.6M173.5 0v-9.6M211.2 0v-9.6M249 0v-9.6M0 31.2h-6.8M271.6 31.2h6.8M0 84h-6.8M271.6 84h6.8M0 136.8h-6.8M271.6 136.8h6.8"/>
<text y="181.2" font-size="20.4"><tspan x="1.5" textLength="21.7" lengthAdjust="spacingAndGlyphs">(e)</tspan> <tspan x="34" textLength="32" lengthAdjust="spacingAndGlyphs">NGR</tspan></text>
</g>
<g transform="translate(329 207.5)">
<g filter="url(#soft)"><rect width="271.6" height="188.4" fill="#fff"/><g shape-rendering="crispEdges">
<path fill="#96dc1e" d="M7.5 0H113.2V5.2H7.5zM116.9 0H135.8V5.2H116.9zM143.3 0H169.8V5.2H143.3zM173.5 0H181.1V5.2H173.5zM203.7 0H271.6V5.2H203.7zM3.8 5.2H101.9V10.5H3.8zM120.7 5.2H143.3V10.5H120.7zM196.2 5.2H271.6V10.5H196.2zM3.8 10.5H15.1V15.7H3.8zM30.2 10.5H41.5V15.7H30.2zM49 10.5H60.4V15.7H49zM124.5 10.5H143.3V15.7H124.5zM147.1 10.5H150.9V15.7H147.1zM196.2 10.5H271.6V15.7H196.2zM34 15.7H45.3V20.9H34zM128.3 15.7H139.6V20.9H128.3zM147.1 15.7H150.9V20.9H147.1zM196.2 15.7H271.6V20.9H196.2zM37.7 20.9H45.3V26.2H37.7zM132 20.9H135.8V26.2H132zM211.2 20.9H271.6V26.2H211.2zM37.7 26.2H41.5V31.4H37.7zM128.3 26.2H143.3V31.4H128.3zM211.2 26.2H260.3V31.4H211.2zM264.1 26.2H271.6V31.4H264.1zM218.8 31.4H222.6V36.6H218.8zM230.1 31.4H245.2V36.6H230.1zM256.5 31.4H260.3V36.6H256.5z"/>
<path fill="#ebf51e" d="M113.2 0H116.9V5.2H113.2zM135.8 0H143.3V5.2H135.8zM169.8 0H173.5V5.2H169.8zM181.1 0H203.7V5.2H181.1zM101.9 5.2H120.7V10.5H101.9zM143.3 5.2H181.1V10.5H143.3zM184.8 5.2H196.2V10.5H184.8zM15.1 10.5H30.2V15.7H15.1zM41.5 10.5H49V15.7H41.5zM79.2 10.5H86.8V15.7H79.2zM94.3 10.5H124.5V15.7H94.3zM143.3 10.5H147.1V15.7H143.3zM150.9 10.5H166V15.7H150.9zM173.5 10.5H181.1V15.7H173.5zM184.8 10.5H196.2V15.7H184.8zM3.8 15.7H26.4V20.9H3.8zM30.2 15.7H34V20.9H30.2zM45.3 15.7H56.6V20.9H45.3zM83 15.7H94.3V20.9H83zM105.6 15.7H109.4V20.9H105.6zM120.7 15.7H128.3V20.9H120.7zM139.6 15.7H147.1V20.9H139.6zM150.9 15.7H166V20.9H150.9zM173.5 15.7H196.2V20.9H173.5zM15.1 20.9H22.6V26.2H15.1zM30.2 20.9H37.7V26.2H30.2zM83 20.9H86.8V26.2H83zM124.5 20.9H132V26.2H124.5zM135.8 20.9H162.2V26.2H135.8zM203.7 20.9H211.2V26.2H203.7zM0 26.2H11.3V31.4H0zM124.5 26.2H128.3V31.4H124.5zM143.3 26.2H166V31.4H143.3zM203.7 26.2H211.2V31.4H203.7zM260.3 26.2H264.1V31.4H260.3zM139.6 31.4H158.4V36.6H139.6zM196.2 31.4H199.9V36.6H196.2zM203.7 31.4H215V36.6H203.7zM222.6 31.4H230.1V36.6H222.6zM249 31.4H256.5V36.6H249zM260.3 31.4H267.8V36.6H260.3zM196.2 36.6H199.9V41.9H196.2zM226.3 36.6H230.1V41.9H226.3zM256.5 36.6H264.1V41.9H256.5zM256.5 41.9H260.3V47.1H256.5z"/>
<path fill="#413ceb" d="M181.1 5.2H184.8V10.5H181.1zM60.4 10.5H79.2V15.7H60.4zM86.8 10.5H94.3V15.7H86.8zM166 10.5H173.5V15.7H166zM181.1 10.5H184.8V15.7H181.1zM26.4 15.7H30.2V20.9H26.4zM56.6 15.7H83V20.9H56.6zM94.3 15.7H105.6V20.9H94.3zM109.4 15.7H120.7V20.9H109.4zM166 15.7H173.5V20.9H166zM22.6 20.9H30.2V26.2H22.6zM45.3 20.9H83V26.2H45.3zM86.8 20.9H124.5V26.2H86.8zM162.2 20.9H203.7V26.2H162.2zM11.3 26.2H18.9V31.4H11.3zM22.6 26.2H37.7V31.4H22.6zM41.5 26.2H49V31.4H41.5zM52.8 26.2H56.6V31.4H52.8zM60.4 26.2H64.1V31.4H60.4zM71.7 26.2H124.5V31.4H71.7zM166 26.2H203.7V31.4H166zM22.6 31.4H26.4V36.6H22.6zM34 31.4H45.3V36.6H34zM86.8 31.4H139.6V36.6H86.8zM158.4 31.4H196.2V36.6H158.4zM199.9 31.4H203.7V36.6H199.9zM215 31.4H218.8V36.6H215zM245.2 31.4H249V36.6H245.2zM267.8 31.4H271.6V36.6H267.8zM105.6 36.6H109.4V41.9H105.6zM113.2 36.6H196.2V41.9H113.2zM199.9 36.6H226.3V41.9H199.9zM230.1 36.6H256.5V41.9H230.1zM264.1 36.6H271.6V41.9H264.1zM128.3 41.9H132V47.1H128.3zM139.6 41.9H162.2V47.1H139.6zM166 41.9H169.8V47.1H166zM196.2 41.9H207.5V47.1H196.2zM215 41.9H256.5V47.1H215zM147.1 47.1H162.2V52.3H147.1zM226.3 47.1H233.9V52.3H226.3zM237.7 47.1H252.7V52.3H237.7zM203.7 52.3H207.5V57.6H203.7zM203.7 57.6H207.5V62.8H203.7z"/>
<path fill="#c800ff" d="M3.8 20.9H15.1V26.2H3.8zM0 31.4H18.9V36.6H0zM11.3 41.9H18.9V47.1H11.3zM3.8 47.1H15.1V52.3H3.8zM11.3 52.3H15.1V57.6H11.3zM3.8 57.6H15.1V62.8H3.8zM34 73.3H37.7V78.5H34zM34 78.5H41.5V83.7H34zM34 83.7H37.7V89H34zM26.4 89H37.7V94.2H26.4zM30.2 94.2H45.3V99.4H30.2zM41.5 99.4H52.8V104.7H41.5zM45.3 104.7H52.8V109.9H45.3zM45.3 109.9H49V115.1H45.3zM215 109.9H222.6V115.1H215zM226.3 109.9H230.1V115.1H226.3zM237.7 109.9H241.4V115.1H237.7zM256.5 109.9H260.3V115.1H256.5zM264.1 109.9H267.8V115.1H264.1zM83 115.1H86.8V120.4H83zM215 115.1H245.2V120.4H215zM256.5 115.1H267.8V120.4H256.5zM83 120.4H86.8V125.6H83zM211.2 120.4H218.8V125.6H211.2zM222.6 120.4H230.1V125.6H222.6zM237.7 120.4H241.4V125.6H237.7zM245.2 120.4H271.6V125.6H245.2zM196.2 125.6H203.7V130.8H196.2zM245.2 125.6H271.6V130.8H245.2zM192.4 130.8H199.9V136.1H192.4zM211.2 130.8H218.8V136.1H211.2zM241.4 130.8H271.6V136.1H241.4zM188.6 136.1H199.9V141.3H188.6zM245.2 136.1H260.3V141.3H245.2zM188.6 141.3H199.9V146.5H188.6zM207.5 141.3H211.2V146.5H207.5zM218.8 141.3H222.6V146.5H218.8zM245.2 141.3H252.7V146.5H245.2zM188.6 146.5H215V151.8H188.6zM218.8 146.5H222.6V151.8H218.8z"/>
<path fill="#1eaa46" d="M18.9 26.2H22.6V31.4H18.9zM49 26.2H52.8V31.4H49zM56.6 26.2H60.4V31.4H56.6zM64.1 26.2H71.7V31.4H64.1zM18.9 31.4H22.6V36.6H18.9zM26.4 31.4H34V36.6H26.4zM45.3 31.4H52.8V36.6H45.3zM56.6 31.4H60.4V36.6H56.6zM67.9 31.4H86.8V36.6H67.9zM11.3 36.6H18.9V41.9H11.3zM26.4 36.6H34V41.9H26.4zM45.3 36.6H49V41.9H45.3zM56.6 36.6H60.4V41.9H56.6zM83 36.6H105.6V41.9H83zM109.4 36.6H113.2V41.9H109.4zM45.3 41.9H49V47.1H45.3zM86.8 41.9H90.5V47.1H86.8zM94.3 41.9H98.1V47.1H94.3zM101.9 41.9H105.6V47.1H101.9zM109.4 41.9H128.3V47.1H109.4zM132 41.9H139.6V47.1H132zM162.2 41.9H166V47.1H162.2zM181.1 41.9H196.2V47.1H181.1zM207.5 41.9H215V47.1H207.5zM260.3 41.9H271.6V47.1H260.3zM71.7 47.1H83V52.3H71.7zM94.3 47.1H98.1V52.3H94.3zM113.2 47.1H116.9V52.3H113.2zM124.5 47.1H147.1V52.3H124.5zM162.2 47.1H166V52.3H162.2zM184.8 47.1H226.3V52.3H184.8zM252.7 47.1H271.6V52.3H252.7zM18.9 52.3H26.4V57.6H18.9zM79.2 52.3H86.8V57.6H79.2zM90.5 52.3H94.3V57.6H90.5zM105.6 52.3H109.4V57.6H105.6zM143.3 52.3H147.1V57.6H143.3zM184.8 52.3H192.4V57.6H184.8zM196.2 52.3H203.7V57.6H196.2zM218.8 52.3H226.3V57.6H218.8zM252.7 52.3H267.8V57.6H252.7zM75.4 57.6H79.2V62.8H75.4zM86.8 57.6H98.1V62.8H86.8zM105.6 57.6H109.4V62.8H105.6zM113.2 57.6H116.9V62.8H113.2zM120.7 57.6H124.5V62.8H120.7zM139.6 57.6H150.9V62.8H139.6zM169.8 57.6H173.5V62.8H169.8zM177.3 57.6H181.1V62.8H177.3zM184.8 57.6H192.4V62.8H184.8zM199.9 57.6H203.7V62.8H199.9zM233.9 57.6H241.4V62.8H233.9zM252.7 57.6H256.5V62.8H252.7zM260.3 57.6H264.1V62.8H260.3zM60.4 62.8H64.1V68H60.4zM75.4 62.8H79.2V68H75.4zM113.2 62.8H116.9V68H113.2zM120.7 62.8H128.3V68H120.7zM135.8 62.8H162.2V68H135.8zM166 62.8H173.5V68H166zM177.3 62.8H181.1V68H177.3zM192.4 62.8H196.2V68H192.4zM199.9 62.8H203.7V68H199.9zM233.9 62.8H237.7V68H233.9zM249 62.8H252.7V68H249zM60.4 68H64.1V73.3H60.4zM105.6 68H109.4V73.3H105.6zM113.2 68H154.7V73.3H113.2zM166 68H169.8V73.3H166zM192.4 68H196.2V73.3H192.4zM199.9 68H222.6V73.3H199.9zM226.3 68H237.7V73.3H226.3zM245.2 68H271.6V73.3H245.2zM67.9 73.3H71.7V78.5H67.9zM75.4 73.3H79.2V78.5H75.4zM105.6 73.3H158.4V78.5H105.6zM173.5 73.3H177.3V78.5H173.5zM192.4 73.3H196.2V78.5H192.4zM218.8 73.3H222.6V78.5H218.8zM226.3 73.3H237.7V78.5H226.3zM252.7 73.3H267.8V78.5H252.7zM67.9 78.5H94.3V83.7H67.9zM105.6 78.5H158.4V83.7H105.6zM169.8 78.5H177.3V83.7H169.8zM203.7 78.5H207.5V83.7H203.7zM211.2 78.5H215V83.7H211.2zM218.8 78.5H226.3V83.7H218.8zM233.9 78.5H237.7V83.7H233.9zM252.7 78.5H267.8V83.7H252.7zM52.8 83.7H60.4V89H52.8zM67.9 83.7H105.6V89H67.9zM109.4 83.7H166V89H109.4zM169.8 83.7H173.5V89H169.8zM199.9 83.7H226.3V89H199.9zM252.7 83.7H271.6V89H252.7zM56.6 89H105.6V94.2H56.6zM109.4 89H173.5V94.2H109.4zM199.9 89H222.6V94.2H199.9zM256.5 89H271.6V94.2H256.5zM60.4 94.2H64.1V99.4H60.4zM67.9 94.2H166V99.4H67.9zM173.5 94.2H181.1V99.4H173.5zM215 94.2H222.6V99.4H215zM256.5 94.2H271.6V99.4H256.5zM75.4 99.4H105.6V104.7H75.4zM109.4 99.4H184.8V104.7H109.4zM218.8 99.4H222.6V104.7H218.8zM260.3 99.4H264.1V104.7H260.3zM75.4 104.7H83V109.9H75.4zM98.1 104.7H105.6V109.9H98.1zM124.5 104.7H135.8V109.9H124.5zM139.6 104.7H162.2V109.9H139.6zM181.1 104.7H184.8V109.9H181.1zM211.2 104.7H215V109.9H211.2zM230.1 104.7H241.4V109.9H230.1zM98.1 109.9H101.9V115.1H98.1zM124.5 109.9H135.8V115.1H124.5zM139.6 109.9H158.4V115.1H139.6zM207.5 109.9H215V115.1H207.5zM230.1 109.9H237.7V115.1H230.1zM139.6 115.1H147.1V120.4H139.6zM162.2 115.1H166V120.4H162.2zM211.2 115.1H215V120.4H211.2zM162.2 120.4H166V125.6H162.2zM162.2 125.6H166V130.8H162.2z"/>
<path fill="#a00000" d="M52.8 31.4H56.6V36.6H52.8zM60.4 31.4H67.9V36.6H60.4zM18.9 36.6H26.4V41.9H18.9zM34 36.6H45.3V41.9H34zM49 36.6H56.6V41.9H49zM60.4 36.6H83V41.9H60.4zM18.9 41.9H45.3V47.1H18.9zM49 41.9H86.8V47.1H49zM90.5 41.9H94.3V47.1H90.5zM98.1 41.9H101.9V47.1H98.1zM105.6 41.9H109.4V47.1H105.6zM169.8 41.9H181.1V47.1H169.8zM15.1 47.1H71.7V52.3H15.1zM83 47.1H94.3V52.3H83zM98.1 47.1H113.2V52.3H98.1zM116.9 47.1H124.5V52.3H116.9zM166 47.1H184.8V52.3H166zM233.9 47.1H237.7V52.3H233.9zM15.1 52.3H18.9V57.6H15.1zM26.4 52.3H79.2V57.6H26.4zM86.8 52.3H90.5V57.6H86.8zM94.3 52.3H105.6V57.6H94.3zM109.4 52.3H143.3V57.6H109.4zM147.1 52.3H184.8V57.6H147.1zM192.4 52.3H196.2V57.6H192.4zM207.5 52.3H218.8V57.6H207.5zM226.3 52.3H252.7V57.6H226.3zM267.8 52.3H271.6V57.6H267.8zM15.1 57.6H75.4V62.8H15.1zM79.2 57.6H86.8V62.8H79.2zM98.1 57.6H105.6V62.8H98.1zM109.4 57.6H113.2V62.8H109.4zM116.9 57.6H120.7V62.8H116.9zM124.5 57.6H139.6V62.8H124.5zM150.9 57.6H169.8V62.8H150.9zM173.5 57.6H177.3V62.8H173.5zM181.1 57.6H184.8V62.8H181.1zM192.4 57.6H199.9V62.8H192.4zM207.5 57.6H233.9V62.8H207.5zM241.4 57.6H252.7V62.8H241.4zM256.5 57.6H260.3V62.8H256.5zM264.1 57.6H271.6V62.8H264.1zM7.5 62.8H60.4V68H7.5zM64.1 62.8H75.4V68H64.1zM79.2 62.8H113.2V68H79.2zM116.9 62.8H120.7V68H116.9zM128.3 62.8H135.8V68H128.3zM162.2 62.8H166V68H162.2zM173.5 62.8H177.3V68H173.5zM181.1 62.8H192.4V68H181.1zM196.2 62.8H199.9V68H196.2zM203.7 62.8H233.9V68H203.7zM237.7 62.8H249V68H237.7zM252.7 62.8H271.6V68H252.7zM11.3 68H60.4V73.3H11.3zM64.1 68H105.6V73.3H64.1zM109.4 68H113.2V73.3H109.4zM154.7 68H166V73.3H154.7zM169.8 68H192.4V73.3H169.8zM196.2 68H199.9V73.3H196.2zM222.6 68H226.3V73.3H222.6zM237.7 68H245.2V73.3H237.7zM15.1 73.3H34V78.5H15.1zM37.7 73.3H67.9V78.5H37.7zM71.7 73.3H75.4V78.5H71.7zM79.2 73.3H105.6V78.5H79.2zM158.4 73.3H173.5V78.5H158.4zM177.3 73.3H192.4V78.5H177.3zM196.2 73.3H218.8V78.5H196.2zM222.6 73.3H226.3V78.5H222.6zM237.7 73.3H252.7V78.5H237.7zM267.8 73.3H271.6V78.5H267.8zM18.9 78.5H34V83.7H18.9zM41.5 78.5H67.9V83.7H41.5zM94.3 78.5H105.6V83.7H94.3zM158.4 78.5H169.8V83.7H158.4zM177.3 78.5H203.7V83.7H177.3zM207.5 78.5H211.2V83.7H207.5zM215 78.5H218.8V83.7H215zM226.3 78.5H233.9V83.7H226.3zM237.7 78.5H252.7V83.7H237.7zM267.8 78.5H271.6V83.7H267.8zM22.6 83.7H34V89H22.6zM37.7 83.7H52.8V89H37.7zM60.4 83.7H67.9V89H60.4zM105.6 83.7H109.4V89H105.6zM166 83.7H169.8V89H166zM173.5 83.7H199.9V89H173.5zM226.3 83.7H252.7V89H226.3zM37.7 89H56.6V94.2H37.7zM105.6 89H109.4V94.2H105.6zM173.5 89H199.9V94.2H173.5zM222.6 89H256.5V94.2H222.6zM45.3 94.2H60.4V99.4H45.3zM166 94.2H173.5V99.4H166zM181.1 94.2H215V99.4H181.1zM222.6 94.2H256.5V99.4H222.6zM52.8 99.4H64.1V104.7H52.8zM67.9 99.4H75.4V104.7H67.9zM105.6 99.4H109.4V104.7H105.6zM184.8 99.4H218.8V104.7H184.8zM222.6 99.4H260.3V104.7H222.6zM264.1 99.4H271.6V104.7H264.1zM52.8 104.7H75.4V109.9H52.8zM83 104.7H98.1V109.9H83zM105.6 104.7H124.5V109.9H105.6zM135.8 104.7H139.6V109.9H135.8zM162.2 104.7H181.1V109.9H162.2zM184.8 104.7H211.2V109.9H184.8zM215 104.7H230.1V109.9H215zM241.4 104.7H271.6V109.9H241.4zM56.6 109.9H75.4V115.1H56.6zM83 109.9H98.1V115.1H83zM109.4 109.9H124.5V115.1H109.4zM135.8 109.9H139.6V115.1H135.8zM158.4 109.9H166V115.1H158.4zM173.5 109.9H207.5V115.1H173.5zM222.6 109.9H226.3V115.1H222.6zM241.4 109.9H256.5V115.1H241.4zM260.3 109.9H264.1V115.1H260.3zM267.8 109.9H271.6V115.1H267.8zM56.6 115.1H75.4V120.4H56.6zM86.8 115.1H105.6V120.4H86.8zM109.4 115.1H139.6V120.4H109.4zM154.7 115.1H162.2V120.4H154.7zM177.3 115.1H211.2V120.4H177.3zM245.2 115.1H256.5V120.4H245.2zM267.8 115.1H271.6V120.4H267.8zM64.1 120.4H83V125.6H64.1zM94.3 120.4H147.1V125.6H94.3zM154.7 120.4H162.2V125.6H154.7zM177.3 120.4H211.2V125.6H177.3zM218.8 120.4H222.6V125.6H218.8zM230.1 120.4H237.7V125.6H230.1zM241.4 120.4H245.2V125.6H241.4zM67.9 125.6H86.8V130.8H67.9zM90.5 125.6H147.1V130.8H90.5zM154.7 125.6H162.2V130.8H154.7zM177.3 125.6H196.2V130.8H177.3zM203.7 125.6H230.1V130.8H203.7zM233.9 125.6H245.2V130.8H233.9zM71.7 130.8H90.5V136.1H71.7zM94.3 130.8H98.1V136.1H94.3zM101.9 130.8H116.9V136.1H101.9zM128.3 130.8H147.1V136.1H128.3zM166 130.8H192.4V136.1H166zM199.9 130.8H211.2V136.1H199.9zM218.8 130.8H230.1V136.1H218.8zM237.7 130.8H241.4V136.1H237.7zM83 136.1H90.5V141.3H83zM94.3 136.1H98.1V141.3H94.3zM101.9 136.1H113.2V141.3H101.9zM128.3 136.1H139.6V141.3H128.3zM181.1 136.1H184.8V141.3H181.1zM199.9 136.1H207.5V141.3H199.9zM218.8 136.1H245.2V141.3H218.8zM260.3 136.1H271.6V141.3H260.3zM83 141.3H90.5V146.5H83zM94.3 141.3H98.1V146.5H94.3zM101.9 141.3H113.2V146.5H101.9zM181.1 141.3H184.8V146.5H181.1zM199.9 141.3H207.5V146.5H199.9zM222.6 141.3H226.3V146.5H222.6zM241.4 141.3H245.2V146.5H241.4zM181.1 146.5H184.8V151.8H181.1zM199.9 151.8H215V157H199.9zM199.9 157H215V162.2H199.9zM199.9 162.2H211.2V167.5H199.9zM199.9 167.5H211.2V172.7H199.9zM199.9 172.7H211.2V177.9H199.9zM199.9 177.9H211.2V183.2H199.9zM199.9 183.2H215V188.4H199.9z"/>
<path fill="#f5a014" d="M0 36.6H11.3V41.9H0zM0 41.9H11.3V47.1H0zM0 52.3H11.3V57.6H0zM166 125.6H177.3V130.8H166zM124.5 130.8H128.3V136.1H124.5zM79.2 136.1H83V141.3H79.2zM124.5 136.1H128.3V141.3H124.5zM169.8 136.1H181.1V141.3H169.8zM184.8 136.1H188.6V141.3H184.8zM79.2 141.3H83V146.5H79.2zM124.5 141.3H128.3V146.5H124.5zM173.5 141.3H181.1V146.5H173.5zM184.8 141.3H188.6V146.5H184.8zM79.2 146.5H83V151.8H79.2zM177.3 146.5H181.1V151.8H177.3zM184.8 146.5H188.6V151.8H184.8z"/>
<path fill="#1e788c" d="M64.1 94.2H67.9V99.4H64.1zM30.2 99.4H41.5V104.7H30.2zM64.1 99.4H67.9V104.7H64.1zM30.2 104.7H45.3V109.9H30.2zM34 109.9H45.3V115.1H34zM49 109.9H56.6V115.1H49zM75.4 109.9H83V115.1H75.4zM101.9 109.9H109.4V115.1H101.9zM166 109.9H173.5V115.1H166zM37.7 115.1H56.6V120.4H37.7zM75.4 115.1H83V120.4H75.4zM105.6 115.1H109.4V120.4H105.6zM147.1 115.1H154.7V120.4H147.1zM166 115.1H177.3V120.4H166zM41.5 120.4H64.1V125.6H41.5zM86.8 120.4H94.3V125.6H86.8zM147.1 120.4H154.7V125.6H147.1zM166 120.4H177.3V125.6H166zM49 125.6H67.9V130.8H49zM86.8 125.6H90.5V130.8H86.8zM147.1 125.6H154.7V130.8H147.1zM230.1 125.6H233.9V130.8H230.1zM56.6 130.8H71.7V136.1H56.6zM90.5 130.8H94.3V136.1H90.5zM98.1 130.8H101.9V136.1H98.1zM116.9 130.8H124.5V136.1H116.9zM230.1 130.8H237.7V136.1H230.1zM60.4 136.1H79.2V141.3H60.4zM90.5 136.1H94.3V141.3H90.5zM98.1 136.1H101.9V141.3H98.1zM113.2 136.1H124.5V141.3H113.2zM207.5 136.1H218.8V141.3H207.5zM67.9 141.3H79.2V146.5H67.9zM90.5 141.3H94.3V146.5H90.5zM98.1 141.3H101.9V146.5H98.1zM113.2 141.3H124.5V146.5H113.2zM211.2 141.3H218.8V146.5H211.2zM226.3 141.3H241.4V146.5H226.3zM252.7 141.3H271.6V146.5H252.7zM71.7 146.5H79.2V151.8H71.7zM116.9 146.5H120.7V151.8H116.9zM215 146.5H218.8V151.8H215zM222.6 146.5H271.6V151.8H222.6zM75.4 151.8H79.2V157H75.4zM215 151.8H271.6V157H215zM215 157H271.6V162.2H215zM211.2 162.2H271.6V167.5H211.2zM211.2 167.5H271.6V172.7H211.2zM211.2 172.7H271.6V177.9H211.2zM211.2 177.9H271.6V183.2H211.2zM215 183.2H271.6V188.4H215z"/>
<path fill="#ebf51e" d="M23.1 5.9h2.8v3.9h-2.8zM26.9 11.1h2.8v3.9h-2.8zM57.1 11.1h2.8v3.9h-2.8zM128.7 11.1h2.8v3.9h-2.8zM136.3 11.1h2.8v3.9h-2.8zM196.6 11.1h2.8v3.9h-2.8zM102.3 21.6h2.8v3.9h-2.8zM170.2 21.6h2.8v3.9h-2.8zM196.6 21.6h2.8v3.9h-2.8zM42 26.8h2.8v3.9h-2.8zM113.7 26.8h2.8v3.9h-2.8zM234.4 32.1h2.8v3.9h-2.8zM241.9 32.1h2.8v3.9h-2.8z"/>
<path fill="#413ceb" d="M19.3 11.1h2.8v3.9h-2.8zM38.2 16.4h2.8v3.9h-2.8zM155.1 26.8h2.8v3.9h-2.8zM98.6 37.3h2.8v3.9h-2.8zM260.8 42.5h2.8v3.9h-2.8zM174 47.8h2.8v3.9h-2.8zM211.7 47.8h2.8v3.9h-2.8z"/>
<path fill="#c800ff" d="M23.1 11.1h2.8v3.9h-2.8zM19.3 21.6h2.8v3.9h-2.8zM102.3 26.8h2.8v3.9h-2.8zM241.9 58.2h2.8v3.9h-2.8zM53.3 94.9h2.8v3.9h-2.8zM241.9 105.3h2.8v3.9h-2.8zM83.5 110.6h2.8v3.9h-2.8zM91 110.6h2.8v3.9h-2.8zM87.2 115.8h2.8v3.9h-2.8zM79.7 121h2.8v3.9h-2.8zM106.1 121h2.8v3.9h-2.8zM121.2 121h2.8v3.9h-2.8zM181.6 121h2.8v3.9h-2.8zM200.4 121h2.8v3.9h-2.8zM83.5 126.3h2.8v3.9h-2.8zM113.7 126.3h2.8v3.9h-2.8zM204.2 126.3h2.8v3.9h-2.8z"/>
<path fill="#96dc1e" d="M192.9 11.1h2.8v3.9h-2.8zM155.1 16.4h2.8v3.9h-2.8zM185.3 79.2h2.8v3.9h-2.8zM132.5 115.8h2.8v3.9h-2.8z"/>
<path fill="#1eaa46" d="M109.9 21.6h2.8v3.9h-2.8zM98.6 32.1h2.8v3.9h-2.8zM181.6 32.1h2.8v3.9h-2.8zM34.4 37.3h2.8v3.9h-2.8zM23.1 42.5h2.8v3.9h-2.8zM30.7 42.5h2.8v3.9h-2.8zM151.4 47.8h2.8v3.9h-2.8zM155.1 53h2.8v3.9h-2.8zM174 53h2.8v3.9h-2.8zM181.6 53h2.8v3.9h-2.8zM211.7 53h2.8v3.9h-2.8zM15.6 58.2h2.8v3.9h-2.8zM132.5 58.2h2.8v3.9h-2.8zM26.9 63.5h2.8v3.9h-2.8zM53.3 63.5h2.8v3.9h-2.8zM102.3 63.5h2.8v3.9h-2.8zM264.5 63.5h2.8v3.9h-2.8zM49.5 68.7h2.8v3.9h-2.8zM79.7 68.7h2.8v3.9h-2.8zM38.2 73.9h2.8v3.9h-2.8zM53.3 73.9h2.8v3.9h-2.8zM98.6 73.9h2.8v3.9h-2.8zM241.9 73.9h2.8v3.9h-2.8zM181.6 84.4h2.8v3.9h-2.8zM45.8 89.6h2.8v3.9h-2.8zM249.5 89.6h2.8v3.9h-2.8zM42 94.9h2.8v3.9h-2.8zM241.9 94.9h2.8v3.9h-2.8zM230.6 115.8h2.8v3.9h-2.8zM241.9 115.8h2.8v3.9h-2.8zM200.4 126.3h2.8v3.9h-2.8zM204.2 136.7h2.8v3.9h-2.8zM211.7 183.8h2.8v3.9h-2.8z"/>
<path fill="#a00000" d="M45.8 32.1h2.8v3.9h-2.8zM30.7 37.3h2.8v3.9h-2.8zM226.8 42.5h2.8v3.9h-2.8zM189.1 47.8h2.8v3.9h-2.8zM264.5 47.8h2.8v3.9h-2.8zM185.3 53h2.8v3.9h-2.8zM200.4 53h2.8v3.9h-2.8zM143.8 68.7h2.8v3.9h-2.8zM264.5 68.7h2.8v3.9h-2.8zM151.4 73.9h2.8v3.9h-2.8zM125 79.2h2.8v3.9h-2.8zM94.8 89.6h2.8v3.9h-2.8zM117.4 89.6h2.8v3.9h-2.8zM143.8 89.6h2.8v3.9h-2.8zM215.5 89.6h2.8v3.9h-2.8zM260.8 89.6h2.8v3.9h-2.8zM75.9 94.9h2.8v3.9h-2.8zM79.7 100.1h2.8v3.9h-2.8zM49.5 110.6h2.8v3.9h-2.8zM151.4 110.6h2.8v3.9h-2.8zM230.6 110.6h2.8v3.9h-2.8zM79.7 115.8h2.8v3.9h-2.8zM215.5 115.8h2.8v3.9h-2.8zM83.5 121h2.8v3.9h-2.8zM211.7 142h2.8v3.9h-2.8zM249.5 142h2.8v3.9h-2.8zM245.7 147.2h2.8v3.9h-2.8zM215.5 183.8h2.8v3.9h-2.8z"/>
<path fill="#1e788c" d="M11.8 53h2.8v3.9h-2.8zM26.9 73.9h2.8v3.9h-2.8zM34.4 84.4h2.8v3.9h-2.8zM57.1 105.3h2.8v3.9h-2.8zM83.5 115.8h2.8v3.9h-2.8zM113.7 115.8h2.8v3.9h-2.8zM125 115.8h2.8v3.9h-2.8zM68.4 121h2.8v3.9h-2.8zM98.6 121h2.8v3.9h-2.8zM257 126.3h2.8v3.9h-2.8zM79.7 131.5h2.8v3.9h-2.8zM204.2 131.5h2.8v3.9h-2.8zM219.3 131.5h2.8v3.9h-2.8z"/>
<path fill="#f5a014" d="M166.5 115.8h2.8v3.9h-2.8z"/>
<path fill="#e11e28" d="M268.3 168.1h2.8v3.9h-2.8z"/>
<path fill="#1e788c" d="M173.8 41.4H182V45.2H173.8zM171.1 45.2H182V49H171.1zM184.7 45.2H187.4V49H184.7zM233.6 45.2H236.3V49H233.6zM168.4 49H179.3V52.8H168.4zM182 49H192.8V52.8H182zM195.6 49H198.3V52.8H195.6zM211.8 49H220V52.8H211.8zM222.7 49H225.4V52.8H222.7zM230.9 49H239V52.8H230.9zM165.7 52.8H179.3V56.5H165.7zM182 52.8H192.8V56.5H182zM195.6 52.8H211.8V56.5H195.6zM220 52.8H228.1V56.5H220zM233.6 52.8H241.7V56.5H233.6zM163 56.5H190.1V60.3H163zM192.8 56.5H203.7V60.3H192.8zM209.1 56.5H217.3V60.3H209.1zM220 56.5H222.7V60.3H220zM225.4 56.5H230.9V60.3H225.4zM233.6 56.5H236.3V60.3H233.6zM239 56.5H241.7V60.3H239zM163 60.3H168.4V64.1H163zM173.8 60.3H176.5V64.1H173.8zM179.3 60.3H184.7V64.1H179.3zM187.4 60.3H192.8V64.1H187.4zM195.6 60.3H211.8V64.1H195.6zM214.6 60.3H217.3V64.1H214.6zM220 60.3H222.7V64.1H220zM228.1 60.3H236.3V64.1H228.1zM241.7 60.3H244.4V64.1H241.7zM163 64.1H165.7V67.8H163zM168.4 64.1H184.7V67.8H168.4zM187.4 64.1H198.3V67.8H187.4zM203.7 64.1H217.3V67.8H203.7zM222.7 64.1H244.4V67.8H222.7zM163 67.8H176.5V71.6H163zM179.3 67.8H187.4V71.6H179.3zM192.8 67.8H195.6V71.6H192.8zM198.3 67.8H214.6V71.6H198.3zM217.3 67.8H241.7V71.6H217.3zM163 71.6H168.4V75.4H163zM171.1 71.6H179.3V75.4H171.1zM184.7 71.6H192.8V75.4H184.7zM195.6 71.6H203.7V75.4H195.6zM209.1 71.6H211.8V75.4H209.1zM214.6 71.6H217.3V75.4H214.6zM220 71.6H222.7V75.4H220zM225.4 71.6H239V75.4H225.4zM163 75.4H187.4V79.1H163zM190.1 75.4H195.6V79.1H190.1zM198.3 75.4H211.8V79.1H198.3zM214.6 75.4H217.3V79.1H214.6zM228.1 75.4H239V79.1H228.1zM165.7 79.1H168.4V82.9H165.7zM171.1 79.1H176.5V82.9H171.1zM182 79.1H192.8V82.9H182zM195.6 79.1H209.1V82.9H195.6zM211.8 79.1H236.3V82.9H211.8zM163 82.9H165.7V86.7H163zM168.4 82.9H173.8V86.7H168.4zM176.5 82.9H184.7V86.7H176.5zM187.4 82.9H211.8V86.7H187.4zM214.6 82.9H217.3V86.7H214.6zM220 82.9H230.9V86.7H220zM160.2 86.7H165.7V90.4H160.2zM173.8 86.7H201V90.4H173.8zM203.7 86.7H209.1V90.4H203.7zM214.6 86.7H233.6V90.4H214.6zM160.2 90.4H176.5V94.2H160.2zM179.3 90.4H201V94.2H179.3zM206.4 90.4H214.6V94.2H206.4zM217.3 90.4H222.7V94.2H217.3zM225.4 90.4H230.9V94.2H225.4zM157.5 94.2H171.1V98H157.5zM173.8 94.2H176.5V98H173.8zM179.3 94.2H195.6V98H179.3zM198.3 94.2H220V98H198.3zM228.1 94.2H230.9V98H228.1zM157.5 98H165.7V101.7H157.5zM168.4 98H192.8V101.7H168.4zM195.6 98H211.8V101.7H195.6zM214.6 98H222.7V101.7H214.6zM225.4 98H228.1V101.7H225.4zM160.2 101.7H163V105.5H160.2zM168.4 101.7H187.4V105.5H168.4zM190.1 101.7H195.6V105.5H190.1zM198.3 101.7H203.7V105.5H198.3zM206.4 101.7H211.8V105.5H206.4zM214.6 101.7H228.1V105.5H214.6zM165.7 105.5H171.1V109.3H165.7zM173.8 105.5H182V109.3H173.8zM184.7 105.5H198.3V109.3H184.7zM201 105.5H217.3V109.3H201zM220 105.5H225.4V109.3H220zM157.5 109.3H171.1V113H157.5zM173.8 109.3H179.3V113H173.8zM182 109.3H187.4V113H182zM190.1 109.3H214.6V113H190.1zM217.3 109.3H222.7V113H217.3zM157.5 113H165.7V116.8H157.5zM171.1 113H187.4V116.8H171.1zM190.1 113H198.3V116.8H190.1zM201 113H211.8V116.8H201zM217.3 113H222.7V116.8H217.3zM157.5 116.8H163V120.6H157.5zM171.1 116.8H173.8V120.6H171.1zM176.5 116.8H201V120.6H176.5zM203.7 116.8H209.1V120.6H203.7zM217.3 116.8H220V120.6H217.3zM168.4 120.6H179.3V124.3H168.4zM182 120.6H201V124.3H182zM171.1 124.3H182V128.1H171.1zM184.7 124.3H190.1V128.1H184.7zM195.6 124.3H198.3V128.1H195.6zM201 124.3H203.7V128.1H201zM173.8 128.1H179.3V131.9H173.8zM187.4 128.1H203.7V131.9H187.4zM173.8 131.9H176.5V135.6H173.8zM187.4 131.9H195.6V135.6H187.4zM184.7 135.6H187.4V139.4H184.7zM192.8 135.6H203.7V139.4H192.8zM176.5 139.4H184.7V143.2H176.5zM187.4 139.4H192.8V143.2H187.4zM195.6 139.4H201V143.2H195.6z"/>
</g></g>
<polygon fill="#fff" points="0,0 14.9,0 13.2,6.7 11.5,13.4 10.4,21.2 9.3,25.7 3.7,33.5 7.1,38 9.3,44.7 11,49.1 9.8,55.8 11,62.5 12.1,63.5 17.7,68.6 23.2,75.3 27.7,82 33.3,88.7 36.6,94.3 36.6,101 38.9,107.7 44.5,112.1 50,116.6 54.5,121.1 58.2,126.5 65.6,135 73,141.6 79.6,145.3 81.8,140.2 89.2,136.5 99.6,133.5 109.9,134.3 115.8,137.2 120.3,138.7 127.6,134.3 135,130.6 140.3,128.4 144.7,124.5 150.3,121.6 158.1,120.5 164.8,121.1 169.3,123.3 171.5,126 174.3,132.7 176,140.5 181.6,145 188.3,143.3 196.1,142.7 201.7,141.6 203.3,145 206,148.3 208.3,155 209.4,162.8 208.3,170.7 206,177.4 206,188.4 0,188.4"/>
<rect x="11.8" y="70.3" width="3.2" height="4.4" fill="#1e788c"/>
<g fill="none" stroke="#000" stroke-width="2.1" stroke-linejoin="round" stroke-linecap="round">
<polyline points="14.9,0 13.2,6.7 11.5,13.4 10.4,21.2 9.3,25.7 3.7,33.5 7.1,38 9.3,44.7 11,49.1 9.8,55.8 11,62.5 12.1,63.5 17.7,68.6 23.2,75.3 27.7,82 33.3,88.7 36.6,94.3 36.6,101 38.9,107.7 44.5,112.1 50,116.6 54.5,121.1 58.2,126.5 65.6,135 73,141.6 79.6,145.3 81.8,140.2 89.2,136.5 99.6,133.5 109.9,134.3 115.8,137.2 120.3,138.7 127.6,134.3 135,130.6 140.3,128.4 144.7,124.5 150.3,121.6 158.1,120.5 164.8,121.1 169.3,123.3 171.5,126 174.3,132.7 176,140.5 181.6,145 188.3,143.3 196.1,142.7 201.7,141.6 203.3,145 206,148.3 208.3,155 209.4,162.8 208.3,170.7 206,177.4 206,188.4"/>
<polyline points="11.5,14.5 16.5,15.1 22.1,14 27.2,14 31.1,18.4 34.4,20.1 38.9,25.7 42.8,30.1 44.5,33.5"/>
<polyline points="44.5,33.5 44.5,27.9 46.7,25.1 51.2,26.2 55.6,27.4 62.3,25.3 67.8,24.7 94,25.2 93.3,11.2 92.4,0"/>
<polyline points="44.5,33.5 43.9,38 44.5,44.7 46.7,49.1 50,53.6"/>
<polyline points="10.2,58.2 20.5,56.3 31.3,55.8 39.2,58.2 46.1,57.2 49.6,53.6"/>
<polyline points="31.3,55.8 33.3,59.7 31.3,64.6 25.4,68.6 20.5,72.5"/>
<polyline points="50,53.6 52.3,60.3 57.9,62.5 64.8,61.5 71.1,63 72.3,68.6 72.8,74.2 73.9,80.9 75.6,87.6 76.2,95.4 75.1,101 76.2,106.5 74.5,109.9 70,113.2 71.1,118.8 74.4,122.4 78.1,126.9 79.6,135.7 79.6,145.3"/>
<polyline points="36.6,93.1 38.9,88.7 41.1,85.3 45.6,83.7 51.2,84.2 53.4,87.6 55.1,92 55.6,97.6 54.5,102.1 55.6,105.4 52.3,112.1 50,116"/>
<polyline points="55.6,101 60.1,99.8 63.4,104.3 65.7,109.9 67.8,113.2 70,113.2"/>
<polyline points="73.4,77.5 76.7,80.9 82.3,81.4 87.9,77.5 91.2,79.7 95.7,82.5 100.2,85.3 104.6,84.8 109.1,83.1 114.1,82.5"/>
<polyline points="135.8,31.8 130.3,31.5 127,32.4 122.5,35.7 119.2,38.5 115.8,41.3 112.5,44.7 106.9,46.9 103.5,51.4 101.3,58.1 97.9,62.9 95.2,69.7 94,75.3 95.7,82.5"/>
<polyline points="114.1,82.5 115.3,89.8 116.9,96.5 116.9,102.1 114.1,107.7 112.5,113.2 112.5,125.9 115.1,130 115.8,137.2"/>
<polyline points="114.1,82.5 114.1,74.2 116.9,73 125.9,72.8 132.6,73 135.8,72.5 139.1,74.2 140.3,77.5"/>
<polyline points="138,75.3 138.6,85.3 139.1,96.5 139.7,107.7 140.3,116.6 141.4,122.2 142.5,125.9"/>
<polyline points="155.3,63.5 150.3,66.3 145.8,69.1 142.5,71.9 141.4,75.3 140.3,77.5"/>
<polyline points="142.5,72.5 141.9,77.5 144.7,83.1 147,90.9 147.5,102.1 147.5,113.2 148.1,121.6"/>
<polyline points="162.6,66.3 164.3,74.2 163.7,82 162,87.6 158.7,93.1 156.5,96.5 156.5,107.7 157,120.8"/>
<polyline points="135.8,31.8 138,36.8 140.3,43.5 143.6,49.1 147,53.6 151.4,56.9 153.7,60.9 155.3,63.5 158.8,62 162.6,66.3"/>
<polyline points="162.6,66.3 163.7,62.9 164.3,55.8 167.1,48 169.3,44.7 174.9,42.4 180.5,43 183.8,44.7 188.3,49.1 193.9,48 198.3,50.2 203.8,54 209.4,52.5 212.7,49.1 218.3,48 223.9,48.6 227.2,50.8 230.6,51.4 233.9,46.9 236.2,42.4"/>
<polyline points="167.6,0 168.2,10 166.5,15.6 165.4,21.2 162,25.1 158.1,26.8 150.3,27.4 144.7,28.5 141.4,31.3 135.8,31.8"/>
<polyline points="253.5,0 252.9,10 248.5,17.9 244,24.6 240.6,30.1 238.4,35.7 236.2,41.3"/>
<polyline points="236.2,41.3 237.3,46.9 240.6,52.5 242.9,58.1 246.2,63 245.1,67.5 240.6,71.9 237.3,78.6 236.2,85.3 231.7,90.9 229.5,97.6 226.7,104.3 223.9,111 220.5,121.1 217.8,117.7 215,114.4 210.5,117.7 207.1,122.2 204.9,125.9 203.3,132 202.8,141"/>
<polyline points="242.9,58.1 248.5,62.9 249.6,69.7 250.7,77.5 252.9,83.1 241.8,84.2 240.6,87 245.1,93.1 249.6,99.8 251.8,106.5 252.9,109.9 249.6,115.5 247.3,121.1 245.1,126 245.7,132.7 247.9,140.5 250.7,148.3 254,155 257.4,159.5 258,170.7"/>
<polyline points="252.9,109.9 257.4,107.7 261.9,106.5 267.4,105.2 271.6,104.5"/>
<polyline points="258,170.7 259.6,159.5 260.2,152.8 263,150.6 267.4,150 271.6,148.9"/>
<polyline points="209.4,164.5 220.5,164.5 226.1,163.4 233.9,164.5 240.6,165.1 248.5,166.8 254,169 258,170.7"/>
<polyline points="220.5,164.5 221.1,177.4 208.3,177.9"/>
<polyline points="236.2,165 235.1,172.9 238.4,174.6 242.9,176.2 244.6,181.8 241.8,188.4"/>
<polygon fill="#a5d632" stroke-width="2" points="236,40.2 240.4,39.4 243.2,45.6 251,47.7 247.8,52.6 245.3,51.5 242.4,49.9 240.4,54.6 238.5,49.7 236.1,43.5"/>
<polyline stroke-width="1.8" points="238.1,41.5 240.8,47.2 244.6,49.6 247.3,49.8"/>
<polyline stroke-width="1.6" points="239.1,46.5 240.1,51.5"/>
<polyline stroke-width="3.6" points="16.3,47.6 20.8,46.6 25.8,46.4 31.8,48.3"/>
</g>
<ellipse cx="201.4" cy="152" rx="1.7" ry="3.8" fill="#000"/>
<path fill="none" stroke="#222" stroke-width="1.1" d="M0 188.4V0H271.6V188.4"/>
<path fill="none" stroke="#333" stroke-width="1" d="M22.6 0v-9.6M60.4 0v-9.6M98.1 0v-9.6M135.8 0v-9.6M173.5 0v-9.6M211.2 0v-9.6M249 0v-9.6M0 31.2h-6.8M271.6 31.2h6.8M0 84h-6.8M271.6 84h6.8M0 136.8h-6.8M271.6 136.8h6.8"/>
<text y="181.2" font-size="20.4"><tspan x="1.5" textLength="19.1" lengthAdjust="spacingAndGlyphs">(f)</tspan> <tspan x="31" textLength="52.3" lengthAdjust="spacingAndGlyphs">NGR75</tspan></text>
</g>
<g transform="translate(329 405)">
<g filter="url(#soft)"><rect width="271.6" height="188.4" fill="#fff"/><g shape-rendering="crispEdges">
<path fill="#96dc1e" d="M7.5 0H113.2V5.2H7.5zM116.9 0H135.8V5.2H116.9zM143.3 0H169.8V5.2H143.3zM173.5 0H181.1V5.2H173.5zM203.7 0H271.6V5.2H203.7zM3.8 5.2H101.9V10.5H3.8zM120.7 5.2H143.3V10.5H120.7zM196.2 5.2H271.6V10.5H196.2zM3.8 10.5H15.1V15.7H3.8zM30.2 10.5H41.5V15.7H30.2zM49 10.5H60.4V15.7H49zM124.5 10.5H143.3V15.7H124.5zM147.1 10.5H150.9V15.7H147.1zM196.2 10.5H271.6V15.7H196.2zM34 15.7H45.3V20.9H34zM128.3 15.7H139.6V20.9H128.3zM147.1 15.7H150.9V20.9H147.1zM196.2 15.7H271.6V20.9H196.2zM37.7 20.9H45.3V26.2H37.7zM132 20.9H135.8V26.2H132zM211.2 20.9H271.6V26.2H211.2zM37.7 26.2H41.5V31.4H37.7zM128.3 26.2H143.3V31.4H128.3zM211.2 26.2H260.3V31.4H211.2zM264.1 26.2H271.6V31.4H264.1zM218.8 31.4H222.6V36.6H218.8zM230.1 31.4H245.2V36.6H230.1zM256.5 31.4H260.3V36.6H256.5z"/>
<path fill="#ebf51e" d="M113.2 0H116.9V5.2H113.2zM135.8 0H143.3V5.2H135.8zM169.8 0H173.5V5.2H169.8zM181.1 0H203.7V5.2H181.1zM101.9 5.2H120.7V10.5H101.9zM143.3 5.2H181.1V10.5H143.3zM184.8 5.2H196.2V10.5H184.8zM15.1 10.5H30.2V15.7H15.1zM41.5 10.5H49V15.7H41.5zM79.2 10.5H86.8V15.7H79.2zM94.3 10.5H124.5V15.7H94.3zM143.3 10.5H147.1V15.7H143.3zM150.9 10.5H166V15.7H150.9zM173.5 10.5H181.1V15.7H173.5zM184.8 10.5H196.2V15.7H184.8zM3.8 15.7H26.4V20.9H3.8zM30.2 15.7H34V20.9H30.2zM45.3 15.7H56.6V20.9H45.3zM83 15.7H94.3V20.9H83zM105.6 15.7H109.4V20.9H105.6zM120.7 15.7H128.3V20.9H120.7zM139.6 15.7H147.1V20.9H139.6zM150.9 15.7H166V20.9H150.9zM173.5 15.7H196.2V20.9H173.5zM15.1 20.9H22.6V26.2H15.1zM30.2 20.9H37.7V26.2H30.2zM83 20.9H86.8V26.2H83zM124.5 20.9H132V26.2H124.5zM135.8 20.9H162.2V26.2H135.8zM203.7 20.9H211.2V26.2H203.7zM0 26.2H11.3V31.4H0zM124.5 26.2H128.3V31.4H124.5zM143.3 26.2H166V31.4H143.3zM203.7 26.2H211.2V31.4H203.7zM260.3 26.2H264.1V31.4H260.3zM139.6 31.4H158.4V36.6H139.6zM196.2 31.4H199.9V36.6H196.2zM203.7 31.4H215V36.6H203.7zM222.6 31.4H230.1V36.6H222.6zM249 31.4H256.5V36.6H249zM260.3 31.4H267.8V36.6H260.3zM196.2 36.6H199.9V41.9H196.2zM226.3 36.6H230.1V41.9H226.3zM256.5 36.6H264.1V41.9H256.5zM256.5 41.9H260.3V47.1H256.5z"/>
<path fill="#413ceb" d="M181.1 5.2H184.8V10.5H181.1zM60.4 10.5H79.2V15.7H60.4zM86.8 10.5H94.3V15.7H86.8zM166 10.5H173.5V15.7H166zM181.1 10.5H184.8V15.7H181.1zM26.4 15.7H30.2V20.9H26.4zM56.6 15.7H83V20.9H56.6zM94.3 15.7H105.6V20.9H94.3zM109.4 15.7H120.7V20.9H109.4zM166 15.7H173.5V20.9H166zM22.6 20.9H30.2V26.2H22.6zM45.3 20.9H83V26.2H45.3zM86.8 20.9H124.5V26.2H86.8zM162.2 20.9H203.7V26.2H162.2zM11.3 26.2H18.9V31.4H11.3zM22.6 26.2H37.7V31.4H22.6zM41.5 26.2H49V31.4H41.5zM52.8 26.2H56.6V31.4H52.8zM60.4 26.2H64.1V31.4H60.4zM71.7 26.2H124.5V31.4H71.7zM166 26.2H203.7V31.4H166zM22.6 31.4H26.4V36.6H22.6zM34 31.4H45.3V36.6H34zM86.8 31.4H139.6V36.6H86.8zM158.4 31.4H196.2V36.6H158.4zM199.9 31.4H203.7V36.6H199.9zM215 31.4H218.8V36.6H215zM245.2 31.4H249V36.6H245.2zM267.8 31.4H271.6V36.6H267.8zM105.6 36.6H109.4V41.9H105.6zM113.2 36.6H196.2V41.9H113.2zM199.9 36.6H226.3V41.9H199.9zM230.1 36.6H256.5V41.9H230.1zM264.1 36.6H271.6V41.9H264.1zM128.3 41.9H132V47.1H128.3zM139.6 41.9H162.2V47.1H139.6zM166 41.9H169.8V47.1H166zM196.2 41.9H207.5V47.1H196.2zM215 41.9H256.5V47.1H215zM147.1 47.1H162.2V52.3H147.1zM226.3 47.1H233.9V52.3H226.3zM237.7 47.1H252.7V52.3H237.7zM203.7 52.3H207.5V57.6H203.7zM203.7 57.6H207.5V62.8H203.7z"/>
<path fill="#c800ff" d="M3.8 20.9H15.1V26.2H3.8zM0 31.4H18.9V36.6H0zM11.3 41.9H18.9V47.1H11.3zM3.8 47.1H15.1V52.3H3.8zM11.3 52.3H15.1V57.6H11.3zM3.8 57.6H15.1V62.8H3.8zM34 73.3H37.7V78.5H34zM34 78.5H41.5V83.7H34zM34 83.7H37.7V89H34zM26.4 89H37.7V94.2H26.4zM30.2 94.2H45.3V99.4H30.2zM41.5 99.4H52.8V104.7H41.5zM45.3 104.7H52.8V109.9H45.3zM45.3 109.9H49V115.1H45.3zM215 109.9H222.6V115.1H215zM226.3 109.9H230.1V115.1H226.3zM237.7 109.9H241.4V115.1H237.7zM256.5 109.9H260.3V115.1H256.5zM264.1 109.9H267.8V115.1H264.1zM83 115.1H86.8V120.4H83zM215 115.1H245.2V120.4H215zM256.5 115.1H267.8V120.4H256.5zM83 120.4H86.8V125.6H83zM211.2 120.4H218.8V125.6H211.2zM222.6 120.4H230.1V125.6H222.6zM237.7 120.4H241.4V125.6H237.7zM245.2 120.4H271.6V125.6H245.2zM196.2 125.6H203.7V130.8H196.2zM245.2 125.6H271.6V130.8H245.2zM192.4 130.8H199.9V136.1H192.4zM211.2 130.8H218.8V136.1H211.2zM241.4 130.8H271.6V136.1H241.4zM188.6 136.1H199.9V141.3H188.6zM245.2 136.1H260.3V141.3H245.2zM188.6 141.3H199.9V146.5H188.6zM207.5 141.3H211.2V146.5H207.5zM218.8 141.3H222.6V146.5H218.8zM245.2 141.3H252.7V146.5H245.2zM188.6 146.5H215V151.8H188.6zM218.8 146.5H222.6V151.8H218.8z"/>
<path fill="#1eaa46" d="M18.9 26.2H22.6V31.4H18.9zM49 26.2H52.8V31.4H49zM56.6 26.2H60.4V31.4H56.6zM64.1 26.2H71.7V31.4H64.1zM18.9 31.4H22.6V36.6H18.9zM26.4 31.4H34V36.6H26.4zM45.3 31.4H52.8V36.6H45.3zM56.6 31.4H60.4V36.6H56.6zM67.9 31.4H86.8V36.6H67.9zM11.3 36.6H18.9V41.9H11.3zM26.4 36.6H34V41.9H26.4zM45.3 36.6H49V41.9H45.3zM56.6 36.6H60.4V41.9H56.6zM83 36.6H105.6V41.9H83zM109.4 36.6H113.2V41.9H109.4zM45.3 41.9H49V47.1H45.3zM86.8 41.9H90.5V47.1H86.8zM94.3 41.9H98.1V47.1H94.3zM101.9 41.9H105.6V47.1H101.9zM109.4 41.9H128.3V47.1H109.4zM132 41.9H139.6V47.1H132zM162.2 41.9H166V47.1H162.2zM181.1 41.9H196.2V47.1H181.1zM207.5 41.9H215V47.1H207.5zM260.3 41.9H271.6V47.1H260.3zM71.7 47.1H83V52.3H71.7zM94.3 47.1H98.1V52.3H94.3zM113.2 47.1H116.9V52.3H113.2zM124.5 47.1H147.1V52.3H124.5zM162.2 47.1H166V52.3H162.2zM184.8 47.1H226.3V52.3H184.8zM252.7 47.1H271.6V52.3H252.7zM18.9 52.3H26.4V57.6H18.9zM79.2 52.3H86.8V57.6H79.2zM90.5 52.3H94.3V57.6H90.5zM105.6 52.3H109.4V57.6H105.6zM143.3 52.3H147.1V57.6H143.3zM184.8 52.3H192.4V57.6H184.8zM196.2 52.3H203.7V57.6H196.2zM218.8 52.3H226.3V57.6H218.8zM252.7 52.3H267.8V57.6H252.7zM75.4 57.6H79.2V62.8H75.4zM86.8 57.6H98.1V62.8H86.8zM105.6 57.6H109.4V62.8H105.6zM113.2 57.6H116.9V62.8H113.2zM120.7 57.6H124.5V62.8H120.7zM139.6 57.6H150.9V62.8H139.6zM169.8 57.6H173.5V62.8H169.8zM177.3 57.6H181.1V62.8H177.3zM184.8 57.6H192.4V62.8H184.8zM199.9 57.6H203.7V62.8H199.9zM233.9 57.6H241.4V62.8H233.9zM252.7 57.6H256.5V62.8H252.7zM260.3 57.6H264.1V62.8H260.3zM60.4 62.8H64.1V68H60.4zM75.4 62.8H79.2V68H75.4zM113.2 62.8H116.9V68H113.2zM120.7 62.8H128.3V68H120.7zM135.8 62.8H162.2V68H135.8zM166 62.8H173.5V68H166zM177.3 62.8H181.1V68H177.3zM192.4 62.8H196.2V68H192.4zM199.9 62.8H203.7V68H199.9zM233.9 62.8H237.7V68H233.9zM249 62.8H252.7V68H249zM60.4 68H64.1V73.3H60.4zM105.6 68H109.4V73.3H105.6zM113.2 68H154.7V73.3H113.2zM166 68H169.8V73.3H166zM192.4 68H196.2V73.3H192.4zM199.9 68H222.6V73.3H199.9zM226.3 68H237.7V73.3H226.3zM245.2 68H271.6V73.3H245.2zM67.9 73.3H71.7V78.5H67.9zM75.4 73.3H79.2V78.5H75.4zM105.6 73.3H158.4V78.5H105.6zM173.5 73.3H177.3V78.5H173.5zM192.4 73.3H196.2V78.5H192.4zM218.8 73.3H222.6V78.5H218.8zM226.3 73.3H237.7V78.5H226.3zM252.7 73.3H267.8V78.5H252.7zM67.9 78.5H94.3V83.7H67.9zM105.6 78.5H158.4V83.7H105.6zM169.8 78.5H177.3V83.7H169.8zM203.7 78.5H207.5V83.7H203.7zM211.2 78.5H215V83.7H211.2zM218.8 78.5H226.3V83.7H218.8zM233.9 78.5H237.7V83.7H233.9zM252.7 78.5H267.8V83.7H252.7zM52.8 83.7H60.4V89H52.8zM67.9 83.7H105.6V89H67.9zM109.4 83.7H166V89H109.4zM169.8 83.7H173.5V89H169.8zM199.9 83.7H226.3V89H199.9zM252.7 83.7H271.6V89H252.7zM56.6 89H105.6V94.2H56.6zM109.4 89H173.5V94.2H109.4zM199.9 89H222.6V94.2H199.9zM256.5 89H271.6V94.2H256.5zM60.4 94.2H64.1V99.4H60.4zM67.9 94.2H166V99.4H67.9zM173.5 94.2H181.1V99.4H173.5zM215 94.2H222.6V99.4H215zM256.5 94.2H271.6V99.4H256.5zM75.4 99.4H105.6V104.7H75.4zM109.4 99.4H184.8V104.7H109.4zM218.8 99.4H222.6V104.7H218.8zM260.3 99.4H264.1V104.7H260.3zM75.4 104.7H83V109.9H75.4zM98.1 104.7H105.6V109.9H98.1zM124.5 104.7H135.8V109.9H124.5zM139.6 104.7H162.2V109.9H139.6zM181.1 104.7H184.8V109.9H181.1zM211.2 104.7H215V109.9H211.2zM230.1 104.7H241.4V109.9H230.1zM98.1 109.9H101.9V115.1H98.1zM124.5 109.9H135.8V115.1H124.5zM139.6 109.9H158.4V115.1H139.6zM207.5 109.9H215V115.1H207.5zM230.1 109.9H237.7V115.1H230.1zM139.6 115.1H147.1V120.4H139.6zM162.2 115.1H166V120.4H162.2zM211.2 115.1H215V120.4H211.2zM162.2 120.4H166V125.6H162.2zM162.2 125.6H166V130.8H162.2z"/>
<path fill="#a00000" d="M52.8 31.4H56.6V36.6H52.8zM60.4 31.4H67.9V36.6H60.4zM18.9 36.6H26.4V41.9H18.9zM34 36.6H45.3V41.9H34zM49 36.6H56.6V41.9H49zM60.4 36.6H83V41.9H60.4zM18.9 41.9H45.3V47.1H18.9zM49 41.9H86.8V47.1H49zM90.5 41.9H94.3V47.1H90.5zM98.1 41.9H101.9V47.1H98.1zM105.6 41.9H109.4V47.1H105.6zM169.8 41.9H181.1V47.1H169.8zM15.1 47.1H71.7V52.3H15.1zM83 47.1H94.3V52.3H83zM98.1 47.1H113.2V52.3H98.1zM116.9 47.1H124.5V52.3H116.9zM166 47.1H184.8V52.3H166zM233.9 47.1H237.7V52.3H233.9zM15.1 52.3H18.9V57.6H15.1zM26.4 52.3H79.2V57.6H26.4zM86.8 52.3H90.5V57.6H86.8zM94.3 52.3H105.6V57.6H94.3zM109.4 52.3H143.3V57.6H109.4zM147.1 52.3H184.8V57.6H147.1zM192.4 52.3H196.2V57.6H192.4zM207.5 52.3H218.8V57.6H207.5zM226.3 52.3H252.7V57.6H226.3zM267.8 52.3H271.6V57.6H267.8zM15.1 57.6H75.4V62.8H15.1zM79.2 57.6H86.8V62.8H79.2zM98.1 57.6H105.6V62.8H98.1zM109.4 57.6H113.2V62.8H109.4zM116.9 57.6H120.7V62.8H116.9zM124.5 57.6H139.6V62.8H124.5zM150.9 57.6H169.8V62.8H150.9zM173.5 57.6H177.3V62.8H173.5zM181.1 57.6H184.8V62.8H181.1zM192.4 57.6H199.9V62.8H192.4zM207.5 57.6H233.9V62.8H207.5zM241.4 57.6H252.7V62.8H241.4zM256.5 57.6H260.3V62.8H256.5zM264.1 57.6H271.6V62.8H264.1zM7.5 62.8H60.4V68H7.5zM64.1 62.8H75.4V68H64.1zM79.2 62.8H113.2V68H79.2zM116.9 62.8H120.7V68H116.9zM128.3 62.8H135.8V68H128.3zM162.2 62.8H166V68H162.2zM173.5 62.8H177.3V68H173.5zM181.1 62.8H192.4V68H181.1zM196.2 62.8H199.9V68H196.2zM203.7 62.8H233.9V68H203.7zM237.7 62.8H249V68H237.7zM252.7 62.8H271.6V68H252.7zM11.3 68H60.4V73.3H11.3zM64.1 68H105.6V73.3H64.1zM109.4 68H113.2V73.3H109.4zM154.7 68H166V73.3H154.7zM169.8 68H192.4V73.3H169.8zM196.2 68H199.9V73.3H196.2zM222.6 68H226.3V73.3H222.6zM237.7 68H245.2V73.3H237.7zM15.1 73.3H34V78.5H15.1zM37.7 73.3H67.9V78.5H37.7zM71.7 73.3H75.4V78.5H71.7zM79.2 73.3H105.6V78.5H79.2zM158.4 73.3H173.5V78.5H158.4zM177.3 73.3H192.4V78.5H177.3zM196.2 73.3H218.8V78.5H196.2zM222.6 73.3H226.3V78.5H222.6zM237.7 73.3H252.7V78.5H237.7zM267.8 73.3H271.6V78.5H267.8zM18.9 78.5H34V83.7H18.9zM41.5 78.5H67.9V83.7H41.5zM94.3 78.5H105.6V83.7H94.3zM158.4 78.5H169.8V83.7H158.4zM177.3 78.5H203.7V83.7H177.3zM207.5 78.5H211.2V83.7H207.5zM215 78.5H218.8V83.7H215zM226.3 78.5H233.9V83.7H226.3zM237.7 78.5H252.7V83.7H237.7zM267.8 78.5H271.6V83.7H267.8zM22.6 83.7H34V89H22.6zM37.7 83.7H52.8V89H37.7zM60.4 83.7H67.9V89H60.4zM105.6 83.7H109.4V89H105.6zM166 83.7H169.8V89H166zM173.5 83.7H199.9V89H173.5zM226.3 83.7H252.7V89H226.3zM37.7 89H56.6V94.2H37.7zM105.6 89H109.4V94.2H105.6zM173.5 89H199.9V94.2H173.5zM222.6 89H256.5V94.2H222.6zM45.3 94.2H60.4V99.4H45.3zM166 94.2H173.5V99.4H166zM181.1 94.2H215V99.4H181.1zM222.6 94.2H256.5V99.4H222.6zM52.8 99.4H64.1V104.7H52.8zM67.9 99.4H75.4V104.7H67.9zM105.6 99.4H109.4V104.7H105.6zM184.8 99.4H218.8V104.7H184.8zM222.6 99.4H260.3V104.7H222.6zM264.1 99.4H271.6V104.7H264.1zM52.8 104.7H75.4V109.9H52.8zM83 104.7H98.1V109.9H83zM105.6 104.7H124.5V109.9H105.6zM135.8 104.7H139.6V109.9H135.8zM162.2 104.7H181.1V109.9H162.2zM184.8 104.7H211.2V109.9H184.8zM215 104.7H230.1V109.9H215zM241.4 104.7H271.6V109.9H241.4zM56.6 109.9H75.4V115.1H56.6zM83 109.9H98.1V115.1H83zM109.4 109.9H124.5V115.1H109.4zM135.8 109.9H139.6V115.1H135.8zM158.4 109.9H166V115.1H158.4zM173.5 109.9H207.5V115.1H173.5zM222.6 109.9H226.3V115.1H222.6zM241.4 109.9H256.5V115.1H241.4zM260.3 109.9H264.1V115.1H260.3zM267.8 109.9H271.6V115.1H267.8zM56.6 115.1H75.4V120.4H56.6zM86.8 115.1H105.6V120.4H86.8zM109.4 115.1H139.6V120.4H109.4zM154.7 115.1H162.2V120.4H154.7zM177.3 115.1H211.2V120.4H177.3zM245.2 115.1H256.5V120.4H245.2zM267.8 115.1H271.6V120.4H267.8zM64.1 120.4H83V125.6H64.1zM94.3 120.4H147.1V125.6H94.3zM154.7 120.4H162.2V125.6H154.7zM177.3 120.4H211.2V125.6H177.3zM218.8 120.4H222.6V125.6H218.8zM230.1 120.4H237.7V125.6H230.1zM241.4 120.4H245.2V125.6H241.4zM67.9 125.6H86.8V130.8H67.9zM90.5 125.6H147.1V130.8H90.5zM154.7 125.6H162.2V130.8H154.7zM177.3 125.6H196.2V130.8H177.3zM203.7 125.6H230.1V130.8H203.7zM233.9 125.6H245.2V130.8H233.9zM71.7 130.8H90.5V136.1H71.7zM94.3 130.8H98.1V136.1H94.3zM101.9 130.8H116.9V136.1H101.9zM128.3 130.8H147.1V136.1H128.3zM166 130.8H192.4V136.1H166zM199.9 130.8H211.2V136.1H199.9zM218.8 130.8H230.1V136.1H218.8zM237.7 130.8H241.4V136.1H237.7zM83 136.1H90.5V141.3H83zM94.3 136.1H98.1V141.3H94.3zM101.9 136.1H113.2V141.3H101.9zM128.3 136.1H139.6V141.3H128.3zM181.1 136.1H184.8V141.3H181.1zM199.9 136.1H207.5V141.3H199.9zM218.8 136.1H245.2V141.3H218.8zM260.3 136.1H271.6V141.3H260.3zM83 141.3H90.5V146.5H83zM94.3 141.3H98.1V146.5H94.3zM101.9 141.3H113.2V146.5H101.9zM181.1 141.3H184.8V146.5H181.1zM199.9 141.3H207.5V146.5H199.9zM222.6 141.3H226.3V146.5H222.6zM241.4 141.3H245.2V146.5H241.4zM181.1 146.5H184.8V151.8H181.1zM199.9 151.8H215V157H199.9zM199.9 157H215V162.2H199.9zM199.9 162.2H211.2V167.5H199.9zM199.9 167.5H211.2V172.7H199.9zM199.9 172.7H211.2V177.9H199.9zM199.9 177.9H211.2V183.2H199.9zM199.9 183.2H215V188.4H199.9z"/>
<path fill="#f5a014" d="M0 36.6H11.3V41.9H0zM0 41.9H11.3V47.1H0zM0 52.3H11.3V57.6H0zM166 125.6H177.3V130.8H166zM124.5 130.8H128.3V136.1H124.5zM79.2 136.1H83V141.3H79.2zM124.5 136.1H128.3V141.3H124.5zM169.8 136.1H181.1V141.3H169.8zM184.8 136.1H188.6V141.3H184.8zM79.2 141.3H83V146.5H79.2zM124.5 141.3H128.3V146.5H124.5zM173.5 141.3H181.1V146.5H173.5zM184.8 141.3H188.6V146.5H184.8zM79.2 146.5H83V151.8H79.2zM177.3 146.5H181.1V151.8H177.3zM184.8 146.5H188.6V151.8H184.8z"/>
<path fill="#1e788c" d="M64.1 94.2H67.9V99.4H64.1zM30.2 99.4H41.5V104.7H30.2zM64.1 99.4H67.9V104.7H64.1zM30.2 104.7H45.3V109.9H30.2zM34 109.9H45.3V115.1H34zM49 109.9H56.6V115.1H49zM75.4 109.9H83V115.1H75.4zM101.9 109.9H109.4V115.1H101.9zM166 109.9H173.5V115.1H166zM37.7 115.1H56.6V120.4H37.7zM75.4 115.1H83V120.4H75.4zM105.6 115.1H109.4V120.4H105.6zM147.1 115.1H154.7V120.4H147.1zM166 115.1H177.3V120.4H166zM41.5 120.4H64.1V125.6H41.5zM86.8 120.4H94.3V125.6H86.8zM147.1 120.4H154.7V125.6H147.1zM166 120.4H177.3V125.6H166zM49 125.6H67.9V130.8H49zM86.8 125.6H90.5V130.8H86.8zM147.1 125.6H154.7V130.8H147.1zM230.1 125.6H233.9V130.8H230.1zM56.6 130.8H71.7V136.1H56.6zM90.5 130.8H94.3V136.1H90.5zM98.1 130.8H101.9V136.1H98.1zM116.9 130.8H124.5V136.1H116.9zM230.1 130.8H237.7V136.1H230.1zM60.4 136.1H79.2V141.3H60.4zM90.5 136.1H94.3V141.3H90.5zM98.1 136.1H101.9V141.3H98.1zM113.2 136.1H124.5V141.3H113.2zM207.5 136.1H218.8V141.3H207.5zM67.9 141.3H79.2V146.5H67.9zM90.5 141.3H94.3V146.5H90.5zM98.1 141.3H101.9V146.5H98.1zM113.2 141.3H124.5V146.5H113.2zM211.2 141.3H218.8V146.5H211.2zM226.3 141.3H241.4V146.5H226.3zM252.7 141.3H271.6V146.5H252.7zM71.7 146.5H79.2V151.8H71.7zM116.9 146.5H120.7V151.8H116.9zM215 146.5H218.8V151.8H215zM222.6 146.5H271.6V151.8H222.6zM75.4 151.8H79.2V157H75.4zM215 151.8H271.6V157H215zM215 157H271.6V162.2H215zM211.2 162.2H271.6V167.5H211.2zM211.2 167.5H271.6V172.7H211.2zM211.2 172.7H271.6V177.9H211.2zM211.2 177.9H271.6V183.2H211.2zM215 183.2H271.6V188.4H215z"/>
<path fill="#ebf51e" d="M23.1 5.9h2.8v3.9h-2.8zM26.9 11.1h2.8v3.9h-2.8zM57.1 11.1h2.8v3.9h-2.8zM128.7 11.1h2.8v3.9h-2.8zM136.3 11.1h2.8v3.9h-2.8zM196.6 11.1h2.8v3.9h-2.8zM102.3 21.6h2.8v3.9h-2.8zM170.2 21.6h2.8v3.9h-2.8zM196.6 21.6h2.8v3.9h-2.8zM42 26.8h2.8v3.9h-2.8zM113.7 26.8h2.8v3.9h-2.8zM234.4 32.1h2.8v3.9h-2.8zM241.9 32.1h2.8v3.9h-2.8z"/>
<path fill="#413ceb" d="M19.3 11.1h2.8v3.9h-2.8zM38.2 16.4h2.8v3.9h-2.8zM155.1 26.8h2.8v3.9h-2.8zM98.6 37.3h2.8v3.9h-2.8zM260.8 42.5h2.8v3.9h-2.8zM174 47.8h2.8v3.9h-2.8zM211.7 47.8h2.8v3.9h-2.8z"/>
<path fill="#c800ff" d="M23.1 11.1h2.8v3.9h-2.8zM19.3 21.6h2.8v3.9h-2.8zM102.3 26.8h2.8v3.9h-2.8zM241.9 58.2h2.8v3.9h-2.8zM53.3 94.9h2.8v3.9h-2.8zM241.9 105.3h2.8v3.9h-2.8zM83.5 110.6h2.8v3.9h-2.8zM91 110.6h2.8v3.9h-2.8zM87.2 115.8h2.8v3.9h-2.8zM79.7 121h2.8v3.9h-2.8zM106.1 121h2.8v3.9h-2.8zM121.2 121h2.8v3.9h-2.8zM181.6 121h2.8v3.9h-2.8zM200.4 121h2.8v3.9h-2.8zM83.5 126.3h2.8v3.9h-2.8zM113.7 126.3h2.8v3.9h-2.8zM204.2 126.3h2.8v3.9h-2.8z"/>
<path fill="#96dc1e" d="M192.9 11.1h2.8v3.9h-2.8zM155.1 16.4h2.8v3.9h-2.8zM185.3 79.2h2.8v3.9h-2.8zM132.5 115.8h2.8v3.9h-2.8z"/>
<path fill="#1eaa46" d="M109.9 21.6h2.8v3.9h-2.8zM98.6 32.1h2.8v3.9h-2.8zM181.6 32.1h2.8v3.9h-2.8zM34.4 37.3h2.8v3.9h-2.8zM23.1 42.5h2.8v3.9h-2.8zM30.7 42.5h2.8v3.9h-2.8zM151.4 47.8h2.8v3.9h-2.8zM155.1 53h2.8v3.9h-2.8zM174 53h2.8v3.9h-2.8zM181.6 53h2.8v3.9h-2.8zM211.7 53h2.8v3.9h-2.8zM15.6 58.2h2.8v3.9h-2.8zM132.5 58.2h2.8v3.9h-2.8zM26.9 63.5h2.8v3.9h-2.8zM53.3 63.5h2.8v3.9h-2.8zM102.3 63.5h2.8v3.9h-2.8zM264.5 63.5h2.8v3.9h-2.8zM49.5 68.7h2.8v3.9h-2.8zM79.7 68.7h2.8v3.9h-2.8zM38.2 73.9h2.8v3.9h-2.8zM53.3 73.9h2.8v3.9h-2.8zM98.6 73.9h2.8v3.9h-2.8zM241.9 73.9h2.8v3.9h-2.8zM181.6 84.4h2.8v3.9h-2.8zM45.8 89.6h2.8v3.9h-2.8zM249.5 89.6h2.8v3.9h-2.8zM42 94.9h2.8v3.9h-2.8zM241.9 94.9h2.8v3.9h-2.8zM230.6 115.8h2.8v3.9h-2.8zM241.9 115.8h2.8v3.9h-2.8zM200.4 126.3h2.8v3.9h-2.8zM204.2 136.7h2.8v3.9h-2.8zM211.7 183.8h2.8v3.9h-2.8z"/>
<path fill="#a00000" d="M45.8 32.1h2.8v3.9h-2.8zM30.7 37.3h2.8v3.9h-2.8zM226.8 42.5h2.8v3.9h-2.8zM189.1 47.8h2.8v3.9h-2.8zM264.5 47.8h2.8v3.9h-2.8zM185.3 53h2.8v3.9h-2.8zM200.4 53h2.8v3.9h-2.8zM143.8 68.7h2.8v3.9h-2.8zM264.5 68.7h2.8v3.9h-2.8zM151.4 73.9h2.8v3.9h-2.8zM125 79.2h2.8v3.9h-2.8zM94.8 89.6h2.8v3.9h-2.8zM117.4 89.6h2.8v3.9h-2.8zM143.8 89.6h2.8v3.9h-2.8zM215.5 89.6h2.8v3.9h-2.8zM260.8 89.6h2.8v3.9h-2.8zM75.9 94.9h2.8v3.9h-2.8zM79.7 100.1h2.8v3.9h-2.8zM49.5 110.6h2.8v3.9h-2.8zM151.4 110.6h2.8v3.9h-2.8zM230.6 110.6h2.8v3.9h-2.8zM79.7 115.8h2.8v3.9h-2.8zM215.5 115.8h2.8v3.9h-2.8zM83.5 121h2.8v3.9h-2.8zM211.7 142h2.8v3.9h-2.8zM249.5 142h2.8v3.9h-2.8zM245.7 147.2h2.8v3.9h-2.8zM215.5 183.8h2.8v3.9h-2.8z"/>
<path fill="#1e788c" d="M11.8 53h2.8v3.9h-2.8zM26.9 73.9h2.8v3.9h-2.8zM34.4 84.4h2.8v3.9h-2.8zM57.1 105.3h2.8v3.9h-2.8zM83.5 115.8h2.8v3.9h-2.8zM113.7 115.8h2.8v3.9h-2.8zM125 115.8h2.8v3.9h-2.8zM68.4 121h2.8v3.9h-2.8zM98.6 121h2.8v3.9h-2.8zM257 126.3h2.8v3.9h-2.8zM79.7 131.5h2.8v3.9h-2.8zM204.2 131.5h2.8v3.9h-2.8zM219.3 131.5h2.8v3.9h-2.8z"/>
<path fill="#f5a014" d="M166.5 115.8h2.8v3.9h-2.8z"/>
<path fill="#e11e28" d="M268.3 168.1h2.8v3.9h-2.8z"/>
<path fill="#1e788c" d="M173.8 41.4H179.3V45.2H173.8zM168.4 45.2H173.8V49H168.4zM176.5 45.2H182V49H176.5zM184.7 45.2H187.4V49H184.7zM233.6 45.2H236.3V49H233.6zM171.1 49H176.5V52.8H171.1zM179.3 49H182V52.8H179.3zM220 49H228.1V52.8H220zM236.3 49H239V52.8H236.3zM168.4 52.8H171.1V56.5H168.4zM173.8 52.8H182V56.5H173.8zM184.7 52.8H187.4V56.5H184.7zM203.7 52.8H206.4V56.5H203.7zM214.6 52.8H217.3V56.5H214.6zM222.7 52.8H228.1V56.5H222.7zM230.9 52.8H236.3V56.5H230.9zM239 52.8H241.7V56.5H239zM173.8 56.5H176.5V60.3H173.8zM179.3 56.5H192.8V60.3H179.3zM198.3 56.5H203.7V60.3H198.3zM209.1 56.5H214.6V60.3H209.1zM217.3 56.5H225.4V60.3H217.3zM228.1 56.5H233.6V60.3H228.1zM236.3 56.5H244.4V60.3H236.3zM168.4 60.3H176.5V64.1H168.4zM179.3 60.3H195.6V64.1H179.3zM201 60.3H203.7V64.1H201zM206.4 60.3H209.1V64.1H206.4zM217.3 60.3H225.4V64.1H217.3zM228.1 60.3H233.6V64.1H228.1zM239 60.3H244.4V64.1H239zM163 64.1H165.7V67.8H163zM171.1 64.1H179.3V67.8H171.1zM184.7 64.1H187.4V67.8H184.7zM190.1 64.1H192.8V67.8H190.1zM195.6 64.1H209.1V67.8H195.6zM211.8 64.1H214.6V67.8H211.8zM225.4 64.1H228.1V67.8H225.4zM230.9 64.1H233.6V67.8H230.9zM236.3 64.1H244.4V67.8H236.3zM163 67.8H171.1V71.6H163zM182 67.8H184.7V71.6H182zM192.8 67.8H198.3V71.6H192.8zM201 67.8H209.1V71.6H201zM211.8 67.8H214.6V71.6H211.8zM228.1 67.8H241.7V71.6H228.1zM163 71.6H165.7V75.4H163zM168.4 71.6H187.4V75.4H168.4zM192.8 71.6H195.6V75.4H192.8zM198.3 71.6H203.7V75.4H198.3zM206.4 71.6H217.3V75.4H206.4zM230.9 71.6H233.6V75.4H230.9zM165.7 75.4H168.4V79.1H165.7zM171.1 75.4H173.8V79.1H171.1zM176.5 75.4H179.3V79.1H176.5zM190.1 75.4H217.3V79.1H190.1zM225.4 75.4H228.1V79.1H225.4zM230.9 75.4H239V79.1H230.9zM163 79.1H165.7V82.9H163zM171.1 79.1H173.8V82.9H171.1zM179.3 79.1H184.7V82.9H179.3zM190.1 79.1H192.8V82.9H190.1zM195.6 79.1H201V82.9H195.6zM203.7 79.1H206.4V82.9H203.7zM209.1 79.1H211.8V82.9H209.1zM217.3 79.1H222.7V82.9H217.3zM230.9 79.1H236.3V82.9H230.9zM171.1 82.9H173.8V86.7H171.1zM179.3 82.9H184.7V86.7H179.3zM192.8 82.9H195.6V86.7H192.8zM198.3 82.9H201V86.7H198.3zM211.8 82.9H214.6V86.7H211.8zM217.3 82.9H230.9V86.7H217.3zM160.2 86.7H182V90.4H160.2zM184.7 86.7H187.4V90.4H184.7zM190.1 86.7H192.8V90.4H190.1zM195.6 86.7H198.3V90.4H195.6zM201 86.7H203.7V90.4H201zM209.1 86.7H211.8V90.4H209.1zM217.3 86.7H220V90.4H217.3zM222.7 86.7H233.6V90.4H222.7zM171.1 90.4H173.8V94.2H171.1zM179.3 90.4H182V94.2H179.3zM190.1 90.4H195.6V94.2H190.1zM203.7 90.4H206.4V94.2H203.7zM217.3 90.4H222.7V94.2H217.3zM225.4 90.4H228.1V94.2H225.4zM157.5 94.2H165.7V98H157.5zM171.1 94.2H173.8V98H171.1zM179.3 94.2H190.1V98H179.3zM192.8 94.2H198.3V98H192.8zM203.7 94.2H206.4V98H203.7zM217.3 94.2H220V98H217.3zM157.5 98H160.2V101.7H157.5zM165.7 98H168.4V101.7H165.7zM182 98H184.7V101.7H182zM192.8 98H198.3V101.7H192.8zM201 98H220V101.7H201zM222.7 98H228.1V101.7H222.7zM168.4 101.7H176.5V105.5H168.4zM179.3 101.7H182V105.5H179.3zM187.4 101.7H190.1V105.5H187.4zM192.8 101.7H195.6V105.5H192.8zM206.4 101.7H228.1V105.5H206.4zM157.5 105.5H165.7V109.3H157.5zM168.4 105.5H171.1V109.3H168.4zM173.8 105.5H179.3V109.3H173.8zM182 105.5H187.4V109.3H182zM190.1 105.5H192.8V109.3H190.1zM198.3 105.5H206.4V109.3H198.3zM211.8 105.5H214.6V109.3H211.8zM217.3 105.5H220V109.3H217.3zM222.7 105.5H225.4V109.3H222.7zM157.5 109.3H176.5V113H157.5zM179.3 109.3H182V113H179.3zM184.7 109.3H195.6V113H184.7zM203.7 109.3H209.1V113H203.7zM211.8 109.3H222.7V113H211.8zM165.7 113H171.1V116.8H165.7zM179.3 113H184.7V116.8H179.3zM187.4 113H190.1V116.8H187.4zM201 113H203.7V116.8H201zM206.4 113H211.8V116.8H206.4zM165.7 116.8H168.4V120.6H165.7zM171.1 116.8H176.5V120.6H171.1zM190.1 116.8H195.6V120.6H190.1zM198.3 116.8H201V120.6H198.3zM203.7 116.8H209.1V120.6H203.7zM171.1 120.6H176.5V124.3H171.1zM179.3 120.6H182V124.3H179.3zM192.8 120.6H201V124.3H192.8zM171.1 124.3H173.8V128.1H171.1zM179.3 124.3H187.4V128.1H179.3zM190.1 124.3H192.8V128.1H190.1zM195.6 124.3H203.7V128.1H195.6zM182 128.1H184.7V131.9H182zM187.4 128.1H190.1V131.9H187.4zM201 128.1H203.7V131.9H201zM179.3 131.9H184.7V135.6H179.3zM192.8 131.9H198.3V135.6H192.8zM201 131.9H203.7V135.6H201zM184.7 135.6H190.1V139.4H184.7zM192.8 135.6H198.3V139.4H192.8zM179.3 139.4H182V143.2H179.3zM184.7 139.4H187.4V143.2H184.7zM192.8 139.4H198.3V143.2H192.8z"/>
</g></g>
<polygon fill="#fff" points="0,0 14.9,0 13.2,6.7 11.5,13.4 10.4,21.2 9.3,25.7 3.7,33.5 7.1,38 9.3,44.7 11,49.1 9.8,55.8 11,62.5 12.1,63.5 17.7,68.6 23.2,75.3 27.7,82 33.3,88.7 36.6,94.3 36.6,101 38.9,107.7 44.5,112.1 50,116.6 54.5,121.1 58.2,126.5 65.6,135 73,141.6 79.6,145.3 81.8,140.2 89.2,136.5 99.6,133.5 109.9,134.3 115.8,137.2 120.3,138.7 127.6,134.3 135,130.6 140.3,128.4 144.7,124.5 150.3,121.6 158.1,120.5 164.8,121.1 169.3,123.3 171.5,126 174.3,132.7 176,140.5 181.6,145 188.3,143.3 196.1,142.7 201.7,141.6 203.3,145 206,148.3 208.3,155 209.4,162.8 208.3,170.7 206,177.4 206,188.4 0,188.4"/>
<rect x="11.8" y="70.3" width="3.2" height="4.4" fill="#1e788c"/>
<g fill="none" stroke="#000" stroke-width="2.1" stroke-linejoin="round" stroke-linecap="round">
<polyline points="14.9,0 13.2,6.7 11.5,13.4 10.4,21.2 9.3,25.7 3.7,33.5 7.1,38 9.3,44.7 11,49.1 9.8,55.8 11,62.5 12.1,63.5 17.7,68.6 23.2,75.3 27.7,82 33.3,88.7 36.6,94.3 36.6,101 38.9,107.7 44.5,112.1 50,116.6 54.5,121.1 58.2,126.5 65.6,135 73,141.6 79.6,145.3 81.8,140.2 89.2,136.5 99.6,133.5 109.9,134.3 115.8,137.2 120.3,138.7 127.6,134.3 135,130.6 140.3,128.4 144.7,124.5 150.3,121.6 158.1,120.5 164.8,121.1 169.3,123.3 171.5,126 174.3,132.7 176,140.5 181.6,145 188.3,143.3 196.1,142.7 201.7,141.6 203.3,145 206,148.3 208.3,155 209.4,162.8 208.3,170.7 206,177.4 206,188.4"/>
<polyline points="11.5,14.5 16.5,15.1 22.1,14 27.2,14 31.1,18.4 34.4,20.1 38.9,25.7 42.8,30.1 44.5,33.5"/>
<polyline points="44.5,33.5 44.5,27.9 46.7,25.1 51.2,26.2 55.6,27.4 62.3,25.3 67.8,24.7 94,25.2 93.3,11.2 92.4,0"/>
<polyline points="44.5,33.5 43.9,38 44.5,44.7 46.7,49.1 50,53.6"/>
<polyline points="10.2,58.2 20.5,56.3 31.3,55.8 39.2,58.2 46.1,57.2 49.6,53.6"/>
<polyline points="31.3,55.8 33.3,59.7 31.3,64.6 25.4,68.6 20.5,72.5"/>
<polyline points="50,53.6 52.3,60.3 57.9,62.5 64.8,61.5 71.1,63 72.3,68.6 72.8,74.2 73.9,80.9 75.6,87.6 76.2,95.4 75.1,101 76.2,106.5 74.5,109.9 70,113.2 71.1,118.8 74.4,122.4 78.1,126.9 79.6,135.7 79.6,145.3"/>
<polyline points="36.6,93.1 38.9,88.7 41.1,85.3 45.6,83.7 51.2,84.2 53.4,87.6 55.1,92 55.6,97.6 54.5,102.1 55.6,105.4 52.3,112.1 50,116"/>
<polyline points="55.6,101 60.1,99.8 63.4,104.3 65.7,109.9 67.8,113.2 70,113.2"/>
<polyline points="73.4,77.5 76.7,80.9 82.3,81.4 87.9,77.5 91.2,79.7 95.7,82.5 100.2,85.3 104.6,84.8 109.1,83.1 114.1,82.5"/>
<polyline points="135.8,31.8 130.3,31.5 127,32.4 122.5,35.7 119.2,38.5 115.8,41.3 112.5,44.7 106.9,46.9 103.5,51.4 101.3,58.1 97.9,62.9 95.2,69.7 94,75.3 95.7,82.5"/>
<polyline points="114.1,82.5 115.3,89.8 116.9,96.5 116.9,102.1 114.1,107.7 112.5,113.2 112.5,125.9 115.1,130 115.8,137.2"/>
<polyline points="114.1,82.5 114.1,74.2 116.9,73 125.9,72.8 132.6,73 135.8,72.5 139.1,74.2 140.3,77.5"/>
<polyline points="138,75.3 138.6,85.3 139.1,96.5 139.7,107.7 140.3,116.6 141.4,122.2 142.5,125.9"/>
<polyline points="155.3,63.5 150.3,66.3 145.8,69.1 142.5,71.9 141.4,75.3 140.3,77.5"/>
<polyline points="142.5,72.5 141.9,77.5 144.7,83.1 147,90.9 147.5,102.1 147.5,113.2 148.1,121.6"/>
<polyline points="162.6,66.3 164.3,74.2 163.7,82 162,87.6 158.7,93.1 156.5,96.5 156.5,107.7 157,120.8"/>
<polyline points="135.8,31.8 138,36.8 140.3,43.5 143.6,49.1 147,53.6 151.4,56.9 153.7,60.9 155.3,63.5 158.8,62 162.6,66.3"/>
<polyline points="162.6,66.3 163.7,62.9 164.3,55.8 167.1,48 169.3,44.7 174.9,42.4 180.5,43 183.8,44.7 188.3,49.1 193.9,48 198.3,50.2 203.8,54 209.4,52.5 212.7,49.1 218.3,48 223.9,48.6 227.2,50.8 230.6,51.4 233.9,46.9 236.2,42.4"/>
<polyline points="167.6,0 168.2,10 166.5,15.6 165.4,21.2 162,25.1 158.1,26.8 150.3,27.4 144.7,28.5 141.4,31.3 135.8,31.8"/>
<polyline points="253.5,0 252.9,10 248.5,17.9 244,24.6 240.6,30.1 238.4,35.7 236.2,41.3"/>
<polyline points="236.2,41.3 237.3,46.9 240.6,52.5 242.9,58.1 246.2,63 245.1,67.5 240.6,71.9 237.3,78.6 236.2,85.3 231.7,90.9 229.5,97.6 226.7,104.3 223.9,111 220.5,121.1 217.8,117.7 215,114.4 210.5,117.7 207.1,122.2 204.9,125.9 203.3,132 202.8,141"/>
<polyline points="242.9,58.1 248.5,62.9 249.6,69.7 250.7,77.5 252.9,83.1 241.8,84.2 240.6,87 245.1,93.1 249.6,99.8 251.8,106.5 252.9,109.9 249.6,115.5 247.3,121.1 245.1,126 245.7,132.7 247.9,140.5 250.7,148.3 254,155 257.4,159.5 258,170.7"/>
<polyline points="252.9,109.9 257.4,107.7 261.9,106.5 267.4,105.2 271.6,104.5"/>
<polyline points="258,170.7 259.6,159.5 260.2,152.8 263,150.6 267.4,150 271.6,148.9"/>
<polyline points="209.4,164.5 220.5,164.5 226.1,163.4 233.9,164.5 240.6,165.1 248.5,166.8 254,169 258,170.7"/>
<polyline points="220.5,164.5 221.1,177.4 208.3,177.9"/>
<polyline points="236.2,165 235.1,172.9 238.4,174.6 242.9,176.2 244.6,181.8 241.8,188.4"/>
<polygon fill="#a5d632" stroke-width="2" points="236,40.2 240.4,39.4 243.2,45.6 251,47.7 247.8,52.6 245.3,51.5 242.4,49.9 240.4,54.6 238.5,49.7 236.1,43.5"/>
<polyline stroke-width="1.8" points="238.1,41.5 240.8,47.2 244.6,49.6 247.3,49.8"/>
<polyline stroke-width="1.6" points="239.1,46.5 240.1,51.5"/>
<polyline stroke-width="3.6" points="16.3,47.6 20.8,46.6 25.8,46.4 31.8,48.3"/>
</g>
<ellipse cx="201.4" cy="152" rx="1.7" ry="3.8" fill="#000"/>
<path fill="none" stroke="#222" stroke-width="1.1" d="M0 188.4V0H271.6V188.4"/>
<path fill="none" stroke="#333" stroke-width="1" d="M22.6 0v-9.6M60.4 0v-9.6M98.1 0v-9.6M135.8 0v-9.6M173.5 0v-9.6M211.2 0v-9.6M249 0v-9.6M0 31.2h-6.8M271.6 31.2h6.8M0 84h-6.8M271.6 84h6.8M0 136.8h-6.8M271.6 136.8h6.8"/>
<text y="181.2" font-size="20.4"><tspan x="1.5" textLength="22.1" lengthAdjust="spacingAndGlyphs">(g)</tspan> <tspan x="34" textLength="53.6" lengthAdjust="spacingAndGlyphs">NGR50</tspan></text>
</g>
<g transform="translate(329 602.5)">
<g filter="url(#soft)"><rect width="271.6" height="188.4" fill="#fff"/><g shape-rendering="crispEdges">
<path fill="#96dc1e" d="M7.5 0H113.2V5.2H7.5zM116.9 0H135.8V5.2H116.9zM143.3 0H169.8V5.2H143.3zM173.5 0H181.1V5.2H173.5zM203.7 0H271.6V5.2H203.7zM3.8 5.2H101.9V10.5H3.8zM120.7 5.2H143.3V10.5H120.7zM196.2 5.2H271.6V10.5H196.2zM3.8 10.5H15.1V15.7H3.8zM30.2 10.5H41.5V15.7H30.2zM49 10.5H60.4V15.7H49zM124.5 10.5H143.3V15.7H124.5zM147.1 10.5H150.9V15.7H147.1zM196.2 10.5H271.6V15.7H196.2zM34 15.7H45.3V20.9H34zM128.3 15.7H139.6V20.9H128.3zM147.1 15.7H150.9V20.9H147.1zM196.2 15.7H271.6V20.9H196.2zM37.7 20.9H45.3V26.2H37.7zM132 20.9H135.8V26.2H132zM211.2 20.9H271.6V26.2H211.2zM37.7 26.2H41.5V31.4H37.7zM128.3 26.2H143.3V31.4H128.3zM211.2 26.2H260.3V31.4H211.2zM264.1 26.2H271.6V31.4H264.1zM218.8 31.4H222.6V36.6H218.8zM230.1 31.4H245.2V36.6H230.1zM256.5 31.4H260.3V36.6H256.5z"/>
<path fill="#ebf51e" d="M113.2 0H116.9V5.2H113.2zM135.8 0H143.3V5.2H135.8zM169.8 0H173.5V5.2H169.8zM181.1 0H203.7V5.2H181.1zM101.9 5.2H120.7V10.5H101.9zM143.3 5.2H181.1V10.5H143.3zM184.8 5.2H196.2V10.5H184.8zM15.1 10.5H30.2V15.7H15.1zM41.5 10.5H49V15.7H41.5zM79.2 10.5H86.8V15.7H79.2zM94.3 10.5H124.5V15.7H94.3zM143.3 10.5H147.1V15.7H143.3zM150.9 10.5H166V15.7H150.9zM173.5 10.5H181.1V15.7H173.5zM184.8 10.5H196.2V15.7H184.8zM3.8 15.7H26.4V20.9H3.8zM30.2 15.7H34V20.9H30.2zM45.3 15.7H56.6V20.9H45.3zM83 15.7H94.3V20.9H83zM105.6 15.7H109.4V20.9H105.6zM120.7 15.7H128.3V20.9H120.7zM139.6 15.7H147.1V20.9H139.6zM150.9 15.7H166V20.9H150.9zM173.5 15.7H196.2V20.9H173.5zM15.1 20.9H22.6V26.2H15.1zM30.2 20.9H37.7V26.2H30.2zM83 20.9H86.8V26.2H83zM124.5 20.9H132V26.2H124.5zM135.8 20.9H162.2V26.2H135.8zM203.7 20.9H211.2V26.2H203.7zM0 26.2H11.3V31.4H0zM124.5 26.2H128.3V31.4H124.5zM143.3 26.2H166V31.4H143.3zM203.7 26.2H211.2V31.4H203.7zM260.3 26.2H264.1V31.4H260.3zM139.6 31.4H158.4V36.6H139.6zM196.2 31.4H199.9V36.6H196.2zM203.7 31.4H215V36.6H203.7zM222.6 31.4H230.1V36.6H222.6zM249 31.4H256.5V36.6H249zM260.3 31.4H267.8V36.6H260.3zM196.2 36.6H199.9V41.9H196.2zM226.3 36.6H230.1V41.9H226.3zM256.5 36.6H264.1V41.9H256.5zM256.5 41.9H260.3V47.1H256.5z"/>
<path fill="#413ceb" d="M181.1 5.2H184.8V10.5H181.1zM60.4 10.5H79.2V15.7H60.4zM86.8 10.5H94.3V15.7H86.8zM166 10.5H173.5V15.7H166zM181.1 10.5H184.8V15.7H181.1zM26.4 15.7H30.2V20.9H26.4zM56.6 15.7H83V20.9H56.6zM94.3 15.7H105.6V20.9H94.3zM109.4 15.7H120.7V20.9H109.4zM166 15.7H173.5V20.9H166zM22.6 20.9H30.2V26.2H22.6zM45.3 20.9H83V26.2H45.3zM86.8 20.9H124.5V26.2H86.8zM162.2 20.9H203.7V26.2H162.2zM11.3 26.2H18.9V31.4H11.3zM22.6 26.2H37.7V31.4H22.6zM41.5 26.2H49V31.4H41.5zM52.8 26.2H56.6V31.4H52.8zM60.4 26.2H64.1V31.4H60.4zM71.7 26.2H124.5V31.4H71.7zM166 26.2H203.7V31.4H166zM22.6 31.4H26.4V36.6H22.6zM34 31.4H45.3V36.6H34zM86.8 31.4H139.6V36.6H86.8zM158.4 31.4H196.2V36.6H158.4zM199.9 31.4H203.7V36.6H199.9zM215 31.4H218.8V36.6H215zM245.2 31.4H249V36.6H245.2zM267.8 31.4H271.6V36.6H267.8zM105.6 36.6H109.4V41.9H105.6zM113.2 36.6H196.2V41.9H113.2zM199.9 36.6H226.3V41.9H199.9zM230.1 36.6H256.5V41.9H230.1zM264.1 36.6H271.6V41.9H264.1zM128.3 41.9H132V47.1H128.3zM139.6 41.9H162.2V47.1H139.6zM166 41.9H169.8V47.1H166zM196.2 41.9H207.5V47.1H196.2zM215 41.9H256.5V47.1H215zM147.1 47.1H162.2V52.3H147.1zM226.3 47.1H233.9V52.3H226.3zM237.7 47.1H252.7V52.3H237.7zM203.7 52.3H207.5V57.6H203.7zM203.7 57.6H207.5V62.8H203.7z"/>
<path fill="#c800ff" d="M3.8 20.9H15.1V26.2H3.8zM0 31.4H18.9V36.6H0zM11.3 41.9H18.9V47.1H11.3zM3.8 47.1H15.1V52.3H3.8zM11.3 52.3H15.1V57.6H11.3zM3.8 57.6H15.1V62.8H3.8zM34 73.3H37.7V78.5H34zM34 78.5H41.5V83.7H34zM34 83.7H37.7V89H34zM26.4 89H37.7V94.2H26.4zM30.2 94.2H45.3V99.4H30.2zM41.5 99.4H52.8V104.7H41.5zM45.3 104.7H52.8V109.9H45.3zM45.3 109.9H49V115.1H45.3zM215 109.9H222.6V115.1H215zM226.3 109.9H230.1V115.1H226.3zM237.7 109.9H241.4V115.1H237.7zM256.5 109.9H260.3V115.1H256.5zM264.1 109.9H267.8V115.1H264.1zM83 115.1H86.8V120.4H83zM215 115.1H245.2V120.4H215zM256.5 115.1H267.8V120.4H256.5zM83 120.4H86.8V125.6H83zM211.2 120.4H218.8V125.6H211.2zM222.6 120.4H230.1V125.6H222.6zM237.7 120.4H241.4V125.6H237.7zM245.2 120.4H271.6V125.6H245.2zM196.2 125.6H203.7V130.8H196.2zM245.2 125.6H271.6V130.8H245.2zM192.4 130.8H199.9V136.1H192.4zM211.2 130.8H218.8V136.1H211.2zM241.4 130.8H271.6V136.1H241.4zM188.6 136.1H199.9V141.3H188.6zM245.2 136.1H260.3V141.3H245.2zM188.6 141.3H199.9V146.5H188.6zM207.5 141.3H211.2V146.5H207.5zM218.8 141.3H222.6V146.5H218.8zM245.2 141.3H252.7V146.5H245.2zM188.6 146.5H215V151.8H188.6zM218.8 146.5H222.6V151.8H218.8z"/>
<path fill="#1eaa46" d="M18.9 26.2H22.6V31.4H18.9zM49 26.2H52.8V31.4H49zM56.6 26.2H60.4V31.4H56.6zM64.1 26.2H71.7V31.4H64.1zM18.9 31.4H22.6V36.6H18.9zM26.4 31.4H34V36.6H26.4zM45.3 31.4H52.8V36.6H45.3zM56.6 31.4H60.4V36.6H56.6zM67.9 31.4H86.8V36.6H67.9zM11.3 36.6H18.9V41.9H11.3zM26.4 36.6H34V41.9H26.4zM45.3 36.6H49V41.9H45.3zM56.6 36.6H60.4V41.9H56.6zM83 36.6H105.6V41.9H83zM109.4 36.6H113.2V41.9H109.4zM45.3 41.9H49V47.1H45.3zM86.8 41.9H90.5V47.1H86.8zM94.3 41.9H98.1V47.1H94.3zM101.9 41.9H105.6V47.1H101.9zM109.4 41.9H128.3V47.1H109.4zM132 41.9H139.6V47.1H132zM162.2 41.9H166V47.1H162.2zM181.1 41.9H196.2V47.1H181.1zM207.5 41.9H215V47.1H207.5zM260.3 41.9H271.6V47.1H260.3zM71.7 47.1H83V52.3H71.7zM94.3 47.1H98.1V52.3H94.3zM113.2 47.1H116.9V52.3H113.2zM124.5 47.1H147.1V52.3H124.5zM162.2 47.1H166V52.3H162.2zM184.8 47.1H226.3V52.3H184.8zM252.7 47.1H271.6V52.3H252.7zM18.9 52.3H26.4V57.6H18.9zM79.2 52.3H86.8V57.6H79.2zM90.5 52.3H94.3V57.6H90.5zM105.6 52.3H109.4V57.6H105.6zM143.3 52.3H147.1V57.6H143.3zM184.8 52.3H192.4V57.6H184.8zM196.2 52.3H203.7V57.6H196.2zM218.8 52.3H226.3V57.6H218.8zM252.7 52.3H267.8V57.6H252.7zM75.4 57.6H79.2V62.8H75.4zM86.8 57.6H98.1V62.8H86.8zM105.6 57.6H109.4V62.8H105.6zM113.2 57.6H116.9V62.8H113.2zM120.7 57.6H124.5V62.8H120.7zM139.6 57.6H150.9V62.8H139.6zM169.8 57.6H173.5V62.8H169.8zM177.3 57.6H181.1V62.8H177.3zM184.8 57.6H192.4V62.8H184.8zM199.9 57.6H203.7V62.8H199.9zM233.9 57.6H241.4V62.8H233.9zM252.7 57.6H256.5V62.8H252.7zM260.3 57.6H264.1V62.8H260.3zM60.4 62.8H64.1V68H60.4zM75.4 62.8H79.2V68H75.4zM113.2 62.8H116.9V68H113.2zM120.7 62.8H128.3V68H120.7zM135.8 62.8H162.2V68H135.8zM166 62.8H173.5V68H166zM177.3 62.8H181.1V68H177.3zM192.4 62.8H196.2V68H192.4zM199.9 62.8H203.7V68H199.9zM233.9 62.8H237.7V68H233.9zM249 62.8H252.7V68H249zM60.4 68H64.1V73.3H60.4zM105.6 68H109.4V73.3H105.6zM113.2 68H154.7V73.3H113.2zM166 68H169.8V73.3H166zM192.4 68H196.2V73.3H192.4zM199.9 68H222.6V73.3H199.9zM226.3 68H237.7V73.3H226.3zM245.2 68H271.6V73.3H245.2zM67.9 73.3H71.7V78.5H67.9zM75.4 73.3H79.2V78.5H75.4zM105.6 73.3H158.4V78.5H105.6zM173.5 73.3H177.3V78.5H173.5zM192.4 73.3H196.2V78.5H192.4zM218.8 73.3H222.6V78.5H218.8zM226.3 73.3H237.7V78.5H226.3zM252.7 73.3H267.8V78.5H252.7zM67.9 78.5H94.3V83.7H67.9zM105.6 78.5H158.4V83.7H105.6zM169.8 78.5H177.3V83.7H169.8zM203.7 78.5H207.5V83.7H203.7zM211.2 78.5H215V83.7H211.2zM218.8 78.5H226.3V83.7H218.8zM233.9 78.5H237.7V83.7H233.9zM252.7 78.5H267.8V83.7H252.7zM52.8 83.7H60.4V89H52.8zM67.9 83.7H105.6V89H67.9zM109.4 83.7H166V89H109.4zM169.8 83.7H173.5V89H169.8zM199.9 83.7H226.3V89H199.9zM252.7 83.7H271.6V89H252.7zM56.6 89H105.6V94.2H56.6zM109.4 89H173.5V94.2H109.4zM199.9 89H222.6V94.2H199.9zM256.5 89H271.6V94.2H256.5zM60.4 94.2H64.1V99.4H60.4zM67.9 94.2H166V99.4H67.9zM173.5 94.2H181.1V99.4H173.5zM215 94.2H222.6V99.4H215zM256.5 94.2H271.6V99.4H256.5zM75.4 99.4H105.6V104.7H75.4zM109.4 99.4H184.8V104.7H109.4zM218.8 99.4H222.6V104.7H218.8zM260.3 99.4H264.1V104.7H260.3zM75.4 104.7H83V109.9H75.4zM98.1 104.7H105.6V109.9H98.1zM124.5 104.7H135.8V109.9H124.5zM139.6 104.7H162.2V109.9H139.6zM181.1 104.7H184.8V109.9H181.1zM211.2 104.7H215V109.9H211.2zM230.1 104.7H241.4V109.9H230.1zM98.1 109.9H101.9V115.1H98.1zM124.5 109.9H135.8V115.1H124.5zM139.6 109.9H158.4V115.1H139.6zM207.5 109.9H215V115.1H207.5zM230.1 109.9H237.7V115.1H230.1zM139.6 115.1H147.1V120.4H139.6zM162.2 115.1H166V120.4H162.2zM211.2 115.1H215V120.4H211.2zM162.2 120.4H166V125.6H162.2zM162.2 125.6H166V130.8H162.2z"/>
<path fill="#a00000" d="M52.8 31.4H56.6V36.6H52.8zM60.4 31.4H67.9V36.6H60.4zM18.9 36.6H26.4V41.9H18.9zM34 36.6H45.3V41.9H34zM49 36.6H56.6V41.9H49zM60.4 36.6H83V41.9H60.4zM18.9 41.9H45.3V47.1H18.9zM49 41.9H86.8V47.1H49zM90.5 41.9H94.3V47.1H90.5zM98.1 41.9H101.9V47.1H98.1zM105.6 41.9H109.4V47.1H105.6zM169.8 41.9H181.1V47.1H169.8zM15.1 47.1H71.7V52.3H15.1zM83 47.1H94.3V52.3H83zM98.1 47.1H113.2V52.3H98.1zM116.9 47.1H124.5V52.3H116.9zM166 47.1H184.8V52.3H166zM233.9 47.1H237.7V52.3H233.9zM15.1 52.3H18.9V57.6H15.1zM26.4 52.3H79.2V57.6H26.4zM86.8 52.3H90.5V57.6H86.8zM94.3 52.3H105.6V57.6H94.3zM109.4 52.3H143.3V57.6H109.4zM147.1 52.3H184.8V57.6H147.1zM192.4 52.3H196.2V57.6H192.4zM207.5 52.3H218.8V57.6H207.5zM226.3 52.3H252.7V57.6H226.3zM267.8 52.3H271.6V57.6H267.8zM15.1 57.6H75.4V62.8H15.1zM79.2 57.6H86.8V62.8H79.2zM98.1 57.6H105.6V62.8H98.1zM109.4 57.6H113.2V62.8H109.4zM116.9 57.6H120.7V62.8H116.9zM124.5 57.6H139.6V62.8H124.5zM150.9 57.6H169.8V62.8H150.9zM173.5 57.6H177.3V62.8H173.5zM181.1 57.6H184.8V62.8H181.1zM192.4 57.6H199.9V62.8H192.4zM207.5 57.6H233.9V62.8H207.5zM241.4 57.6H252.7V62.8H241.4zM256.5 57.6H260.3V62.8H256.5zM264.1 57.6H271.6V62.8H264.1zM7.5 62.8H60.4V68H7.5zM64.1 62.8H75.4V68H64.1zM79.2 62.8H113.2V68H79.2zM116.9 62.8H120.7V68H116.9zM128.3 62.8H135.8V68H128.3zM162.2 62.8H166V68H162.2zM173.5 62.8H177.3V68H173.5zM181.1 62.8H192.4V68H181.1zM196.2 62.8H199.9V68H196.2zM203.7 62.8H233.9V68H203.7zM237.7 62.8H249V68H237.7zM252.7 62.8H271.6V68H252.7zM11.3 68H60.4V73.3H11.3zM64.1 68H105.6V73.3H64.1zM109.4 68H113.2V73.3H109.4zM154.7 68H166V73.3H154.7zM169.8 68H192.4V73.3H169.8zM196.2 68H199.9V73.3H196.2zM222.6 68H226.3V73.3H222.6zM237.7 68H245.2V73.3H237.7zM15.1 73.3H34V78.5H15.1zM37.7 73.3H67.9V78.5H37.7zM71.7 73.3H75.4V78.5H71.7zM79.2 73.3H105.6V78.5H79.2zM158.4 73.3H173.5V78.5H158.4zM177.3 73.3H192.4V78.5H177.3zM196.2 73.3H218.8V78.5H196.2zM222.6 73.3H226.3V78.5H222.6zM237.7 73.3H252.7V78.5H237.7zM267.8 73.3H271.6V78.5H267.8zM18.9 78.5H34V83.7H18.9zM41.5 78.5H67.9V83.7H41.5zM94.3 78.5H105.6V83.7H94.3zM158.4 78.5H169.8V83.7H158.4zM177.3 78.5H203.7V83.7H177.3zM207.5 78.5H211.2V83.7H207.5zM215 78.5H218.8V83.7H215zM226.3 78.5H233.9V83.7H226.3zM237.7 78.5H252.7V83.7H237.7zM267.8 78.5H271.6V83.7H267.8zM22.6 83.7H34V89H22.6zM37.7 83.7H52.8V89H37.7zM60.4 83.7H67.9V89H60.4zM105.6 83.7H109.4V89H105.6zM166 83.7H169.8V89H166zM173.5 83.7H199.9V89H173.5zM226.3 83.7H252.7V89H226.3zM37.7 89H56.6V94.2H37.7zM105.6 89H109.4V94.2H105.6zM173.5 89H199.9V94.2H173.5zM222.6 89H256.5V94.2H222.6zM45.3 94.2H60.4V99.4H45.3zM166 94.2H173.5V99.4H166zM181.1 94.2H215V99.4H181.1zM222.6 94.2H256.5V99.4H222.6zM52.8 99.4H64.1V104.7H52.8zM67.9 99.4H75.4V104.7H67.9zM105.6 99.4H109.4V104.7H105.6zM184.8 99.4H218.8V104.7H184.8zM222.6 99.4H260.3V104.7H222.6zM264.1 99.4H271.6V104.7H264.1zM52.8 104.7H75.4V109.9H52.8zM83 104.7H98.1V109.9H83zM105.6 104.7H124.5V109.9H105.6zM135.8 104.7H139.6V109.9H135.8zM162.2 104.7H181.1V109.9H162.2zM184.8 104.7H211.2V109.9H184.8zM215 104.7H230.1V109.9H215zM241.4 104.7H271.6V109.9H241.4zM56.6 109.9H75.4V115.1H56.6zM83 109.9H98.1V115.1H83zM109.4 109.9H124.5V115.1H109.4zM135.8 109.9H139.6V115.1H135.8zM158.4 109.9H166V115.1H158.4zM173.5 109.9H207.5V115.1H173.5zM222.6 109.9H226.3V115.1H222.6zM241.4 109.9H256.5V115.1H241.4zM260.3 109.9H264.1V115.1H260.3zM267.8 109.9H271.6V115.1H267.8zM56.6 115.1H75.4V120.4H56.6zM86.8 115.1H105.6V120.4H86.8zM109.4 115.1H139.6V120.4H109.4zM154.7 115.1H162.2V120.4H154.7zM177.3 115.1H211.2V120.4H177.3zM245.2 115.1H256.5V120.4H245.2zM267.8 115.1H271.6V120.4H267.8zM64.1 120.4H83V125.6H64.1zM94.3 120.4H147.1V125.6H94.3zM154.7 120.4H162.2V125.6H154.7zM177.3 120.4H211.2V125.6H177.3zM218.8 120.4H222.6V125.6H218.8zM230.1 120.4H237.7V125.6H230.1zM241.4 120.4H245.2V125.6H241.4zM67.9 125.6H86.8V130.8H67.9zM90.5 125.6H147.1V130.8H90.5zM154.7 125.6H162.2V130.8H154.7zM177.3 125.6H196.2V130.8H177.3zM203.7 125.6H230.1V130.8H203.7zM233.9 125.6H245.2V130.8H233.9zM71.7 130.8H90.5V136.1H71.7zM94.3 130.8H98.1V136.1H94.3zM101.9 130.8H116.9V136.1H101.9zM128.3 130.8H147.1V136.1H128.3zM166 130.8H192.4V136.1H166zM199.9 130.8H211.2V136.1H199.9zM218.8 130.8H230.1V136.1H218.8zM237.7 130.8H241.4V136.1H237.7zM83 136.1H90.5V141.3H83zM94.3 136.1H98.1V141.3H94.3zM101.9 136.1H113.2V141.3H101.9zM128.3 136.1H139.6V141.3H128.3zM181.1 136.1H184.8V141.3H181.1zM199.9 136.1H207.5V141.3H199.9zM218.8 136.1H245.2V141.3H218.8zM260.3 136.1H271.6V141.3H260.3zM83 141.3H90.5V146.5H83zM94.3 141.3H98.1V146.5H94.3zM101.9 141.3H113.2V146.5H101.9zM181.1 141.3H184.8V146.5H181.1zM199.9 141.3H207.5V146.5H199.9zM222.6 141.3H226.3V146.5H222.6zM241.4 141.3H245.2V146.5H241.4zM181.1 146.5H184.8V151.8H181.1zM199.9 151.8H215V157H199.9zM199.9 157H215V162.2H199.9zM199.9 162.2H211.2V167.5H199.9zM199.9 167.5H211.2V172.7H199.9zM199.9 172.7H211.2V177.9H199.9zM199.9 177.9H211.2V183.2H199.9zM199.9 183.2H215V188.4H199.9z"/>
<path fill="#f5a014" d="M0 36.6H11.3V41.9H0zM0 41.9H11.3V47.1H0zM0 52.3H11.3V57.6H0zM166 125.6H177.3V130.8H166zM124.5 130.8H128.3V136.1H124.5zM79.2 136.1H83V141.3H79.2zM124.5 136.1H128.3V141.3H124.5zM169.8 136.1H181.1V141.3H169.8zM184.8 136.1H188.6V141.3H184.8zM79.2 141.3H83V146.5H79.2zM124.5 141.3H128.3V146.5H124.5zM173.5 141.3H181.1V146.5H173.5zM184.8 141.3H188.6V146.5H184.8zM79.2 146.5H83V151.8H79.2zM177.3 146.5H181.1V151.8H177.3zM184.8 146.5H188.6V151.8H184.8z"/>
<path fill="#1e788c" d="M64.1 94.2H67.9V99.4H64.1zM30.2 99.4H41.5V104.7H30.2zM64.1 99.4H67.9V104.7H64.1zM30.2 104.7H45.3V109.9H30.2zM34 109.9H45.3V115.1H34zM49 109.9H56.6V115.1H49zM75.4 109.9H83V115.1H75.4zM101.9 109.9H109.4V115.1H101.9zM166 109.9H173.5V115.1H166zM37.7 115.1H56.6V120.4H37.7zM75.4 115.1H83V120.4H75.4zM105.6 115.1H109.4V120.4H105.6zM147.1 115.1H154.7V120.4H147.1zM166 115.1H177.3V120.4H166zM41.5 120.4H64.1V125.6H41.5zM86.8 120.4H94.3V125.6H86.8zM147.1 120.4H154.7V125.6H147.1zM166 120.4H177.3V125.6H166zM49 125.6H67.9V130.8H49zM86.8 125.6H90.5V130.8H86.8zM147.1 125.6H154.7V130.8H147.1zM230.1 125.6H233.9V130.8H230.1zM56.6 130.8H71.7V136.1H56.6zM90.5 130.8H94.3V136.1H90.5zM98.1 130.8H101.9V136.1H98.1zM116.9 130.8H124.5V136.1H116.9zM230.1 130.8H237.7V136.1H230.1zM60.4 136.1H79.2V141.3H60.4zM90.5 136.1H94.3V141.3H90.5zM98.1 136.1H101.9V141.3H98.1zM113.2 136.1H124.5V141.3H113.2zM207.5 136.1H218.8V141.3H207.5zM67.9 141.3H79.2V146.5H67.9zM90.5 141.3H94.3V146.5H90.5zM98.1 141.3H101.9V146.5H98.1zM113.2 141.3H124.5V146.5H113.2zM211.2 141.3H218.8V146.5H211.2zM226.3 141.3H241.4V146.5H226.3zM252.7 141.3H271.6V146.5H252.7zM71.7 146.5H79.2V151.8H71.7zM116.9 146.5H120.7V151.8H116.9zM215 146.5H218.8V151.8H215zM222.6 146.5H271.6V151.8H222.6zM75.4 151.8H79.2V157H75.4zM215 151.8H271.6V157H215zM215 157H271.6V162.2H215zM211.2 162.2H271.6V167.5H211.2zM211.2 167.5H271.6V172.7H211.2zM211.2 172.7H271.6V177.9H211.2zM211.2 177.9H271.6V183.2H211.2zM215 183.2H271.6V188.4H215z"/>
<path fill="#ebf51e" d="M23.1 5.9h2.8v3.9h-2.8zM26.9 11.1h2.8v3.9h-2.8zM57.1 11.1h2.8v3.9h-2.8zM128.7 11.1h2.8v3.9h-2.8zM136.3 11.1h2.8v3.9h-2.8zM196.6 11.1h2.8v3.9h-2.8zM102.3 21.6h2.8v3.9h-2.8zM170.2 21.6h2.8v3.9h-2.8zM196.6 21.6h2.8v3.9h-2.8zM42 26.8h2.8v3.9h-2.8zM113.7 26.8h2.8v3.9h-2.8zM234.4 32.1h2.8v3.9h-2.8zM241.9 32.1h2.8v3.9h-2.8z"/>
<path fill="#413ceb" d="M19.3 11.1h2.8v3.9h-2.8zM38.2 16.4h2.8v3.9h-2.8zM155.1 26.8h2.8v3.9h-2.8zM98.6 37.3h2.8v3.9h-2.8zM260.8 42.5h2.8v3.9h-2.8zM174 47.8h2.8v3.9h-2.8zM211.7 47.8h2.8v3.9h-2.8z"/>
<path fill="#c800ff" d="M23.1 11.1h2.8v3.9h-2.8zM19.3 21.6h2.8v3.9h-2.8zM102.3 26.8h2.8v3.9h-2.8zM241.9 58.2h2.8v3.9h-2.8zM53.3 94.9h2.8v3.9h-2.8zM241.9 105.3h2.8v3.9h-2.8zM83.5 110.6h2.8v3.9h-2.8zM91 110.6h2.8v3.9h-2.8zM87.2 115.8h2.8v3.9h-2.8zM79.7 121h2.8v3.9h-2.8zM106.1 121h2.8v3.9h-2.8zM121.2 121h2.8v3.9h-2.8zM181.6 121h2.8v3.9h-2.8zM200.4 121h2.8v3.9h-2.8zM83.5 126.3h2.8v3.9h-2.8zM113.7 126.3h2.8v3.9h-2.8zM204.2 126.3h2.8v3.9h-2.8z"/>
<path fill="#96dc1e" d="M192.9 11.1h2.8v3.9h-2.8zM155.1 16.4h2.8v3.9h-2.8zM185.3 79.2h2.8v3.9h-2.8zM132.5 115.8h2.8v3.9h-2.8z"/>
<path fill="#1eaa46" d="M109.9 21.6h2.8v3.9h-2.8zM98.6 32.1h2.8v3.9h-2.8zM181.6 32.1h2.8v3.9h-2.8zM34.4 37.3h2.8v3.9h-2.8zM23.1 42.5h2.8v3.9h-2.8zM30.7 42.5h2.8v3.9h-2.8zM151.4 47.8h2.8v3.9h-2.8zM155.1 53h2.8v3.9h-2.8zM174 53h2.8v3.9h-2.8zM181.6 53h2.8v3.9h-2.8zM211.7 53h2.8v3.9h-2.8zM15.6 58.2h2.8v3.9h-2.8zM132.5 58.2h2.8v3.9h-2.8zM26.9 63.5h2.8v3.9h-2.8zM53.3 63.5h2.8v3.9h-2.8zM102.3 63.5h2.8v3.9h-2.8zM264.5 63.5h2.8v3.9h-2.8zM49.5 68.7h2.8v3.9h-2.8zM79.7 68.7h2.8v3.9h-2.8zM38.2 73.9h2.8v3.9h-2.8zM53.3 73.9h2.8v3.9h-2.8zM98.6 73.9h2.8v3.9h-2.8zM241.9 73.9h2.8v3.9h-2.8zM181.6 84.4h2.8v3.9h-2.8zM45.8 89.6h2.8v3.9h-2.8zM249.5 89.6h2.8v3.9h-2.8zM42 94.9h2.8v3.9h-2.8zM241.9 94.9h2.8v3.9h-2.8zM230.6 115.8h2.8v3.9h-2.8zM241.9 115.8h2.8v3.9h-2.8zM200.4 126.3h2.8v3.9h-2.8zM204.2 136.7h2.8v3.9h-2.8zM211.7 183.8h2.8v3.9h-2.8z"/>
<path fill="#a00000" d="M45.8 32.1h2.8v3.9h-2.8zM30.7 37.3h2.8v3.9h-2.8zM226.8 42.5h2.8v3.9h-2.8zM189.1 47.8h2.8v3.9h-2.8zM264.5 47.8h2.8v3.9h-2.8zM185.3 53h2.8v3.9h-2.8zM200.4 53h2.8v3.9h-2.8zM143.8 68.7h2.8v3.9h-2.8zM264.5 68.7h2.8v3.9h-2.8zM151.4 73.9h2.8v3.9h-2.8zM125 79.2h2.8v3.9h-2.8zM94.8 89.6h2.8v3.9h-2.8zM117.4 89.6h2.8v3.9h-2.8zM143.8 89.6h2.8v3.9h-2.8zM215.5 89.6h2.8v3.9h-2.8zM260.8 89.6h2.8v3.9h-2.8zM75.9 94.9h2.8v3.9h-2.8zM79.7 100.1h2.8v3.9h-2.8zM49.5 110.6h2.8v3.9h-2.8zM151.4 110.6h2.8v3.9h-2.8zM230.6 110.6h2.8v3.9h-2.8zM79.7 115.8h2.8v3.9h-2.8zM215.5 115.8h2.8v3.9h-2.8zM83.5 121h2.8v3.9h-2.8zM211.7 142h2.8v3.9h-2.8zM249.5 142h2.8v3.9h-2.8zM245.7 147.2h2.8v3.9h-2.8zM215.5 183.8h2.8v3.9h-2.8z"/>
<path fill="#1e788c" d="M11.8 53h2.8v3.9h-2.8zM26.9 73.9h2.8v3.9h-2.8zM34.4 84.4h2.8v3.9h-2.8zM57.1 105.3h2.8v3.9h-2.8zM83.5 115.8h2.8v3.9h-2.8zM113.7 115.8h2.8v3.9h-2.8zM125 115.8h2.8v3.9h-2.8zM68.4 121h2.8v3.9h-2.8zM98.6 121h2.8v3.9h-2.8zM257 126.3h2.8v3.9h-2.8zM79.7 131.5h2.8v3.9h-2.8zM204.2 131.5h2.8v3.9h-2.8zM219.3 131.5h2.8v3.9h-2.8z"/>
<path fill="#f5a014" d="M166.5 115.8h2.8v3.9h-2.8z"/>
<path fill="#e11e28" d="M268.3 168.1h2.8v3.9h-2.8z"/>
<path fill="#1e788c" d="M168.4 45.2H171.1V49H168.4zM176.5 45.2H179.3V49H176.5zM168.4 49H171.1V52.8H168.4zM187.4 49H190.1V52.8H187.4zM195.6 49H198.3V52.8H195.6zM217.3 49H220V52.8H217.3zM225.4 49H228.1V52.8H225.4zM230.9 49H233.6V52.8H230.9zM236.3 49H239V52.8H236.3zM171.1 52.8H173.8V56.5H171.1zM176.5 52.8H182V56.5H176.5zM184.7 52.8H187.4V56.5H184.7zM203.7 52.8H206.4V56.5H203.7zM211.8 52.8H214.6V56.5H211.8zM228.1 52.8H230.9V56.5H228.1zM236.3 52.8H241.7V56.5H236.3zM163 56.5H165.7V60.3H163zM173.8 56.5H179.3V60.3H173.8zM184.7 56.5H187.4V60.3H184.7zM217.3 56.5H220V60.3H217.3zM236.3 56.5H241.7V60.3H236.3zM165.7 60.3H168.4V64.1H165.7zM173.8 60.3H176.5V64.1H173.8zM179.3 60.3H182V64.1H179.3zM192.8 60.3H195.6V64.1H192.8zM203.7 60.3H206.4V64.1H203.7zM211.8 60.3H214.6V64.1H211.8zM220 60.3H222.7V64.1H220zM230.9 60.3H236.3V64.1H230.9zM241.7 60.3H244.4V64.1H241.7zM201 64.1H203.7V67.8H201zM217.3 64.1H220V67.8H217.3zM241.7 64.1H244.4V67.8H241.7zM163 67.8H171.1V71.6H163zM176.5 67.8H179.3V71.6H176.5zM201 67.8H203.7V71.6H201zM209.1 67.8H211.8V71.6H209.1zM217.3 67.8H220V71.6H217.3zM228.1 67.8H230.9V71.6H228.1zM233.6 67.8H239V71.6H233.6zM165.7 71.6H168.4V75.4H165.7zM187.4 71.6H190.1V75.4H187.4zM203.7 71.6H206.4V75.4H203.7zM209.1 71.6H211.8V75.4H209.1zM220 71.6H225.4V75.4H220zM228.1 71.6H233.6V75.4H228.1zM165.7 75.4H168.4V79.1H165.7zM173.8 75.4H179.3V79.1H173.8zM182 75.4H184.7V79.1H182zM187.4 75.4H190.1V79.1H187.4zM211.8 75.4H214.6V79.1H211.8zM222.7 75.4H230.9V79.1H222.7zM163 79.1H165.7V82.9H163zM168.4 79.1H171.1V82.9H168.4zM182 79.1H184.7V82.9H182zM190.1 79.1H192.8V82.9H190.1zM203.7 79.1H211.8V82.9H203.7zM214.6 79.1H217.3V82.9H214.6zM222.7 79.1H225.4V82.9H222.7zM173.8 82.9H176.5V86.7H173.8zM203.7 82.9H206.4V86.7H203.7zM214.6 82.9H217.3V86.7H214.6zM163 86.7H168.4V90.4H163zM173.8 86.7H176.5V90.4H173.8zM190.1 86.7H192.8V90.4H190.1zM209.1 86.7H211.8V90.4H209.1zM228.1 86.7H230.9V90.4H228.1zM165.7 90.4H168.4V94.2H165.7zM201 90.4H203.7V94.2H201zM173.8 94.2H176.5V98H173.8zM179.3 94.2H182V98H179.3zM217.3 94.2H220V98H217.3zM157.5 98H160.2V101.7H157.5zM179.3 98H187.4V101.7H179.3zM214.6 98H217.3V101.7H214.6zM220 98H225.4V101.7H220zM157.5 101.7H160.2V105.5H157.5zM165.7 101.7H168.4V105.5H165.7zM173.8 101.7H179.3V105.5H173.8zM195.6 101.7H198.3V105.5H195.6zM209.1 101.7H217.3V105.5H209.1zM222.7 101.7H225.4V105.5H222.7zM160.2 105.5H163V109.3H160.2zM179.3 105.5H184.7V109.3H179.3zM195.6 105.5H198.3V109.3H195.6zM206.4 105.5H209.1V109.3H206.4zM171.1 109.3H173.8V113H171.1zM182 109.3H184.7V113H182zM190.1 109.3H192.8V113H190.1zM201 109.3H203.7V113H201zM211.8 109.3H217.3V113H211.8zM157.5 113H160.2V116.8H157.5zM163 113H165.7V116.8H163zM171.1 113H173.8V116.8H171.1zM187.4 113H192.8V116.8H187.4zM214.6 113H217.3V116.8H214.6zM157.5 116.8H160.2V120.6H157.5zM163 116.8H165.7V120.6H163zM168.4 116.8H171.1V120.6H168.4zM176.5 116.8H179.3V120.6H176.5zM195.6 116.8H201V120.6H195.6zM203.7 116.8H206.4V120.6H203.7zM168.4 120.6H173.8V124.3H168.4zM176.5 120.6H179.3V124.3H176.5zM182 120.6H184.7V124.3H182zM201 120.6H206.4V124.3H201zM176.5 124.3H179.3V128.1H176.5zM182 124.3H184.7V128.1H182zM173.8 128.1H176.5V131.9H173.8zM192.8 128.1H198.3V131.9H192.8zM173.8 131.9H176.5V135.6H173.8zM179.3 131.9H184.7V135.6H179.3zM187.4 131.9H190.1V135.6H187.4zM190.1 135.6H192.8V139.4H190.1zM198.3 135.6H203.7V139.4H198.3z"/>
</g></g>
<polygon fill="#fff" points="0,0 14.9,0 13.2,6.7 11.5,13.4 10.4,21.2 9.3,25.7 3.7,33.5 7.1,38 9.3,44.7 11,49.1 9.8,55.8 11,62.5 12.1,63.5 17.7,68.6 23.2,75.3 27.7,82 33.3,88.7 36.6,94.3 36.6,101 38.9,107.7 44.5,112.1 50,116.6 54.5,121.1 58.2,126.5 65.6,135 73,141.6 79.6,145.3 81.8,140.2 89.2,136.5 99.6,133.5 109.9,134.3 115.8,137.2 120.3,138.7 127.6,134.3 135,130.6 140.3,128.4 144.7,124.5 150.3,121.6 158.1,120.5 164.8,121.1 169.3,123.3 171.5,126 174.3,132.7 176,140.5 181.6,145 188.3,143.3 196.1,142.7 201.7,141.6 203.3,145 206,148.3 208.3,155 209.4,162.8 208.3,170.7 206,177.4 206,188.4 0,188.4"/>
<rect x="11.8" y="70.3" width="3.2" height="4.4" fill="#1e788c"/>
<g fill="none" stroke="#000" stroke-width="2.1" stroke-linejoin="round" stroke-linecap="round">
<polyline points="14.9,0 13.2,6.7 11.5,13.4 10.4,21.2 9.3,25.7 3.7,33.5 7.1,38 9.3,44.7 11,49.1 9.8,55.8 11,62.5 12.1,63.5 17.7,68.6 23.2,75.3 27.7,82 33.3,88.7 36.6,94.3 36.6,101 38.9,107.7 44.5,112.1 50,116.6 54.5,121.1 58.2,126.5 65.6,135 73,141.6 79.6,145.3 81.8,140.2 89.2,136.5 99.6,133.5 109.9,134.3 115.8,137.2 120.3,138.7 127.6,134.3 135,130.6 140.3,128.4 144.7,124.5 150.3,121.6 158.1,120.5 164.8,121.1 169.3,123.3 171.5,126 174.3,132.7 176,140.5 181.6,145 188.3,143.3 196.1,142.7 201.7,141.6 203.3,145 206,148.3 208.3,155 209.4,162.8 208.3,170.7 206,177.4 206,188.4"/>
<polyline points="11.5,14.5 16.5,15.1 22.1,14 27.2,14 31.1,18.4 34.4,20.1 38.9,25.7 42.8,30.1 44.5,33.5"/>
<polyline points="44.5,33.5 44.5,27.9 46.7,25.1 51.2,26.2 55.6,27.4 62.3,25.3 67.8,24.7 94,25.2 93.3,11.2 92.4,0"/>
<polyline points="44.5,33.5 43.9,38 44.5,44.7 46.7,49.1 50,53.6"/>
<polyline points="10.2,58.2 20.5,56.3 31.3,55.8 39.2,58.2 46.1,57.2 49.6,53.6"/>
<polyline points="31.3,55.8 33.3,59.7 31.3,64.6 25.4,68.6 20.5,72.5"/>
<polyline points="50,53.6 52.3,60.3 57.9,62.5 64.8,61.5 71.1,63 72.3,68.6 72.8,74.2 73.9,80.9 75.6,87.6 76.2,95.4 75.1,101 76.2,106.5 74.5,109.9 70,113.2 71.1,118.8 74.4,122.4 78.1,126.9 79.6,135.7 79.6,145.3"/>
<polyline points="36.6,93.1 38.9,88.7 41.1,85.3 45.6,83.7 51.2,84.2 53.4,87.6 55.1,92 55.6,97.6 54.5,102.1 55.6,105.4 52.3,112.1 50,116"/>
<polyline points="55.6,101 60.1,99.8 63.4,104.3 65.7,109.9 67.8,113.2 70,113.2"/>
<polyline points="73.4,77.5 76.7,80.9 82.3,81.4 87.9,77.5 91.2,79.7 95.7,82.5 100.2,85.3 104.6,84.8 109.1,83.1 114.1,82.5"/>
<polyline points="135.8,31.8 130.3,31.5 127,32.4 122.5,35.7 119.2,38.5 115.8,41.3 112.5,44.7 106.9,46.9 103.5,51.4 101.3,58.1 97.9,62.9 95.2,69.7 94,75.3 95.7,82.5"/>
<polyline points="114.1,82.5 115.3,89.8 116.9,96.5 116.9,102.1 114.1,107.7 112.5,113.2 112.5,125.9 115.1,130 115.8,137.2"/>
<polyline points="114.1,82.5 114.1,74.2 116.9,73 125.9,72.8 132.6,73 135.8,72.5 139.1,74.2 140.3,77.5"/>
<polyline points="138,75.3 138.6,85.3 139.1,96.5 139.7,107.7 140.3,116.6 141.4,122.2 142.5,125.9"/>
<polyline points="155.3,63.5 150.3,66.3 145.8,69.1 142.5,71.9 141.4,75.3 140.3,77.5"/>
<polyline points="142.5,72.5 141.9,77.5 144.7,83.1 147,90.9 147.5,102.1 147.5,113.2 148.1,121.6"/>
<polyline points="162.6,66.3 164.3,74.2 163.7,82 162,87.6 158.7,93.1 156.5,96.5 156.5,107.7 157,120.8"/>
<polyline points="135.8,31.8 138,36.8 140.3,43.5 143.6,49.1 147,53.6 151.4,56.9 153.7,60.9 155.3,63.5 158.8,62 162.6,66.3"/>
<polyline points="162.6,66.3 163.7,62.9 164.3,55.8 167.1,48 169.3,44.7 174.9,42.4 180.5,43 183.8,44.7 188.3,49.1 193.9,48 198.3,50.2 203.8,54 209.4,52.5 212.7,49.1 218.3,48 223.9,48.6 227.2,50.8 230.6,51.4 233.9,46.9 236.2,42.4"/>
<polyline points="167.6,0 168.2,10 166.5,15.6 165.4,21.2 162,25.1 158.1,26.8 150.3,27.4 144.7,28.5 141.4,31.3 135.8,31.8"/>
<polyline points="253.5,0 252.9,10 248.5,17.9 244,24.6 240.6,30.1 238.4,35.7 236.2,41.3"/>
<polyline points="236.2,41.3 237.3,46.9 240.6,52.5 242.9,58.1 246.2,63 245.1,67.5 240.6,71.9 237.3,78.6 236.2,85.3 231.7,90.9 229.5,97.6 226.7,104.3 223.9,111 220.5,121.1 217.8,117.7 215,114.4 210.5,117.7 207.1,122.2 204.9,125.9 203.3,132 202.8,141"/>
<polyline points="242.9,58.1 248.5,62.9 249.6,69.7 250.7,77.5 252.9,83.1 241.8,84.2 240.6,87 245.1,93.1 249.6,99.8 251.8,106.5 252.9,109.9 249.6,115.5 247.3,121.1 245.1,126 245.7,132.7 247.9,140.5 250.7,148.3 254,155 257.4,159.5 258,170.7"/>
<polyline points="252.9,109.9 257.4,107.7 261.9,106.5 267.4,105.2 271.6,104.5"/>
<polyline points="258,170.7 259.6,159.5 260.2,152.8 263,150.6 267.4,150 271.6,148.9"/>
<polyline points="209.4,164.5 220.5,164.5 226.1,163.4 233.9,164.5 240.6,165.1 248.5,166.8 254,169 258,170.7"/>
<polyline points="220.5,164.5 221.1,177.4 208.3,177.9"/>
<polyline points="236.2,165 235.1,172.9 238.4,174.6 242.9,176.2 244.6,181.8 241.8,188.4"/>
<polygon fill="#a5d632" stroke-width="2" points="236,40.2 240.4,39.4 243.2,45.6 251,47.7 247.8,52.6 245.3,51.5 242.4,49.9 240.4,54.6 238.5,49.7 236.1,43.5"/>
<polyline stroke-width="1.8" points="238.1,41.5 240.8,47.2 244.6,49.6 247.3,49.8"/>
<polyline stroke-width="1.6" points="239.1,46.5 240.1,51.5"/>
<polyline stroke-width="3.6" points="16.3,47.6 20.8,46.6 25.8,46.4 31.8,48.3"/>
</g>
<ellipse cx="201.4" cy="152" rx="1.7" ry="3.8" fill="#000"/>
<path fill="none" stroke="#222" stroke-width="1.1" d="M0 188.4V0H271.6V188.4"/>
<path fill="none" stroke="#333" stroke-width="1" d="M22.6 0v-9.6M22.6 188.4v9.6M60.4 0v-9.6M60.4 188.4v9.6M98.1 0v-9.6M98.1 188.4v9.6M135.8 0v-9.6M135.8 188.4v9.6M173.5 0v-9.6M173.5 188.4v9.6M211.2 0v-9.6M211.2 188.4v9.6M249 0v-9.6M249 188.4v9.6M0 31.2h-6.8M271.6 31.2h6.8M0 84h-6.8M271.6 84h6.8M0 136.8h-6.8M271.6 136.8h6.8"/>
<text y="181.2" font-size="20.4"><tspan x="1.5" textLength="22" lengthAdjust="spacingAndGlyphs">(h)</tspan> <tspan x="34" textLength="53" lengthAdjust="spacingAndGlyphs">NGR25</tspan></text>
</g>
<path stroke="#000" stroke-width="1.3" d="M42.4 198.4H607.6"/>
<text x="1" y="100.8" font-size="19" textLength="33" lengthAdjust="spacingAndGlyphs">10°N</text>
<text x="19.5" y="205.2" font-size="19" textLength="14.5" lengthAdjust="spacingAndGlyphs">0°</text>
<path stroke="#000" stroke-width="1.3" d="M42.4 395.9H607.6"/>
<text x="1" y="298.3" font-size="19" textLength="33" lengthAdjust="spacingAndGlyphs">10°N</text>
<text x="19.5" y="402.7" font-size="19" textLength="14.5" lengthAdjust="spacingAndGlyphs">0°</text>
<path stroke="#000" stroke-width="1.3" d="M42.4 593.4H607.6"/>
<text x="1" y="495.8" font-size="19" textLength="33" lengthAdjust="spacingAndGlyphs">10°N</text>
<text x="19.5" y="600.2" font-size="19" textLength="14.5" lengthAdjust="spacingAndGlyphs">0°</text>
<path stroke="#000" stroke-width="1.3" d="M42.4 790.9H607.6"/>
<text x="1" y="693.3" font-size="19" textLength="33" lengthAdjust="spacingAndGlyphs">10°N</text>
<text x="19.5" y="797.7" font-size="19" textLength="14.5" lengthAdjust="spacingAndGlyphs">0°</text>
<text x="110.6" y="826" font-size="19" text-anchor="middle" textLength="38" lengthAdjust="spacingAndGlyphs">10°W</text>
<text x="186" y="826" font-size="19" text-anchor="middle" textLength="15" lengthAdjust="spacingAndGlyphs">0°</text>
<text x="261.4" y="826" font-size="19" text-anchor="middle" textLength="36" lengthAdjust="spacingAndGlyphs">10°E</text>
<text x="390.4" y="826" font-size="19" text-anchor="middle" textLength="38" lengthAdjust="spacingAndGlyphs">10°W</text>
<text x="465.8" y="826" font-size="19" text-anchor="middle" textLength="15" lengthAdjust="spacingAndGlyphs">0°</text>
<text x="541.2" y="826" font-size="19" text-anchor="middle" textLength="36" lengthAdjust="spacingAndGlyphs">10°E</text>
<rect x="49.4" y="848.8" width="27.6" height="26.2" fill="#a00000" stroke="#222" stroke-width="0.8"/>
<text x="82" y="864.6" font-size="20.4" textLength="133" lengthAdjust="spacingAndGlyphs">Disturbed forest</text>
<rect x="49.4" y="875" width="27.6" height="26.2" fill="#e11e28" stroke="#222" stroke-width="0.8"/>
<text x="82" y="893.3" font-size="16.6" textLength="89" lengthAdjust="spacingAndGlyphs">Inland water</text>
<rect x="49.4" y="901.3" width="27.6" height="26.2" fill="#f5a014" stroke="#222" stroke-width="0.8"/>
<text x="82" y="922.5" font-size="17.6" textLength="104" lengthAdjust="spacingAndGlyphs">Bog or marsh</text>
<rect x="49.4" y="927.5" width="27.6" height="26.2" fill="#ebf51e" stroke="#222" stroke-width="0.8"/>
<text x="82" y="952.4" font-size="19.5" textLength="94" lengthAdjust="spacingAndGlyphs">Semi-Desert</text>
<rect x="49.4" y="953.8" width="27.6" height="26.2" fill="#96dc1e" stroke="#222" stroke-width="0.8"/>
<text x="82" y="974.4" font-size="16.6" textLength="43.5" lengthAdjust="spacingAndGlyphs">Desert</text>
<rect x="49.4" y="980" width="27.6" height="26.2" fill="#1eaa46" stroke="#222" stroke-width="0.8"/>
<text x="82" y="1003.2" font-size="19" textLength="141" lengthAdjust="spacingAndGlyphs">Tall grass savanna</text>
<rect x="49.4" y="1006.3" width="27.6" height="26.2" fill="#1e788c" stroke="#222" stroke-width="0.8"/>
<text x="82" y="1025.7" font-size="17.6" textLength="106.5" lengthAdjust="spacingAndGlyphs">Tropical forest</text>
<rect x="49.4" y="1032.5" width="27.6" height="26.2" fill="#413ceb" stroke="#222" stroke-width="0.8"/>
<text x="82" y="1055.6" font-size="18.2" textLength="153.5" lengthAdjust="spacingAndGlyphs">Short grass savanna</text>
<rect x="49.4" y="1058.8" width="27.6" height="26.2" fill="#c800ff" stroke="#222" stroke-width="0.8"/>
<text x="82" y="1081.2" font-size="19.2" textLength="151" lengthAdjust="spacingAndGlyphs">Crop/mixed farming</text>
</svg></body></html>
